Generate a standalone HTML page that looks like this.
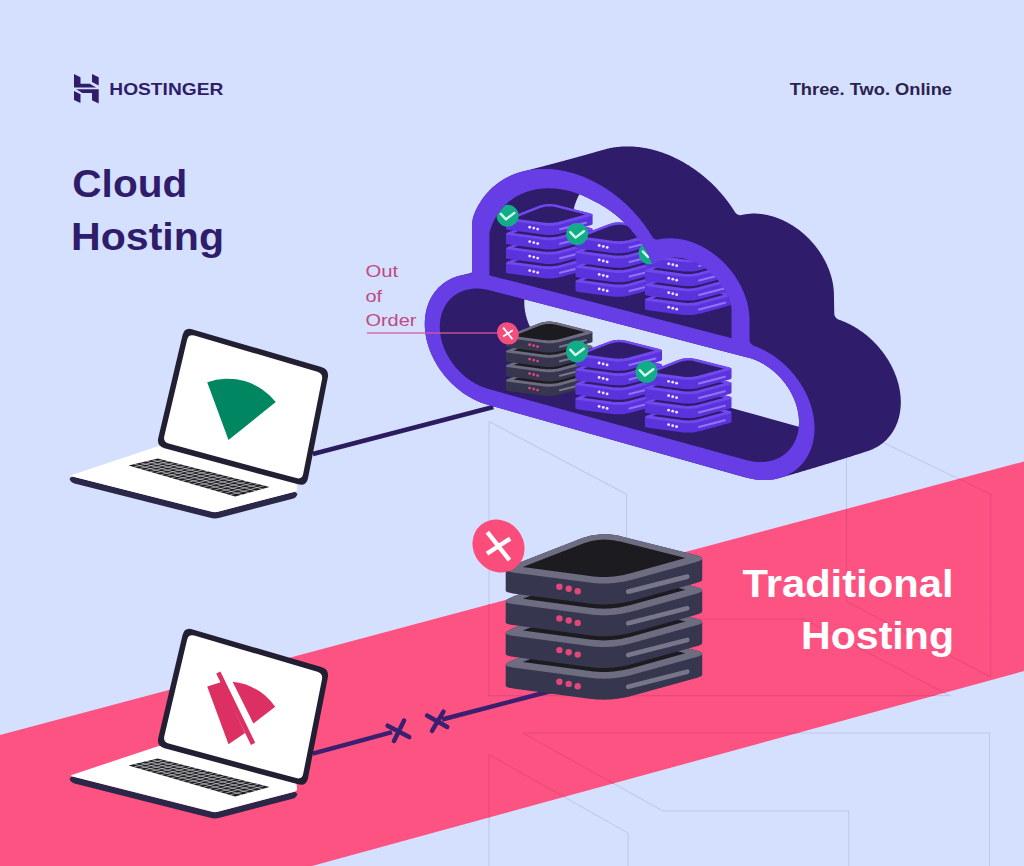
<!DOCTYPE html>
<html><head><meta charset="utf-8"><title>Cloud vs Traditional Hosting</title>
<style>html,body{margin:0;padding:0;background:#d5e0fe;overflow:hidden}svg{display:block}svg text{font-family:"Liberation Sans", sans-serif}</style>
</head><body>
<svg width="1024" height="866" viewBox="0 0 1024 866">
<rect width="1024" height="866" fill="#d5e0fe"/>
<path d="M489,421.6 L489,695.6 L950.8,695.6 M489,421.6 L626.6,494.2 L626.6,619 L804,619 L950.8,696.2 M846.5,440 L846.5,601.5 L990.7,677 L990.7,494.3 L880,441 M522.7,733 L989.5,733 L989.5,866 M522.7,733 L663,811 L848.8,811 L848.8,866 M489,754.4 L489,866 M489,754.4 L628,833 L628,866" fill="none" stroke="#c0c9ea" stroke-width="1.1"/>
<polygon points="0,735 1024,461.5 1024,671 312,866 0,866" fill="#fd5382"/>
<clipPath id="band"><polygon points="0,735 1024,461.5 1024,671 312,866 0,866"/></clipPath>
<path d="M489,421.6 L489,695.6 L950.8,695.6 M489,421.6 L626.6,494.2 L626.6,619 L804,619 L950.8,696.2 M846.5,440 L846.5,601.5 L990.7,677 L990.7,494.3 L880,441 M522.7,733 L989.5,733 L989.5,866 M522.7,733 L663,811 L848.8,811 L848.8,866 M489,754.4 L489,866 M489,754.4 L628,833 L628,866" fill="none" stroke="#e84a79" stroke-width="1.1" clip-path="url(#band)"/>
<line x1="312.9" y1="454.1" x2="493.3" y2="406.9" stroke="#2a1c5e" stroke-width="4.6"/>
<path d="M312.7,753.6 L392,732.2 M442,719.5 L554,690.2" stroke="#3b1f70" stroke-width="4.5" fill="none"/>
<path d="M387.6,725.7 L409.2,737.1 M404.1,720.6 L394,741 M427,715.5 L447.3,727 M443.5,711.7 L432,730.8" stroke="#3b1f70" stroke-width="4.5" stroke-linecap="round" fill="none"/>
<path d="M470.8,273.1 470.8,273.1 470.8,273.1 470.1,273.3 470.1,273.3 469.8,273.3 469.8,273.3 469.4,273.4 469.4,273.4 468.7,273.6 468.7,273.6 468.4,273.7 468.4,273.7 468.0,273.8 468.0,273.8 467.3,273.9 467.3,273.9 467.1,274.0 467.0,274.0 466.6,274.1 466.6,274.1 465.9,274.3 465.9,274.3 465.7,274.3 465.7,274.3 465.2,274.4 465.2,274.4 464.5,274.6 464.5,274.6 464.3,274.6 464.3,274.6 463.8,274.7 463.8,274.7 463.1,274.9 463.1,274.9 462.9,275.0 462.9,275.0 462.4,275.1 462.4,275.1 461.7,275.2 461.7,275.2 461.5,275.3 461.5,275.3 461.0,275.4 461.0,275.4 460.3,275.6 460.3,275.6 459.6,275.7 459.6,275.7 458.9,275.9 458.9,275.9 458.2,276.1 458.2,276.1 457.5,276.3 457.5,276.3 456.8,276.5 456.8,276.6 456.2,276.8 456.1,276.8 455.5,277.0 455.5,277.0 454.8,277.2 454.8,277.3 454.1,277.5 454.1,277.5 453.5,277.8 453.5,277.8 452.8,278.0 452.8,278.0 452.2,278.3 452.1,278.3 451.5,278.6 451.5,278.6 450.9,278.9 450.9,278.9 450.3,279.2 450.2,279.2 449.6,279.5 449.6,279.6 449.0,279.9 449.0,279.9 448.4,280.2 448.4,280.2 447.8,280.6 447.8,280.6 447.2,280.9 447.2,280.9 446.6,281.3 446.6,281.3 446.0,281.7 446.0,281.7 445.4,282.0 445.4,282.1 444.8,282.4 444.8,282.4 444.3,282.8 444.2,282.8 443.7,283.2 443.7,283.3 443.1,283.7 443.1,283.7 442.6,284.1 442.6,284.1 442.1,284.5 442.0,284.5 441.5,285.0 441.5,285.0 441.0,285.4 441.0,285.4 440.5,285.9 440.5,285.9 440.0,286.3 439.9,286.4 439.5,286.8 439.4,286.8 439.0,287.3 438.9,287.3 438.5,287.8 438.4,287.8 438.0,288.3 438.0,288.3 437.5,288.8 437.5,288.8 437.0,289.3 437.0,289.4 436.6,289.9 436.6,289.9 436.1,290.4 436.1,290.4 435.7,290.9 435.7,290.9 435.2,291.5 435.2,291.5 434.8,292.0 434.8,292.1 434.4,292.6 434.4,292.6 434.0,293.2 434.0,293.2 433.6,293.7 433.6,293.8 433.2,294.3 433.2,294.3 432.8,294.9 432.8,294.9 432.4,295.5 432.4,295.5 432.1,296.1 432.0,296.1 431.7,296.7 431.7,296.7 431.3,297.3 431.3,297.4 431.0,298.0 431.0,298.0 430.7,298.6 430.7,298.6 430.3,299.2 430.3,299.3 430.0,299.9 430.0,299.9 429.7,300.5 429.7,300.6 429.4,301.2 429.4,301.2 429.1,301.8 429.1,301.9 428.8,302.5 428.8,302.5 428.6,303.2 428.6,303.2 428.3,303.9 428.3,303.9 428.1,304.5 428.1,304.6 427.8,305.2 427.8,305.3 427.6,305.9 427.6,306.0 427.4,306.6 427.3,306.7 427.1,307.3 427.1,307.4 426.9,308.0 426.9,308.1 426.7,308.8 426.7,308.8 426.5,309.5 426.5,309.5 426.4,310.2 426.4,310.2 426.2,310.9 426.2,311.0 426.0,311.7 426.0,311.7 425.9,312.4 425.9,312.4 425.8,313.2 425.7,313.2 425.6,313.9 425.6,313.9 425.5,314.6 425.5,314.7 425.4,315.4 425.4,315.4 425.3,316.2 425.3,316.2 425.2,316.9 425.2,317.0 425.1,317.7 425.1,317.7 425.0,318.5 425.0,318.5 425.0,319.2 425.0,319.3 424.9,320.0 424.9,320.0 424.9,320.8 424.9,320.8 424.8,321.6 424.8,321.6 424.8,322.4 424.8,322.4 424.8,323.1 424.8,323.2 424.8,323.9 424.8,324.0 424.8,324.7 424.8,324.8 424.8,325.5 424.8,325.6 424.8,326.3 424.8,326.3 424.9,327.1 424.9,327.1 424.9,327.9 424.9,327.9 425.0,328.7 425.0,328.8 425.0,329.5 425.0,329.6 425.1,330.3 425.1,330.4 425.2,331.1 425.2,331.2 425.3,332.0 425.3,332.0 425.4,332.8 425.4,332.8 425.5,333.6 425.5,333.6 425.6,334.4 425.6,334.4 425.7,335.2 425.8,335.2 425.9,336.0 425.9,336.1 426.0,336.8 426.0,336.9 426.2,337.7 426.2,337.7 426.4,338.5 426.4,338.5 426.5,339.3 426.5,339.3 426.7,340.1 426.7,340.1 426.9,340.9 426.9,341.0 427.1,341.7 427.1,341.8 427.3,342.6 427.4,342.6 427.6,343.4 427.6,343.4 427.8,344.2 427.8,344.2 428.1,345.0 428.1,345.0 428.3,345.8 428.3,345.9 428.6,346.6 428.6,346.7 428.8,347.5 428.8,347.5 429.1,348.3 429.1,348.3 429.4,349.1 429.4,349.1 429.7,349.9 429.7,349.9 430.0,350.7 430.0,350.7 430.3,351.5 430.3,351.5 430.7,352.3 430.7,352.3 431.0,353.1 431.0,353.2 431.3,353.9 431.3,354.0 431.7,354.7 431.7,354.8 432.0,355.5 432.1,355.6 432.4,356.3 432.4,356.3 432.8,357.1 432.8,357.1 433.2,357.9 433.2,357.9 433.6,358.7 433.6,358.7 434.0,359.5 434.0,359.5 434.4,360.3 434.4,360.3 434.8,361.0 434.8,361.1 435.2,361.8 435.2,361.8 435.7,362.6 435.7,362.6 436.1,363.4 436.1,363.4 436.6,364.1 436.6,364.2 437.0,364.9 437.0,364.9 437.5,365.7 437.5,365.7 438.0,366.4 438.0,366.4 438.4,367.2 438.5,367.2 438.9,367.9 439.0,367.9 439.4,368.7 439.5,368.7 439.9,369.4 440.0,369.4 440.4,370.1 440.5,370.2 441.0,370.9 441.0,370.9 441.5,371.6 441.5,371.6 442.0,372.3 442.1,372.3 442.6,373.0 442.6,373.1 443.1,373.7 443.1,373.8 443.7,374.5 443.7,374.5 444.2,375.2 444.3,375.2 444.8,375.9 444.8,375.9 445.4,376.5 445.4,376.6 446.0,377.2 446.0,377.3 446.6,377.9 446.6,377.9 447.2,378.6 447.2,378.6 447.8,379.3 447.8,379.3 448.4,379.9 448.4,380.0 449.0,380.6 449.0,380.6 449.6,381.2 449.6,381.3 450.2,381.9 450.3,381.9 450.9,382.5 450.9,382.5 451.5,383.2 451.5,383.2 452.1,383.8 452.2,383.8 452.8,384.4 452.8,384.4 453.5,385.0 453.5,385.0 454.1,385.6 454.1,385.6 454.8,386.2 454.8,386.3 455.5,386.8 455.5,386.8 456.1,387.4 456.2,387.4 456.8,388.0 456.8,388.0 457.5,388.6 457.5,388.6 458.2,389.1 458.2,389.1 458.9,389.7 458.9,389.7 459.6,390.2 459.6,390.3 460.3,390.8 460.3,390.8 461.0,391.3 461.0,391.3 461.7,391.8 461.7,391.9 462.4,392.4 462.5,392.4 463.1,392.9 463.2,392.9 463.9,393.4 463.9,393.4 464.6,393.9 464.6,393.9 465.3,394.4 465.4,394.4 466.1,394.9 466.1,394.9 466.8,395.3 466.8,395.3 467.6,395.8 467.6,395.8 468.3,396.2 468.3,396.3 469.1,396.7 469.1,396.7 469.8,397.1 469.8,397.1 470.6,397.6 470.6,397.6 471.3,398.0 471.3,398.0 472.1,398.4 472.1,398.4 472.8,398.8 472.9,398.8 473.6,399.2 473.6,399.2 474.4,399.6 474.4,399.6 475.2,400.0 475.2,400.0 475.9,400.3 476.0,400.4 476.7,400.7 476.7,400.7 477.5,401.1 477.5,401.1 478.3,401.4 478.3,401.4 479.0,401.7 479.1,401.7 479.8,402.1 479.9,402.1 480.6,402.4 480.6,402.4 481.4,402.7 481.4,402.7 482.2,403.0 482.2,403.0 483.0,403.3 483.0,403.3 483.8,403.5 483.8,403.5 484.5,403.8 484.6,403.8 485.3,404.1 485.4,404.1 486.1,404.3 486.1,404.3 486.9,404.6 486.9,404.6 487.7,404.8 745.8,477.4 746.7,477.6 746.7,477.6 747.5,477.8 747.5,477.9 748.3,478.1 748.3,478.1 749.1,478.3 749.2,478.3 749.9,478.4 750.0,478.4 750.8,478.6 750.8,478.6 751.6,478.8 751.6,478.8 752.4,478.9 752.4,479.0 753.2,479.1 753.3,479.1 754.1,479.2 754.1,479.2 754.9,479.4 754.9,479.4 755.7,479.5 755.7,479.5 756.5,479.6 756.5,479.6 757.3,479.7 757.3,479.7 758.1,479.8 758.2,479.8 758.9,479.8 759.0,479.8 759.7,479.9 759.8,479.9 760.6,480.0 760.6,480.0 761.4,480.0 761.4,480.0 762.2,480.0 762.2,480.0 763.0,480.1 763.0,480.1 763.8,480.1 763.8,480.1 764.6,480.1 764.6,480.1 765.4,480.1 765.4,480.1 766.1,480.1 766.2,480.1 766.9,480.0 767.0,480.0 767.7,480.0 767.7,480.0 768.5,479.9 768.5,479.9 769.3,479.9 769.3,479.9 770.1,479.8 770.1,479.8 770.8,479.7 770.9,479.7 771.6,479.6 771.6,479.6 772.4,479.5 772.4,479.5 773.1,479.4 773.2,479.4 773.9,479.3 773.9,479.3 774.6,479.2 774.7,479.2 775.4,479.0 775.4,479.0 776.1,478.9 776.2,478.9 776.9,478.7 776.9,478.7 777.6,478.5 777.6,478.5 778.3,478.3 778.4,478.3 779.1,478.2 779.1,478.1 779.8,478.0 779.8,477.9 780.4,477.8 780.4,477.8 780.5,477.7 780.6,477.7 781.3,477.5 781.3,477.5 781.8,477.4 781.8,477.4 782.0,477.3 782.0,477.3 782.7,477.1 782.7,477.1 783.3,476.9 783.3,476.9 783.4,476.9 783.5,476.9 784.2,476.7 784.2,476.7 784.8,476.5 784.8,476.5 784.9,476.5 784.9,476.5 785.6,476.3 785.7,476.3 786.3,476.1 786.3,476.1 786.4,476.1 786.4,476.0 787.1,475.8 787.1,475.8 787.7,475.7 787.7,475.7 787.8,475.6 787.9,475.6 788.5,475.4 788.6,475.4 789.2,475.2 789.2,475.2 789.3,475.2 789.3,475.2 790.0,475.0 790.0,475.0 790.7,474.8 790.7,474.8 790.7,474.8 790.8,474.8 791.5,474.6 791.5,474.6 792.2,474.4 792.2,474.4 792.2,474.4 792.2,474.3 792.9,474.2 792.9,474.1 793.6,473.9 793.6,473.9 793.7,473.9 793.7,473.9 794.4,473.7 794.4,473.7 795.1,473.5 795.1,473.5 795.1,473.5 795.1,473.5 795.8,473.3 795.9,473.3 796.6,473.1 796.6,473.1 796.6,473.1 796.6,473.1 796.6,473.1 797.3,472.9 797.3,472.9 798.0,472.7 798.0,472.6 798.0,472.6 798.1,472.6 798.8,472.4 798.8,472.4 799.5,472.2 799.5,472.2 799.5,472.2 799.5,472.2 799.5,472.2 800.2,472.0 800.2,472.0 800.9,471.8 801.0,471.8 801.0,471.8 801.0,471.8 801.7,471.6 801.7,471.6 802.4,471.4 802.4,471.4 802.4,471.3 802.4,471.3 803.1,471.1 803.1,471.1 803.8,470.9 803.9,470.9 803.9,470.9 803.9,470.9 804.6,470.7 804.6,470.7 805.3,470.5 805.3,470.5 805.4,470.5 805.4,470.5 806.0,470.3 806.1,470.3 806.8,470.1 806.8,470.1 806.8,470.0 806.9,470.0 807.5,469.8 807.5,469.8 808.2,469.6 808.2,469.6 808.3,469.6 808.3,469.6 808.9,469.4 809.0,469.4 809.7,469.2 809.7,469.2 809.8,469.2 809.8,469.2 810.4,469.0 810.4,469.0 811.1,468.8 811.1,468.8 811.3,468.7 811.3,468.7 811.9,468.5 811.9,468.5 812.6,468.3 812.6,468.3 812.7,468.3 812.7,468.3 813.3,468.1 813.3,468.1 814.0,467.9 814.1,467.9 814.2,467.8 814.2,467.8 814.8,467.7 814.8,467.7 815.5,467.4 815.5,467.4 815.7,467.4 815.7,467.4 816.2,467.2 816.2,467.2 816.9,467.0 817.0,467.0 817.1,466.9 817.1,466.9 817.7,466.8 817.7,466.8 818.4,466.6 818.4,466.6 818.6,466.5 818.6,466.5 819.1,466.3 819.2,466.3 819.8,466.1 819.9,466.1 820.1,466.1 820.1,466.1 820.6,465.9 820.6,465.9 821.3,465.7 821.3,465.7 821.5,465.6 821.5,465.6 822.0,465.5 822.1,465.5 822.7,465.2 822.8,465.2 823.0,465.2 823.0,465.2 823.5,465.0 823.5,465.0 824.2,464.8 824.2,464.8 824.5,464.7 824.5,464.7 824.9,464.6 825.0,464.6 825.7,464.4 825.7,464.3 825.9,464.3 825.9,464.3 826.4,464.1 826.4,464.1 827.1,463.9 827.1,463.9 827.4,463.8 827.4,463.8 827.8,463.7 827.9,463.7 828.6,463.5 828.6,463.5 828.9,463.4 828.9,463.4 829.3,463.2 829.3,463.2 830.0,463.0 830.0,463.0 830.3,462.9 830.3,462.9 830.7,462.8 830.8,462.8 831.5,462.6 831.5,462.6 831.8,462.5 831.8,462.5 832.2,462.3 832.2,462.3 832.9,462.1 832.9,462.1 833.3,462.0 833.3,462.0 833.6,461.9 833.7,461.9 834.4,461.7 834.4,461.7 834.7,461.6 834.7,461.6 835.1,461.4 835.1,461.4 835.8,461.2 835.8,461.2 836.2,461.1 836.2,461.1 836.5,461.0 836.6,461.0 837.3,460.8 837.3,460.8 837.7,460.6 837.7,460.6 838.0,460.5 838.0,460.5 838.7,460.3 838.7,460.3 839.1,460.2 839.1,460.2 839.4,460.1 839.5,460.1 840.2,459.9 840.2,459.9 840.6,459.7 840.6,459.7 840.9,459.6 840.9,459.6 841.6,459.4 841.6,459.4 842.0,459.3 842.1,459.3 842.3,459.2 842.4,459.2 843.1,459.0 843.1,459.0 843.5,458.8 843.5,458.8 843.8,458.7 843.8,458.7 844.5,458.5 844.5,458.5 845.0,458.4 845.0,458.4 845.2,458.3 845.3,458.3 846.0,458.1 846.0,458.0 846.4,457.9 846.4,457.9 846.7,457.8 846.7,457.8 847.4,457.6 847.4,457.6 847.9,457.4 847.9,457.4 848.1,457.4 848.2,457.4 848.9,457.1 848.9,457.1 849.4,457.0 849.4,457.0 849.6,456.9 849.6,456.9 850.3,456.7 850.3,456.7 850.8,456.5 850.8,456.5 851.0,456.4 851.1,456.4 851.8,456.2 851.8,456.2 852.3,456.0 852.3,456.0 852.5,456.0 852.5,456.0 853.2,455.8 853.2,455.8 853.7,455.6 853.8,455.6 853.9,455.5 854.0,455.5 854.7,455.3 854.7,455.3 855.2,455.1 855.2,455.1 855.4,455.1 855.4,455.1 856.1,454.8 856.1,454.8 856.7,454.7 856.7,454.6 856.8,454.6 856.9,454.6 857.5,454.4 857.6,454.4 858.1,454.2 858.1,454.2 858.3,454.1 858.3,454.1 859.0,453.9 859.0,453.9 859.6,453.7 859.6,453.7 859.7,453.7 859.8,453.7 860.4,453.5 860.5,453.4 861.0,453.2 861.1,453.2 861.2,453.2 861.2,453.2 861.9,453.0 861.9,453.0 862.5,452.8 862.5,452.8 862.6,452.7 862.6,452.7 863.3,452.5 863.4,452.5 864.0,452.3 864.0,452.3 864.1,452.3 864.1,452.3 864.8,452.1 864.8,452.0 865.4,451.8 865.4,451.8 865.5,451.8 865.5,451.8 866.2,451.6 866.2,451.6 866.9,451.4 866.9,451.4 867.0,451.3 867.0,451.3 867.7,451.1 867.7,451.1 868.4,450.9 868.4,450.9 869.1,450.6 869.1,450.6 869.8,450.4 869.8,450.4 870.5,450.1 870.5,450.1 871.2,449.8 871.2,449.8 871.8,449.6 871.9,449.5 872.5,449.3 872.5,449.2 873.2,449.0 873.2,448.9 873.8,448.6 873.9,448.6 874.5,448.3 874.5,448.3 875.2,448.0 875.2,448.0 875.8,447.6 875.8,447.6 876.4,447.3 876.5,447.3 877.1,446.9 877.1,446.9 877.7,446.5 877.7,446.5 878.3,446.2 878.3,446.1 878.9,445.8 879.0,445.8 879.5,445.4 879.6,445.4 880.1,445.0 880.2,445.0 880.7,444.5 880.8,444.5 881.3,444.1 881.3,444.1 881.9,443.7 881.9,443.7 882.5,443.2 882.5,443.2 883.0,442.8 883.0,442.8 883.6,442.3 883.6,442.3 884.1,441.9 884.1,441.8 884.7,441.4 884.7,441.4 885.2,440.9 885.2,440.9 885.7,440.4 885.7,440.4 886.2,439.9 886.3,439.9 886.8,439.4 886.8,439.4 887.3,438.9 887.3,438.8 887.7,438.3 887.8,438.3 888.2,437.8 888.2,437.8 888.7,437.2 888.7,437.2 889.2,436.7 889.2,436.7 889.6,436.1 889.7,436.1 890.1,435.6 890.1,435.5 890.5,435.0 890.5,435.0 891.0,434.4 891.0,434.4 891.4,433.8 891.4,433.8 891.8,433.2 891.8,433.2 892.2,432.6 892.2,432.6 892.6,432.0 892.6,432.0 893.0,431.4 893.0,431.3 893.4,430.7 893.4,430.7 893.8,430.1 893.8,430.1 894.1,429.5 894.1,429.4 894.5,428.8 894.5,428.8 894.8,428.2 894.8,428.1 895.2,427.5 895.2,427.5 895.5,426.8 895.5,426.8 895.8,426.2 895.8,426.1 896.1,425.5 896.1,425.5 896.4,424.8 896.4,424.8 896.7,424.1 896.7,424.1 897.0,423.4 897.0,423.4 897.2,422.7 897.3,422.7 897.5,422.0 897.5,422.0 897.8,421.3 897.8,421.2 898.0,420.6 898.0,420.5 898.2,419.8 898.2,419.8 898.4,419.1 898.5,419.1 898.7,418.4 898.7,418.3 898.9,417.6 898.9,417.6 899.1,416.9 899.1,416.8 899.2,416.1 899.2,416.1 899.4,415.4 899.4,415.3 899.6,414.6 899.6,414.6 899.7,413.8 899.7,413.8 899.9,413.1 899.9,413.0 900.0,412.3 900.0,412.3 900.1,411.5 900.1,411.5 900.2,410.7 900.2,410.7 900.3,409.9 900.3,409.9 900.4,409.2 900.4,409.1 900.5,408.4 900.5,408.3 900.6,407.6 900.6,407.5 900.6,406.8 900.6,406.7 900.7,406.0 900.7,405.9 900.7,405.2 900.7,405.1 900.8,404.4 900.8,404.3 900.8,403.5 900.8,403.5 900.8,402.7 900.8,402.7 900.8,401.9 900.8,401.9 900.8,401.1 900.8,401.1 900.8,400.3 900.8,400.2 900.7,399.4 900.7,399.4 900.7,398.6 900.7,398.6 900.7,397.8 900.6,397.7 900.6,396.9 900.6,396.9 900.5,396.1 900.5,396.1 900.4,395.3 900.4,395.2 900.4,394.4 900.3,394.4 900.3,393.6 900.2,393.6 900.1,392.8 900.1,392.7 900.0,391.9 900.0,391.9 899.9,391.1 899.9,391.0 899.8,390.2 899.7,390.2 899.6,389.4 899.6,389.4 899.4,388.5 899.4,388.5 899.3,387.7 899.3,387.7 899.1,386.9 899.1,386.8 898.9,386.0 898.9,386.0 898.7,385.2 898.7,385.1 898.5,384.3 898.5,384.3 898.3,383.5 898.3,383.4 898.0,382.6 898.0,382.6 897.8,381.8 897.8,381.8 897.6,380.9 897.5,380.9 897.3,380.1 897.3,380.1 897.0,379.2 897.0,379.2 896.8,378.4 896.7,378.4 896.5,377.6 896.5,377.5 896.2,376.7 896.2,376.7 895.9,375.9 895.9,375.9 895.5,375.0 895.5,375.0 895.2,374.2 895.2,374.2 894.9,373.4 894.9,373.3 894.5,372.5 894.5,372.5 894.2,371.7 894.2,371.7 893.8,370.9 893.8,370.8 893.5,370.1 893.4,370.0 893.1,369.2 893.1,369.2 892.7,368.4 892.7,368.4 892.3,367.6 892.3,367.6 891.9,366.8 891.9,366.7 891.5,366.0 891.5,365.9 891.1,365.1 891.0,365.1 890.6,364.3 890.6,364.3 890.2,363.5 890.2,363.5 889.7,362.7 889.7,362.7 889.3,361.9 889.3,361.9 888.8,361.1 888.8,361.1 888.3,360.3 888.3,360.3 887.8,359.5 887.8,359.5 887.4,358.8 887.3,358.7 886.9,358.0 886.8,357.9 886.4,357.2 886.3,357.2 885.8,356.4 885.8,356.4 885.3,355.7 885.3,355.6 884.8,354.9 884.8,354.9 884.2,354.1 884.2,354.1 883.7,353.4 883.7,353.4 883.1,352.6 883.1,352.6 882.6,351.9 882.6,351.9 882.0,351.1 882.0,351.1 881.4,350.4 881.4,350.4 880.9,349.7 880.8,349.7 880.3,349.0 880.2,348.9 879.7,348.2 879.6,348.2 879.1,347.5 879.0,347.5 878.4,346.8 878.4,346.8 877.8,346.1 877.8,346.1 877.2,345.4 877.2,345.4 876.6,344.7 876.6,344.7 875.9,344.0 875.9,344.0 875.3,343.4 875.3,343.3 874.6,342.7 874.6,342.7 874.0,342.0 874.0,342.0 873.3,341.4 873.3,341.3 872.7,340.7 872.6,340.7 872.0,340.1 872.0,340.0 871.3,339.4 871.3,339.4 870.6,338.8 870.6,338.8 869.9,338.2 869.9,338.1 869.2,337.5 869.2,337.5 868.5,336.9 868.5,336.9 867.8,336.3 867.8,336.3 867.1,335.7 867.1,335.7 866.4,335.1 866.4,335.1 865.7,334.6 865.6,334.5 864.9,334.0 864.9,334.0 864.2,333.4 864.2,333.4 863.5,332.8 863.4,332.8 862.7,332.3 862.7,332.3 862.0,331.8 861.9,331.7 861.2,331.2 861.2,331.2 860.5,330.7 860.4,330.7 859.7,330.2 859.7,330.2 858.9,329.7 858.9,329.6 858.2,329.2 858.2,329.1 857.4,328.7 857.4,328.6 856.6,328.2 856.6,328.2 855.9,327.7 855.8,327.7 855.1,327.2 855.0,327.2 854.3,326.8 854.3,326.8 853.5,326.3 853.5,326.3 852.7,325.9 852.7,325.9 851.9,325.4 851.9,325.4 851.1,325.0 851.1,325.0 850.3,324.6 850.3,324.6 849.5,324.2 849.5,324.2 848.7,323.8 848.7,323.8 847.9,323.4 847.9,323.4 847.1,323.0 847.1,323.0 846.3,322.7 846.3,322.6 845.5,322.3 845.5,322.3 844.7,321.9 844.6,321.9 843.9,321.6 843.8,321.6 843.0,321.3 843.0,321.3 842.2,320.9 842.2,320.9 841.4,320.6 841.4,320.6 840.6,320.3 840.6,320.3 839.8,320.0 839.7,320.0 838.9,319.7 838.9,319.7 838.9,319.7 838.9,319.7 838.4,319.6 838.4,319.5 837.9,319.3 837.9,319.3 837.5,319.0 837.4,319.0 837.0,318.7 837.0,318.7 836.6,318.4 836.6,318.4 836.2,318.0 836.2,318.0 835.8,317.6 835.8,317.6 835.5,317.1 835.5,317.1 835.2,316.7 835.1,316.6 834.9,316.2 834.9,316.2 834.7,315.7 834.7,315.7 834.5,315.2 834.5,315.2 834.4,314.7 834.4,314.6 834.3,314.2 834.3,314.1 834.3,313.7 834.3,313.6 833.9,294.4 833.9,294.2 833.9,293.7 833.9,293.4 833.9,293.0 833.9,292.6 833.8,292.2 833.8,291.8 833.8,291.4 833.8,291.0 833.7,290.6 833.7,290.2 833.7,289.8 833.6,289.4 833.6,289.0 833.6,288.6 833.5,288.2 833.5,287.8 833.4,287.4 833.4,287.1 833.3,286.6 833.3,286.3 833.2,285.8 833.2,285.5 833.1,285.0 833.0,284.7 833.0,284.2 832.9,283.9 832.8,283.4 832.8,283.1 832.7,282.6 832.6,282.3 832.5,281.8 832.4,281.5 832.3,281.0 832.3,280.7 832.2,280.2 832.1,279.9 832.0,279.4 831.9,279.1 831.8,278.6 831.7,278.3 831.6,277.8 831.5,277.5 831.4,277.0 831.3,276.7 831.1,276.2 831.0,275.9 830.9,275.4 830.8,275.1 830.7,274.6 830.5,274.3 830.4,273.8 830.3,273.5 830.2,273.0 830.0,272.7 829.9,272.2 829.8,271.9 829.6,271.4 829.5,271.1 829.3,270.6 829.2,270.3 829.0,269.8 828.9,269.5 828.7,269.1 828.6,268.7 828.4,268.3 828.2,267.9 828.1,267.5 827.9,267.1 827.7,266.7 827.6,266.3 827.4,265.9 827.2,265.5 827.1,265.1 826.9,264.7 826.7,264.3 826.5,264.0 826.3,263.5 826.2,263.2 826.0,262.8 825.8,262.4 825.6,262.0 825.4,261.6 825.2,261.2 825.0,260.9 824.8,260.4 824.6,260.1 824.4,259.7 824.2,259.3 824.0,258.9 823.8,258.6 823.5,258.2 823.3,257.8 823.1,257.4 822.9,257.0 822.7,256.6 822.5,256.3 822.2,255.9 822.0,255.5 821.8,255.1 821.5,254.8 821.3,254.4 821.1,254.0 820.8,253.7 820.6,253.3 820.3,252.9 820.1,252.6 819.9,252.2 819.6,251.8 819.4,251.5 819.1,251.1 818.9,250.7 818.6,250.4 818.4,250.0 818.1,249.7 817.8,249.3 817.6,249.0 817.3,248.6 817.1,248.2 816.8,247.9 816.5,247.5 816.2,247.2 816.0,246.8 815.7,246.5 815.4,246.1 815.2,245.8 814.9,245.5 814.6,245.1 814.3,244.8 814.0,244.4 813.8,244.1 813.5,243.7 813.2,243.4 812.9,243.1 812.6,242.7 812.3,242.4 812.0,242.1 811.7,241.7 811.4,241.4 811.1,241.1 810.8,240.8 810.5,240.4 810.2,240.1 809.9,239.8 809.6,239.5 809.3,239.1 809.0,238.8 808.7,238.5 808.4,238.2 808.0,237.9 807.7,237.6 807.4,237.3 807.1,237.0 806.8,236.6 806.5,236.4 806.1,236.0 805.8,235.7 805.5,235.4 805.2,235.1 804.8,234.8 804.5,234.6 804.2,234.2 803.8,234.0 803.5,233.7 803.2,233.4 802.8,233.1 802.5,232.8 802.1,232.5 801.8,232.3 801.5,232.0 801.1,231.7 800.8,231.4 800.5,231.1 800.1,230.9 799.8,230.6 799.4,230.3 799.1,230.1 798.7,229.8 798.4,229.5 798.0,229.3 797.7,229.0 797.3,228.7 797.0,228.5 796.6,228.2 796.2,228.0 795.9,227.7 795.5,227.5 795.2,227.2 794.8,227.0 794.4,226.8 794.1,226.5 793.7,226.3 793.4,226.1 793.0,225.8 792.6,225.6 792.2,225.3 791.9,225.1 791.5,224.9 791.2,224.7 790.8,224.4 790.4,224.2 790.0,224.0 789.7,223.8 789.3,223.6 788.9,223.4 788.5,223.2 788.2,223.0 787.8,222.7 787.4,222.5 787.0,222.3 786.7,222.1 786.3,221.9 785.9,221.8 785.5,221.5 785.2,221.4 784.8,221.2 784.4,221.0 784.0,220.8 783.6,220.6 783.2,220.4 782.9,220.3 782.5,220.1 782.1,219.9 781.7,219.7 781.3,219.6 780.9,219.4 780.6,219.2 780.1,219.1 779.8,218.9 779.4,218.8 779.0,218.6 778.6,218.5 778.2,218.3 777.8,218.2 777.5,218.0 777.0,217.9 776.7,217.7 776.3,217.6 775.9,217.5 775.5,217.3 775.1,217.2 774.7,217.0 774.3,216.9 773.9,216.8 773.6,216.7 773.1,216.6 772.8,216.4 772.4,216.3 772.0,216.2 771.6,216.1 771.2,216.0 770.8,215.9 770.4,215.8 770.0,215.7 769.6,215.6 769.2,215.5 768.9,215.4 768.4,215.3 768.1,215.2 767.7,215.1 767.3,215.0 766.9,214.9 766.5,214.9 766.1,214.8 765.7,214.7 765.3,214.6 764.9,214.6 764.5,214.5 764.2,214.4 763.8,214.4 763.4,214.3 763.0,214.3 762.6,214.2 762.2,214.1 761.8,214.1 761.4,214.0 761.1,214.0 760.7,214.0 760.3,213.9 759.9,213.9 759.5,213.8 759.1,213.8 758.7,213.8 758.3,213.7 758.0,213.7 757.6,213.7 757.2,213.7 756.8,213.7 756.4,213.6 756.0,213.6 755.7,213.6 755.3,213.6 754.9,213.6 754.5,213.6 754.2,213.6 753.8,213.6 753.4,213.6 753.0,213.6 752.6,213.6 752.2,213.6 751.9,213.6 751.5,213.6 751.1,213.7 750.8,213.7 750.4,213.7 750.0,213.7 749.7,213.8 749.3,213.8 748.9,213.8 748.5,213.9 748.2,213.9 747.8,213.9 747.4,214.0 747.1,214.0 746.7,214.1 746.3,214.1 746.0,214.2 745.6,214.2 745.3,214.3 744.9,214.3 744.6,214.4 744.2,214.5 743.8,214.5 743.5,214.6 743.1,214.7 742.8,214.7 742.4,214.8 742.0,214.9 741.7,215.0 741.3,215.1 741.2,215.1 741.2,215.1 740.8,215.2 740.8,215.2 740.3,215.2 740.3,215.2 739.8,215.2 739.8,215.2 739.3,215.1 739.3,215.1 738.8,215.0 738.8,215.0 738.3,214.8 738.3,214.8 737.8,214.6 737.8,214.6 737.3,214.4 737.3,214.3 736.9,214.0 736.8,214.0 736.4,213.7 736.4,213.7 736.0,213.3 736.0,213.3 735.6,212.9 735.6,212.9 735.3,212.5 735.2,212.4 734.9,212.0 734.9,212.0 734.6,211.4 734.3,211.1 733.8,210.2 733.6,209.9 733.0,209.1 732.8,208.7 732.3,207.9 732.0,207.5 731.5,206.7 731.2,206.4 730.7,205.6 730.4,205.2 729.9,204.4 729.6,204.1 729.0,203.3 728.8,202.9 728.2,202.1 728.0,201.8 727.4,201.0 727.1,200.7 726.5,199.9 726.2,199.6 725.6,198.8 725.4,198.4 724.8,197.7 724.5,197.3 723.9,196.6 723.6,196.2 723.0,195.5 722.7,195.2 722.0,194.4 721.8,194.1 721.1,193.3 720.8,193.0 720.2,192.3 719.9,191.9 719.2,191.2 719.0,190.9 718.3,190.2 718.0,189.9 717.3,189.1 717.0,188.8 716.4,188.1 716.1,187.8 715.4,187.1 715.1,186.8 714.4,186.1 714.1,185.8 713.4,185.1 713.1,184.8 712.4,184.1 712.1,183.8 711.4,183.1 711.1,182.8 710.3,182.1 710.0,181.8 709.3,181.2 709.0,180.9 708.2,180.2 707.9,179.9 707.2,179.3 706.9,179.0 706.1,178.4 705.8,178.1 705.1,177.4 704.7,177.2 704.0,176.5 703.7,176.3 702.9,175.6 702.6,175.4 701.8,174.8 701.5,174.5 700.7,173.9 700.4,173.6 699.6,173.0 699.3,172.8 698.5,172.2 698.2,171.9 697.4,171.4 697.0,171.1 696.2,170.5 695.9,170.3 695.1,169.7 694.8,169.5 694.0,168.9 693.6,168.7 692.8,168.1 692.5,167.9 691.7,167.4 691.3,167.1 690.5,166.6 690.2,166.4 689.3,165.8 689.0,165.6 688.2,165.1 687.8,164.9 687.0,164.4 686.7,164.2 685.8,163.7 685.5,163.5 684.6,163.0 684.3,162.8 683.5,162.3 683.1,162.1 682.3,161.6 681.9,161.4 681.1,161.0 680.7,160.8 679.9,160.3 679.5,160.1 678.7,159.7 678.3,159.5 677.4,159.1 677.1,158.9 676.2,158.5 675.9,158.3 675.0,157.9 674.6,157.7 673.8,157.3 673.4,157.1 672.6,156.7 672.2,156.6 671.3,156.2 671.0,156.0 670.1,155.6 669.7,155.5 668.9,155.1 668.5,155.0 667.6,154.6 667.3,154.5 666.4,154.1 666.0,154.0 665.2,153.7 664.8,153.5 663.9,153.2 663.6,153.1 662.7,152.8 662.3,152.6 661.4,152.3 661.1,152.2 660.2,151.9 659.8,151.8 658.9,151.5 658.6,151.4 657.7,151.1 657.3,151.0 656.5,150.7 656.1,150.6 655.2,150.4 654.8,150.3 654.0,150.0 653.6,149.9 652.7,149.7 652.3,149.6 651.5,149.4 651.1,149.3 650.2,149.1 649.8,149.0 649.0,148.8 648.6,148.7 647.7,148.6 647.3,148.5 646.5,148.3 646.1,148.2 645.2,148.1 644.9,148.0 644.0,147.9 643.6,147.8 642.7,147.7 642.4,147.6 641.5,147.5 641.1,147.4 640.3,147.3 639.9,147.2 639.0,147.1 638.6,147.1 637.8,147.0 637.4,147.0 636.5,146.9 636.2,146.8 635.3,146.8 634.9,146.7 634.1,146.7 633.7,146.6 632.9,146.6 632.5,146.6 631.6,146.5 631.3,146.5 630.4,146.5 630.1,146.5 629.2,146.4 628.8,146.4 628.0,146.4 627.6,146.4 626.8,146.4 626.4,146.4 625.6,146.4 625.2,146.4 624.4,146.5 624.0,146.5 623.2,146.5 622.8,146.5 622.0,146.6 621.6,146.6 620.8,146.7 620.5,146.7 619.6,146.7 619.3,146.8 618.4,146.9 618.1,146.9 617.3,147.0 616.9,147.0 616.1,147.1 615.8,147.2 614.9,147.3 614.6,147.3 613.8,147.4 613.4,147.5 612.6,147.6 612.3,147.7 611.5,147.8 611.2,147.9 610.4,148.1 610.0,148.1 609.2,148.3 608.9,148.4 608.1,148.5 607.8,148.6 607.0,148.8 606.7,148.9 605.9,149.1 605.6,149.2 604.8,149.4 604.4,149.5 603.7,149.7 603.4,149.8 603.2,149.8 603.2,149.8 603.1,149.9 602.3,150.1 602.0,150.2 601.9,150.2 601.8,150.2 601.7,150.2 601.0,150.5 600.6,150.6 600.5,150.6 600.5,150.6 600.4,150.6 599.6,150.9 599.3,151.0 599.2,151.0 599.2,151.0 599.0,151.0 598.2,151.2 597.9,151.3 597.8,151.4 597.8,151.4 597.7,151.4 596.9,151.6 596.6,151.7 596.5,151.8 596.5,151.8 596.3,151.8 595.5,152.0 595.2,152.1 595.2,152.1 595.1,152.1 594.9,152.2 594.2,152.4 593.8,152.5 593.8,152.5 593.8,152.5 593.6,152.6 592.8,152.8 592.5,152.9 592.5,152.9 592.5,152.9 592.2,153.0 591.5,153.2 591.1,153.3 591.1,153.3 590.9,153.3 590.1,153.6 589.8,153.6 589.8,153.7 589.5,153.7 588.7,153.9 588.5,154.0 588.5,154.0 588.1,154.1 587.4,154.3 587.1,154.4 587.1,154.4 587.1,154.4 586.8,154.5 586.0,154.7 585.8,154.8 585.8,154.8 585.8,154.8 585.4,154.9 584.7,155.1 584.4,155.2 584.4,155.2 584.4,155.2 584.1,155.3 583.3,155.5 583.1,155.5 583.1,155.5 583.0,155.5 582.7,155.6 581.9,155.9 581.8,155.9 581.8,155.9 581.7,155.9 581.3,156.0 580.6,156.2 580.4,156.3 580.4,156.3 580.3,156.3 580.0,156.4 579.2,156.6 579.1,156.6 579.1,156.6 578.9,156.7 578.6,156.8 577.8,157.0 577.7,157.0 577.7,157.0 577.6,157.1 577.3,157.1 576.5,157.4 576.4,157.4 576.4,157.4 576.2,157.4 575.9,157.5 575.1,157.7 575.0,157.8 575.0,157.8 574.9,157.8 574.5,157.9 573.8,158.1 573.7,158.1 573.7,158.1 573.5,158.2 573.2,158.3 572.4,158.5 572.4,158.5 572.3,158.5 572.1,158.6 571.8,158.6 571.0,158.9 571.0,158.9 571.0,158.9 570.8,158.9 570.4,159.0 569.7,159.2 569.7,159.2 569.7,159.2 569.4,159.3 569.1,159.4 568.3,159.6 568.3,159.6 568.0,159.7 567.7,159.8 567.0,160.0 567.0,160.0 566.7,160.0 566.4,160.1 565.7,160.3 565.7,160.3 565.3,160.4 565.0,160.5 564.3,160.7 564.3,160.7 564.0,160.8 563.6,160.9 563.0,161.0 563.0,161.0 562.6,161.1 562.3,161.2 561.6,161.4 561.6,161.4 561.2,161.5 560.9,161.6 560.3,161.8 560.3,161.8 559.9,161.9 559.5,162.0 559.0,162.1 559.0,162.1 558.5,162.2 558.2,162.3 557.6,162.5 557.6,162.5 557.1,162.6 556.8,162.7 556.3,162.8 556.3,162.8 555.8,163.0 555.4,163.1 555.0,163.2 555.0,163.2 554.4,163.3 554.1,163.4 553.6,163.5 553.6,163.5 553.0,163.7 552.7,163.8 552.3,163.9 552.3,163.9 551.7,164.1 551.3,164.1 550.9,164.3 550.9,164.3 550.3,164.4 550.0,164.5 549.6,164.6 549.6,164.6 548.9,164.8 548.6,164.9 548.3,165.0 548.3,165.0 547.6,165.1 547.2,165.2 546.9,165.3 546.9,165.3 546.2,165.5 545.9,165.6 545.6,165.7 545.6,165.7 544.8,165.8 544.5,165.9 544.2,166.0 544.2,166.0 543.5,166.2 543.1,166.3 542.9,166.4 542.9,166.4 542.9,166.4 542.1,166.6 541.8,166.6 541.5,166.7 541.5,166.7 541.5,166.7 540.7,166.9 540.4,167.0 540.2,167.1 540.2,167.1 540.1,167.1 539.4,167.3 539.0,167.4 538.8,167.4 538.8,167.4 538.8,167.4 538.0,167.6 537.7,167.7 537.5,167.8 537.5,167.8 537.4,167.8 536.6,168.0 536.3,168.1 536.1,168.1 536.1,168.1 536.0,168.1 535.3,168.3 534.9,168.4 534.8,168.4 534.8,168.4 534.7,168.5 533.9,168.7 533.6,168.8 533.4,168.8 533.4,168.8 533.3,168.8 532.5,169.0 532.2,169.1 532.1,169.1 532.1,169.1 531.9,169.2 531.1,169.4 530.8,169.5 530.7,169.5 530.7,169.5 530.6,169.5 529.8,169.7 529.5,169.8 529.4,169.8 529.4,169.8 529.2,169.9 528.4,170.1 528.1,170.2 528.0,170.2 528.0,170.2 527.8,170.2 527.0,170.4 526.7,170.5 526.7,170.5 526.7,170.5 526.4,170.6 525.7,170.8 525.3,170.8 525.3,170.8 525.3,170.8 525.1,170.9 524.3,171.1 524.0,171.2 524.0,171.2 523.7,171.3 522.9,171.5 522.6,171.5 521.8,171.7 521.5,171.8 520.7,172.0 520.4,172.1 519.6,172.4 519.3,172.5 518.6,172.7 518.2,172.8 517.5,173.1 517.2,173.2 516.4,173.4 516.1,173.5 515.4,173.8 515.1,173.9 514.3,174.2 514.0,174.3 513.3,174.6 513.0,174.7 512.3,175.0 512.0,175.2 511.2,175.5 510.9,175.6 510.2,175.9 509.9,176.1 509.2,176.4 508.9,176.6 508.2,176.9 507.9,177.0 507.2,177.4 506.9,177.6 506.3,177.9 506.0,178.1 505.3,178.4 505.0,178.6 504.3,179.0 504.1,179.2 503.4,179.5 503.1,179.7 502.4,180.1 502.2,180.3 501.5,180.7 501.2,180.9 500.6,181.3 500.3,181.5 499.7,181.9 499.4,182.1 498.8,182.5 498.5,182.7 497.9,183.2 497.7,183.4 497.0,183.8 496.8,184.0 496.2,184.5 495.9,184.7 495.3,185.2 495.1,185.4 494.5,185.9 494.2,186.1 493.6,186.6 493.4,186.8 492.8,187.3 492.6,187.5 492.0,188.1 491.8,188.3 491.2,188.8 491.0,189.0 490.4,189.6 490.2,189.8 489.7,190.3 489.4,190.6 488.9,191.1 488.7,191.4 488.2,191.9 487.9,192.2 487.4,192.7 487.2,193.0 486.7,193.5 486.5,193.8 486.0,194.4 485.8,194.6 485.3,195.2 485.1,195.5 484.6,196.1 484.4,196.3 483.9,197.0 483.7,197.2 483.3,197.8 483.1,198.1 482.6,198.7 482.4,199.0 482.0,199.6 481.8,199.9 481.4,200.5 481.2,200.8 480.8,201.5 480.6,201.8 480.2,202.4 480.0,202.7 479.6,203.4 479.4,203.6 479.0,204.3 478.8,204.6 478.5,205.3 478.3,205.6 477.9,206.3 477.8,206.6 477.4,207.3 477.2,207.5 476.9,208.3 476.7,208.6 476.4,209.3 476.2,209.6 475.9,210.3 475.7,210.6 475.4,211.3 475.3,211.6 475.0,212.3 474.8,212.7 474.5,213.4 474.4,213.7 474.1,214.4 474.1,214.4 474.1,214.4 474.1,214.4 473.7,215.6 473.7,215.6 473.6,215.7 473.6,215.7 473.2,217.0 473.2,217.0 473.2,217.1 473.2,217.1 472.9,218.3 472.9,218.3 472.9,218.4 472.9,218.5 472.6,219.7 472.6,219.7 472.6,219.9 472.6,219.9 472.5,221.2 472.5,221.2 472.4,221.3 472.4,221.3 472.3,222.6 472.3,222.6 472.3,222.8 472.3,222.8 472.3,224.2 472.3,224.2 472.3,224.2 472.3,224.2 472.3,270.4 472.3,270.4 472.3,270.8 472.3,270.9 472.2,271.3 472.2,271.3 472.1,271.7 472.1,271.8 471.9,272.1 471.9,272.2 471.7,272.5 471.7,272.5 471.5,272.9 471.5,272.9 471.5,272.9 471.5,272.9 471.4,272.9 471.4,273.0 471.4,273.0 471.3,273.0 471.2,273.0 471.2,273.0Z" fill="#2f1c6a"/>
<path d="M724.6,289.5 724.4,289.1 724.3,288.9 724.1,288.6 724.0,288.4 723.8,288.1 723.7,288.0 723.6,287.8 723.4,287.5 723.3,287.3 723.1,286.9 723.0,286.7 722.7,286.4 722.6,286.2 722.4,285.8 722.3,285.7 722.0,285.3 721.9,285.1 721.7,284.8 721.6,284.8 721.5,284.6 721.5,284.5 721.3,284.2 721.2,284.1 720.9,283.7 720.8,283.5 720.5,283.2 720.4,283.0 720.1,282.6 720.0,282.5 719.9,282.3 719.7,282.1 719.6,282.0 719.3,281.6 719.2,281.5 719.1,281.2 718.9,281.1 718.8,281.0 718.5,280.6 718.4,280.4 718.1,280.1 718.0,279.9 717.9,279.9 717.7,279.6 717.6,279.4 717.3,279.1 717.2,279.0 717.1,278.8 716.9,278.6 716.7,278.5 716.7,278.4 716.4,278.1 716.3,278.0 716.3,278.0 716.0,277.6 715.9,277.5 715.6,277.2 715.4,277.0 715.1,276.7 715.0,276.5 714.9,276.4 714.7,276.2 714.5,276.1 714.2,275.7 714.1,275.6 714.0,275.5 713.8,275.3 713.6,275.1 713.4,274.9 713.3,274.8 713.2,274.7 712.8,274.4 712.7,274.2 712.4,273.9 712.2,273.8 711.9,273.5 711.8,273.3 711.4,273.0 711.3,272.9 710.9,272.6 710.8,272.5 710.5,272.2 710.3,272.1 710.1,271.8 710.0,271.8 709.8,271.6 709.5,271.3 709.3,271.2 709.0,270.9 708.8,270.8 708.5,270.5 708.3,270.4 708.0,270.1 707.8,270.0 707.5,269.7 707.3,269.6 707.0,269.3 706.8,269.2 706.5,268.9 706.3,268.8 706.1,268.7 706.0,268.6 705.8,268.4 705.6,268.3 705.4,268.2 705.3,268.1 704.9,267.8 704.8,267.7 704.4,267.4 704.2,267.3 703.9,267.1 703.7,267.0 703.7,267.0 703.3,266.7 703.2,266.6 702.8,266.4 702.7,266.3 702.4,266.1 702.3,266.0 702.1,265.9 701.7,265.7 701.6,265.6 701.2,265.4 701.0,265.3 701.0,265.3 700.7,265.0 700.5,265.0 700.1,264.7 700.0,264.6 699.6,264.4 699.4,264.3 699.0,264.1 698.9,264.0 698.6,263.9 698.5,263.8 698.3,263.7 697.9,263.5 697.8,263.4 697.4,263.2 697.2,263.1 696.8,263.0 696.7,262.9 696.3,262.7 696.1,262.6 695.7,262.4 695.5,262.3 695.2,262.2 695.0,262.1 694.9,262.0 694.6,261.9 694.4,261.8 694.0,261.6 693.9,261.6 693.5,261.4 693.3,261.3 692.9,261.2 692.7,261.1 692.3,260.9 692.2,260.9 691.8,260.7 691.6,260.7 691.3,260.5 691.2,260.5 691.0,260.4 690.6,260.3 690.5,260.2 690.3,260.2 690.1,260.1 689.9,260.0 689.5,259.9 689.3,259.8 688.9,259.7 688.8,259.7 688.6,259.6 688.4,259.5 688.2,259.5 687.8,259.4 687.6,259.3 687.2,259.2 687.1,259.1 686.7,259.0 686.5,259.0 686.3,258.9 686.1,258.9 685.9,258.8 685.7,258.8 685.5,258.7 685.3,258.7 684.9,258.6 684.8,258.6 684.4,258.5 684.2,258.4 683.8,258.3 683.6,258.3 683.4,258.3 683.2,258.2 683.1,258.2 682.7,258.1 682.5,258.1 682.1,258.0 681.9,258.0 681.8,258.0 681.5,257.9 681.4,257.9 681.0,257.8 680.8,257.8 680.4,257.7 680.2,257.7 679.8,257.7 679.7,257.6 679.3,257.6 679.1,257.6 678.7,257.5 678.5,257.5 678.1,257.5 678.0,257.5 677.6,257.4 677.4,257.4 677.0,257.4 676.8,257.4 676.5,257.4 676.3,257.4 676.0,257.4 675.9,257.3 675.7,257.3 675.3,257.3 675.2,257.3 674.9,257.3 674.8,257.3 674.6,257.3 674.2,257.3 674.1,257.3 673.7,257.3 673.5,257.3 673.3,257.3 673.1,257.3 673.0,257.3 672.6,257.3 672.4,257.4 672.0,257.4 671.9,257.4 671.5,257.4 671.3,257.4 671.0,257.4 671.0,257.4 670.8,257.5 670.4,257.5 670.3,257.5 669.9,257.6 669.7,257.6 669.6,257.6 669.3,257.6 669.2,257.6 668.8,257.7 668.7,257.7 668.3,257.8 668.3,257.8 668.1,257.8 667.8,257.8 667.6,257.9 667.2,257.9 667.1,258.0 666.7,258.0 666.6,258.1 666.2,258.1 666.0,258.2 665.7,258.3 665.5,258.3 665.2,258.4 665.0,258.4 664.7,258.5 664.5,258.5 664.2,258.6 664.0,258.7 663.7,258.8 663.5,258.8 663.2,258.9 663.0,259.0 662.7,259.1 662.5,259.1 662.2,259.2 662.0,259.3 661.9,259.3 661.7,259.4 661.5,259.5 661.2,259.6 661.1,259.6 660.7,259.8 660.6,259.8 660.2,260.0 660.1,260.0 659.8,260.1 659.6,260.2 659.3,260.4 659.2,260.4 658.8,260.6 658.7,260.6 658.4,260.8 658.2,260.8 657.9,261.0 657.8,261.1 657.5,261.2 657.3,261.3 657.0,261.5 656.9,261.5 656.6,261.7 656.6,261.7 656.4,261.8 656.1,262.0 656.0,262.0 655.9,262.1 655.7,262.2 655.6,262.3 655.3,262.5 655.1,262.6 654.8,262.7 654.7,262.8 654.4,263.0 654.3,263.1 654.1,263.3 654.0,263.3 653.9,263.4 653.6,263.6 653.5,263.7 653.2,263.9 653.1,264.0 652.8,264.2 652.7,264.3 652.7,264.3 652.5,264.4 652.5,264.2 652.4,264.1 652.3,263.8 652.2,263.6 651.9,262.7 651.9,262.7 651.8,262.5 651.4,261.7 651.3,261.5 651.0,260.6 650.9,260.4 650.5,259.6 650.4,259.4 650.3,259.2 650.0,258.5 649.9,258.3 649.5,257.5 649.4,257.3 649.0,256.4 648.9,256.2 648.5,255.4 648.4,255.2 648.0,254.3 647.9,254.2 647.7,253.8 647.4,253.3 647.3,253.1 646.9,252.3 646.8,252.1 646.3,251.3 646.2,251.1 645.7,250.2 645.6,250.1 645.5,249.8 645.1,249.2 645.0,249.1 644.5,248.2 644.4,248.0 643.9,247.2 643.8,247.0 643.3,246.2 643.2,246.0 642.7,245.2 642.6,245.0 642.1,244.2 642.0,244.0 641.9,243.9 641.4,243.2 641.3,243.1 640.8,242.2 640.7,242.1 640.1,241.3 640.0,241.1 639.4,240.3 639.3,240.1 639.1,239.9 638.7,239.3 638.6,239.2 638.0,238.4 637.9,238.2 637.3,237.4 637.2,237.3 636.6,236.5 636.5,236.3 635.9,235.5 635.8,235.4 635.2,234.6 635.0,234.4 634.4,233.7 634.3,233.5 633.7,232.8 633.5,232.6 632.9,231.8 632.8,231.7 632.1,230.9 632.0,230.8 631.7,230.5 631.4,230.0 631.2,229.9 630.6,229.1 630.5,229.0 629.8,228.3 629.7,228.1 629.0,227.4 628.9,227.2 628.2,226.5 628.0,226.4 627.7,226.0 627.4,225.7 627.2,225.5 626.5,224.8 626.4,224.7 626.0,224.3 625.7,224.0 625.6,223.8 624.9,223.1 624.7,223.0 624.0,222.3 623.9,222.2 623.2,221.5 623.0,221.3 622.3,220.7 622.2,220.5 621.4,219.9 621.3,219.7 620.5,219.1 620.4,218.9 619.7,218.3 619.5,218.2 618.8,217.5 618.6,217.4 617.9,216.8 617.7,216.6 617.0,216.0 616.8,215.9 616.6,215.7 616.1,215.3 615.9,215.1 615.5,214.8 615.1,214.5 615.0,214.4 614.2,213.8 614.1,213.7 613.7,213.4 613.3,213.1 613.1,213.0 613.1,212.9 612.4,212.4 612.2,212.2 611.4,211.7 611.3,211.6 610.9,211.3 610.5,211.0 610.3,210.9 609.5,210.3 609.4,210.2 608.6,209.6 608.4,209.5 608.0,209.3 607.6,209.0 607.4,208.9 606.6,208.3 606.5,208.2 605.7,207.7 605.5,207.6 604.7,207.1 604.5,207.0 604.5,207.0 603.7,206.5 603.6,206.4 602.7,205.9 602.6,205.8 601.7,205.3 601.6,205.2 600.8,204.7 600.6,204.6 599.8,204.1 599.6,204.0 598.8,203.6 598.6,203.5 597.8,203.0 597.6,202.9 596.7,202.5 596.6,202.4 595.9,202.0 595.7,202.0 595.6,201.9 594.7,201.4 594.6,201.4 593.7,200.9 593.5,200.9 592.9,200.5 592.7,200.5 592.6,200.4 592.5,200.3 592.3,200.2 591.5,199.8 591.3,199.7 590.5,199.3 590.3,199.2 590.2,199.1 589.5,198.8 589.4,198.7 588.5,198.3 588.4,198.2 587.6,197.8 587.4,197.7 586.6,197.3 586.4,197.2 585.6,196.9 585.4,196.8 584.6,196.4 584.6,196.4 584.4,196.3 584.3,196.3 583.6,196.0 583.4,195.9 583.3,195.8 582.6,195.5 582.4,195.5 581.6,195.1 581.4,195.1 580.6,194.7 580.4,194.6 580.4,194.6 579.6,194.3 579.4,194.3 579.4,194.2 579.4,194.3 579.3,194.4 579.0,195.0 578.9,195.1 578.9,195.3 578.5,195.9 578.4,196.1 578.1,196.8 578.0,196.9 577.7,197.6 577.6,197.7 577.3,198.4 577.3,198.6 577.0,199.3 576.9,199.4 576.6,200.1 576.5,200.3 576.4,200.5 576.3,201.0 576.2,201.1 576.1,201.4 575.9,201.8 575.9,202.0 575.6,202.7 575.5,202.9 575.4,203.2 575.3,203.6 575.2,203.8 575.1,204.3 575.0,204.5 574.9,204.6 574.7,205.4 574.6,205.5 574.6,205.6 574.4,206.2 574.3,206.8 574.1,207.4 574.0,208.0 574.0,208.6 573.9,209.3 573.9,209.9 573.9,232.2 573.9,236.7 573.9,248.4 573.9,250.7 574.5,250.9 587.9,254.4 724.9,290.0 724.7,289.7ZM798.9,426.0 798.9,425.4 798.9,424.8 799.0,424.1 799.0,423.5 799.0,422.9 799.0,422.2 799.0,421.6 799.0,421.0 799.0,420.3 798.9,419.7 798.9,419.1 798.9,418.4 798.8,417.8 798.8,417.1 798.7,416.5 798.6,415.8 798.5,415.2 798.4,414.5 798.3,413.9 798.2,413.2 798.1,412.6 798.0,411.9 797.9,411.3 797.7,410.6 797.6,410.0 797.5,409.3 797.3,408.7 797.1,408.0 797.0,407.4 796.8,406.7 796.6,406.1 796.4,405.4 796.2,404.8 796.0,404.1 795.8,403.5 795.5,402.8 795.3,402.2 795.1,401.5 794.8,400.9 794.6,400.2 794.3,399.6 794.1,398.9 793.8,398.3 793.5,397.7 793.2,397.0 792.9,396.4 792.6,395.7 792.3,395.1 792.0,394.5 791.7,393.9 791.3,393.2 791.0,392.6 790.7,392.0 790.3,391.4 790.0,390.8 789.6,390.1 789.2,389.5 788.9,388.9 788.5,388.3 788.1,387.7 787.7,387.1 787.3,386.5 786.9,385.9 786.5,385.4 786.1,384.8 785.7,384.2 785.2,383.6 784.8,383.0 784.4,382.5 783.9,381.9 783.5,381.3 783.0,380.8 782.6,380.2 782.1,379.7 781.6,379.1 781.1,378.6 780.7,378.1 780.2,377.5 779.7,377.0 779.2,376.5 778.7,376.0 778.2,375.5 777.7,375.0 777.2,374.5 776.6,374.0 776.1,373.5 775.6,373.0 775.1,372.5 774.5,372.0 774.0,371.6 773.4,371.1 772.9,370.6 772.3,370.2 771.8,369.7 771.2,369.3 770.7,368.9 770.1,368.4 769.5,368.0 768.9,367.6 768.4,367.2 767.8,366.8 767.2,366.4 766.6,366.0 766.0,365.6 765.4,365.2 764.8,364.9 764.3,364.5 763.7,364.1 763.1,363.8 762.4,363.5 761.8,363.1 761.2,362.8 760.6,362.5 760.0,362.1 759.4,361.8 758.8,361.5 758.2,361.2 757.5,361.0 756.9,360.7 756.3,360.4 755.7,360.1 755.1,359.9 754.4,359.6 753.8,359.4 753.2,359.1 752.5,358.9 751.9,358.7 751.3,358.5 750.7,358.3 750.0,358.1 749.4,357.9 748.8,357.7 748.1,357.5 747.5,357.4 524.4,299.3 524.4,299.9 524.3,300.5 524.3,301.1 524.3,301.7 524.3,302.3 524.3,303.0 524.3,303.6 524.3,304.2 524.4,304.8 524.4,305.4 524.4,306.0 524.5,306.6 524.5,307.3 524.6,307.9 524.7,308.5 524.8,309.1 524.8,309.8 524.9,310.4 525.0,311.0 525.1,311.6 525.3,312.3 525.4,312.9 525.5,313.5 525.6,314.1 525.8,314.8 525.9,315.4 526.1,316.0 526.3,316.6 526.4,317.3 526.6,317.9 526.8,318.5 527.0,319.2 527.2,319.8 527.4,320.4 527.6,321.0 527.8,321.6 528.1,322.3 528.3,322.9 528.5,323.5 528.8,324.1 529.1,324.7 529.3,325.4 529.6,326.0 529.9,326.6 530.1,327.2 530.4,327.8 530.7,328.4 531.0,329.0 531.3,329.6 531.7,330.2 532.0,330.8 532.3,331.4 532.6,332.0 533.0,332.6 533.3,333.2 533.7,333.8 534.0,334.4 534.4,334.9 534.8,335.5 535.2,336.1 535.5,336.7 535.9,337.2 536.3,337.8 536.7,338.4 537.1,338.9 537.5,339.5 537.9,340.0 538.4,340.6 538.8,341.1 539.2,341.7 539.7,342.2 540.1,342.7 540.6,343.3 541.0,343.8 541.5,344.3 541.9,344.8 542.4,345.3 542.9,345.8 543.3,346.3 543.8,346.8 544.3,347.3 544.8,347.8 545.3,348.3 545.8,348.8 546.3,349.2 546.8,349.7 547.3,350.2 547.8,350.6 548.4,351.1 548.9,351.5 549.4,351.9 549.9,352.4 550.5,352.8 551.0,353.2 551.5,353.6 552.1,354.1 552.6,354.5 553.2,354.9 553.7,355.3 554.3,355.6 554.9,356.0 555.4,356.4 556.0,356.8 556.6,357.1 557.1,357.5 557.7,357.8 558.3,358.2 558.9,358.5 559.4,358.9 560.0,359.2 560.6,359.5 561.2,359.8 561.8,360.1 562.4,360.4 563.0,360.7 563.5,361.0 564.1,361.3 564.7,361.5 565.3,361.8 565.9,362.0 566.5,362.3 567.1,362.5 567.7,362.8 568.3,363.0 568.9,363.2 569.6,363.4 570.2,363.6 570.8,363.8 571.4,364.0 572.0,364.2 572.6,364.4 573.2,364.6 798.8,426.7 798.8,426.6Z" fill="#d5e0fe"/>
<clipPath id="openings"><path d="M489.5,232.5 489.5,233.1 489.4,233.8 489.4,234.4 489.4,256.7 489.4,261.2 489.4,272.9 489.4,275.2 490.0,275.4 503.4,278.9 717.5,334.6 727.5,337.1 731.5,338.2 731.5,326.8 731.5,324.2 731.5,319.7 731.5,309.2 731.5,308.5 731.4,307.8 731.3,307.0 731.2,306.3 731.1,305.6 731.0,305.5 731.0,305.3 730.9,305.1 730.8,304.7 730.8,304.5 730.7,304.1 730.6,303.9 730.5,303.5 730.5,303.3 730.4,302.9 730.3,302.8 730.2,302.4 730.2,302.3 730.1,302.2 730.0,301.8 729.9,301.6 729.8,301.3 729.8,301.2 729.8,301.0 729.6,300.6 729.6,300.4 729.4,300.0 729.4,299.8 729.2,299.4 729.1,299.2 729.0,298.8 728.9,298.6 728.9,298.5 728.8,298.2 728.7,298.1 728.5,297.7 728.5,297.5 728.3,297.1 728.2,296.9 728.1,296.5 728.0,296.3 727.8,295.9 727.8,295.7 727.7,295.7 727.6,295.3 727.5,295.2 727.3,294.8 727.2,294.6 727.1,294.2 727.0,294.2 727.0,294.0 726.8,293.6 726.7,293.4 726.5,293.0 726.4,292.9 726.2,292.5 726.1,292.3 725.9,291.9 725.8,291.7 725.8,291.7 725.6,291.3 725.5,291.2 725.3,290.8 725.2,290.6 725.2,290.5 725.0,290.2 724.9,290.1 724.7,289.7 724.6,289.5 724.4,289.1 724.3,288.9 724.1,288.6 724.0,288.4 723.8,288.1 723.7,288.0 723.6,287.8 723.4,287.5 723.3,287.3 723.1,286.9 723.0,286.7 722.7,286.4 722.6,286.2 722.4,285.8 722.3,285.7 722.0,285.3 721.9,285.1 721.7,284.8 721.6,284.8 721.5,284.6 721.5,284.5 721.3,284.2 721.2,284.1 720.9,283.7 720.8,283.5 720.5,283.2 720.4,283.0 720.1,282.6 720.0,282.5 719.9,282.3 719.7,282.1 719.6,282.0 719.3,281.6 719.2,281.5 719.1,281.2 718.9,281.1 718.8,281.0 718.5,280.6 718.4,280.4 718.1,280.1 718.0,279.9 717.9,279.9 717.7,279.6 717.6,279.4 717.3,279.1 717.2,279.0 717.1,278.8 716.9,278.6 716.7,278.5 716.7,278.4 716.4,278.1 716.3,278.0 716.3,278.0 716.0,277.6 715.9,277.5 715.6,277.2 715.4,277.0 715.1,276.7 715.0,276.5 714.9,276.4 714.7,276.2 714.5,276.1 714.2,275.7 714.1,275.6 714.0,275.5 713.8,275.3 713.6,275.1 713.4,274.9 713.3,274.8 713.2,274.7 712.8,274.4 712.7,274.2 712.4,273.9 712.2,273.8 711.9,273.5 711.8,273.3 711.4,273.0 711.3,272.9 710.9,272.6 710.8,272.5 710.5,272.2 710.3,272.1 710.1,271.8 710.0,271.8 709.8,271.6 709.5,271.3 709.3,271.2 709.0,270.9 708.8,270.8 708.5,270.5 708.3,270.4 708.0,270.1 707.8,270.0 707.5,269.7 707.3,269.6 707.0,269.3 706.8,269.2 706.5,268.9 706.3,268.8 706.1,268.7 706.0,268.6 705.8,268.4 705.6,268.3 705.4,268.2 705.3,268.1 704.9,267.8 704.8,267.7 704.4,267.4 704.2,267.3 703.9,267.1 703.7,267.0 703.7,267.0 703.3,266.7 703.2,266.6 702.8,266.4 702.7,266.3 702.4,266.1 702.3,266.0 702.1,265.9 701.7,265.7 701.6,265.6 701.2,265.4 701.0,265.3 701.0,265.3 700.7,265.0 700.5,265.0 700.1,264.7 700.0,264.6 699.6,264.4 699.4,264.3 699.0,264.1 698.9,264.0 698.6,263.9 698.5,263.8 698.3,263.7 697.9,263.5 697.8,263.4 697.4,263.2 697.2,263.1 696.8,263.0 696.7,262.9 696.3,262.7 696.1,262.6 695.7,262.4 695.5,262.3 695.2,262.2 695.0,262.1 694.9,262.0 694.6,261.9 694.4,261.8 694.0,261.6 693.9,261.6 693.5,261.4 693.3,261.3 692.9,261.2 692.7,261.1 692.3,260.9 692.2,260.9 691.8,260.7 691.6,260.7 691.3,260.5 691.2,260.5 691.0,260.4 690.6,260.3 690.5,260.2 690.3,260.2 690.1,260.1 689.9,260.0 689.5,259.9 689.3,259.8 688.9,259.7 688.8,259.7 688.6,259.6 688.4,259.5 688.2,259.5 687.8,259.4 687.6,259.3 687.2,259.2 687.1,259.1 686.7,259.0 686.5,259.0 686.3,258.9 686.1,258.9 685.9,258.8 685.7,258.8 685.5,258.7 685.3,258.7 684.9,258.6 684.8,258.6 684.4,258.5 684.2,258.4 683.8,258.3 683.6,258.3 683.4,258.3 683.2,258.2 683.1,258.2 682.7,258.1 682.5,258.1 682.1,258.0 681.9,258.0 681.8,258.0 681.5,257.9 681.4,257.9 681.0,257.8 680.8,257.8 680.4,257.7 680.2,257.7 679.8,257.7 679.7,257.6 679.3,257.6 679.1,257.6 678.7,257.5 678.5,257.5 678.1,257.5 678.0,257.5 677.6,257.4 677.4,257.4 677.0,257.4 676.8,257.4 676.5,257.4 676.3,257.4 676.0,257.4 675.9,257.3 675.7,257.3 675.3,257.3 675.2,257.3 674.9,257.3 674.8,257.3 674.6,257.3 674.2,257.3 674.1,257.3 673.7,257.3 673.5,257.3 673.3,257.3 673.1,257.3 673.0,257.3 672.6,257.3 672.4,257.4 672.0,257.4 671.9,257.4 671.5,257.4 671.3,257.4 671.0,257.4 671.0,257.4 670.8,257.5 670.4,257.5 670.3,257.5 669.9,257.6 669.7,257.6 669.6,257.6 669.3,257.6 669.2,257.6 668.8,257.7 668.7,257.7 668.3,257.8 668.3,257.8 668.1,257.8 667.8,257.8 667.6,257.9 667.2,257.9 667.1,258.0 666.7,258.0 666.6,258.1 666.2,258.1 666.0,258.2 665.7,258.3 665.5,258.3 665.2,258.4 665.0,258.4 664.7,258.5 664.5,258.5 664.2,258.6 664.0,258.7 663.7,258.8 663.5,258.8 663.2,258.9 663.0,259.0 662.7,259.1 662.5,259.1 662.2,259.2 662.0,259.3 661.9,259.3 661.7,259.4 661.5,259.5 661.2,259.6 661.1,259.6 660.7,259.8 660.6,259.8 660.2,260.0 660.1,260.0 659.8,260.1 659.6,260.2 659.3,260.4 659.2,260.4 658.8,260.6 658.7,260.6 658.4,260.8 658.2,260.8 657.9,261.0 657.8,261.1 657.5,261.2 657.3,261.3 657.0,261.5 656.9,261.5 656.6,261.7 656.6,261.7 656.4,261.8 656.1,262.0 656.0,262.0 655.9,262.1 655.7,262.2 655.6,262.3 655.3,262.5 655.1,262.6 654.8,262.7 654.7,262.8 654.4,263.0 654.3,263.1 654.1,263.3 654.0,263.3 653.9,263.4 653.6,263.6 653.5,263.7 653.2,263.9 653.1,264.0 652.8,264.2 652.7,264.3 652.7,264.3 652.5,264.4 652.5,264.2 652.4,264.1 652.3,263.8 652.2,263.6 651.9,262.7 651.9,262.7 651.8,262.5 651.4,261.7 651.3,261.5 651.0,260.6 650.9,260.4 650.5,259.6 650.4,259.4 650.3,259.2 650.0,258.5 649.9,258.3 649.5,257.5 649.4,257.3 649.0,256.4 648.9,256.2 648.5,255.4 648.4,255.2 648.0,254.3 647.9,254.2 647.7,253.8 647.4,253.3 647.3,253.1 646.9,252.3 646.8,252.1 646.3,251.3 646.2,251.1 645.7,250.2 645.6,250.1 645.5,249.8 645.1,249.2 645.0,249.1 644.5,248.2 644.4,248.0 643.9,247.2 643.8,247.0 643.3,246.2 643.2,246.0 642.7,245.2 642.6,245.0 642.1,244.2 642.0,244.0 641.9,243.9 641.4,243.2 641.3,243.1 640.8,242.2 640.7,242.1 640.1,241.3 640.0,241.1 639.4,240.3 639.3,240.1 639.1,239.9 638.7,239.3 638.6,239.2 638.0,238.4 637.9,238.2 637.3,237.4 637.2,237.3 636.6,236.5 636.5,236.3 635.9,235.5 635.8,235.4 635.2,234.6 635.0,234.4 634.4,233.7 634.3,233.5 633.7,232.8 633.5,232.6 632.9,231.8 632.8,231.7 632.1,230.9 632.0,230.8 631.7,230.5 631.4,230.0 631.2,229.9 630.6,229.1 630.5,229.0 629.8,228.3 629.7,228.1 629.0,227.4 628.9,227.2 628.2,226.5 628.0,226.4 627.7,226.0 627.4,225.7 627.2,225.5 626.5,224.8 626.4,224.7 626.0,224.3 625.7,224.0 625.6,223.8 624.9,223.1 624.7,223.0 624.0,222.3 623.9,222.2 623.2,221.5 623.0,221.3 622.3,220.7 622.2,220.5 621.4,219.9 621.3,219.7 620.5,219.1 620.4,218.9 619.7,218.3 619.5,218.2 618.8,217.5 618.6,217.4 617.9,216.8 617.7,216.6 617.0,216.0 616.8,215.9 616.6,215.7 616.1,215.3 615.9,215.1 615.5,214.8 615.1,214.5 615.0,214.4 614.2,213.8 614.1,213.7 613.7,213.4 613.3,213.1 613.1,213.0 613.1,212.9 612.4,212.4 612.2,212.2 611.4,211.7 611.3,211.6 610.9,211.3 610.5,211.0 610.3,210.9 609.5,210.3 609.4,210.2 608.6,209.6 608.4,209.5 608.0,209.3 607.6,209.0 607.4,208.9 606.6,208.3 606.5,208.2 605.7,207.7 605.5,207.6 604.7,207.1 604.5,207.0 604.5,207.0 603.7,206.5 603.6,206.4 602.7,205.9 602.6,205.8 601.7,205.3 601.6,205.2 600.8,204.7 600.6,204.6 599.8,204.1 599.6,204.0 598.8,203.6 598.6,203.5 597.8,203.0 597.6,202.9 596.7,202.5 596.6,202.4 595.9,202.0 595.7,202.0 595.6,201.9 594.7,201.4 594.6,201.4 593.7,200.9 593.5,200.9 592.9,200.5 592.7,200.5 592.6,200.4 592.5,200.3 592.3,200.2 591.5,199.8 591.3,199.7 590.5,199.3 590.3,199.2 590.2,199.1 589.5,198.8 589.4,198.7 588.5,198.3 588.4,198.2 587.6,197.8 587.4,197.7 586.6,197.3 586.4,197.2 585.6,196.9 585.4,196.8 584.6,196.4 584.6,196.4 584.4,196.3 584.3,196.3 583.6,196.0 583.4,195.9 583.3,195.8 582.6,195.5 582.4,195.5 581.6,195.1 581.4,195.1 580.6,194.7 580.4,194.6 580.4,194.6 579.6,194.3 579.4,194.3 578.6,193.9 578.4,193.9 578.1,193.8 577.6,193.6 577.4,193.5 576.6,193.2 576.4,193.2 575.6,192.9 575.4,192.8 575.4,192.8 574.5,192.5 574.4,192.5 573.5,192.2 573.4,192.2 572.5,191.9 572.4,191.9 572.1,191.8 571.5,191.6 571.3,191.6 570.5,191.3 570.3,191.3 569.5,191.1 569.3,191.0 568.5,190.8 568.3,190.8 567.5,190.6 567.3,190.5 566.7,190.4 566.4,190.3 566.3,190.3 565.4,190.1 565.3,190.1 564.4,189.9 564.3,189.9 563.4,189.7 563.4,189.7 563.2,189.7 562.4,189.5 562.2,189.5 561.4,189.4 561.2,189.3 560.7,189.3 560.4,189.2 560.2,189.2 559.4,189.1 559.2,189.0 558.4,188.9 558.4,188.9 558.2,188.9 557.4,188.8 557.2,188.8 556.4,188.7 556.2,188.7 555.5,188.6 555.4,188.6 555.2,188.6 554.5,188.5 554.4,188.5 554.2,188.5 554.2,188.5 553.4,188.5 553.2,188.4 552.4,188.4 552.2,188.4 552.0,188.4 551.4,188.4 551.2,188.3 550.4,188.3 550.3,188.3 550.0,188.3 549.4,188.3 549.3,188.3 548.5,188.3 548.3,188.3 547.5,188.3 547.3,188.3 546.5,188.3 546.3,188.3 545.5,188.4 545.4,188.4 545.1,188.4 544.6,188.4 544.4,188.4 543.6,188.5 543.4,188.5 543.4,188.5 542.6,188.5 542.5,188.6 542.5,188.6 541.7,188.6 541.5,188.6 540.7,188.7 540.6,188.7 539.8,188.8 539.6,188.9 538.8,189.0 538.7,189.0 537.9,189.1 537.7,189.1 537.0,189.3 536.8,189.3 536.0,189.4 535.9,189.4 535.1,189.6 535.0,189.6 534.3,189.8 534.2,189.8 534.0,189.8 533.3,190.0 533.1,190.0 532.7,190.1 532.4,190.2 532.2,190.2 532.2,190.2 531.5,190.4 531.3,190.5 530.6,190.7 530.4,190.7 530.3,190.7 529.7,190.9 529.5,190.9 529.3,191.0 528.8,191.2 528.7,191.2 527.9,191.4 527.8,191.5 527.1,191.7 526.9,191.8 526.2,192.0 526.2,192.0 526.0,192.1 525.3,192.3 525.2,192.4 524.5,192.7 524.3,192.7 523.6,193.0 523.5,193.1 523.0,193.3 522.8,193.4 522.7,193.4 522.0,193.7 521.8,193.8 521.1,194.1 521.0,194.1 520.3,194.5 520.2,194.5 519.5,194.9 519.4,194.9 518.7,195.3 518.6,195.3 518.3,195.5 517.9,195.7 517.8,195.8 517.1,196.1 517.0,196.2 516.8,196.3 516.3,196.6 516.2,196.6 515.6,197.0 515.4,197.1 514.8,197.5 514.7,197.6 514.1,198.0 513.9,198.1 513.3,198.5 513.2,198.5 512.6,199.0 512.5,199.0 511.8,199.5 511.7,199.6 511.2,200.0 511.1,200.0 511.0,200.1 510.6,200.4 510.4,200.5 510.3,200.6 509.7,201.1 509.6,201.2 509.4,201.3 509.0,201.6 508.9,201.7 508.5,202.1 508.3,202.2 508.2,202.3 507.7,202.8 507.5,202.9 507.5,202.9 507.0,203.4 506.9,203.5 506.6,203.7 506.3,204.0 506.2,204.1 505.9,204.3 505.7,204.6 505.6,204.7 505.3,204.9 505.0,205.2 504.9,205.3 504.6,205.6 504.4,205.8 504.3,205.9 503.8,206.5 503.7,206.6 503.4,206.8 503.2,207.1 503.1,207.2 502.7,207.7 502.6,207.8 502.5,207.9 502.0,208.4 501.9,208.6 501.4,209.1 501.3,209.2 500.9,209.8 500.8,209.9 500.3,210.5 500.2,210.6 499.7,211.2 499.7,211.3 499.2,211.9 499.1,212.1 498.7,212.7 498.6,212.8 498.2,213.4 498.1,213.5 497.7,214.2 497.6,214.3 497.2,214.9 497.1,215.0 496.7,215.7 496.6,215.8 496.2,216.4 496.1,216.6 495.7,217.2 495.7,217.4 495.6,217.6 495.3,218.0 495.2,218.1 494.9,218.8 494.8,218.9 494.5,219.5 494.4,219.6 494.4,219.8 494.0,220.4 493.9,220.6 493.6,221.3 493.5,221.4 493.2,222.1 493.1,222.2 492.8,222.9 492.8,223.1 492.5,223.8 492.4,223.9 492.1,224.6 492.0,224.8 491.9,225.0 491.8,225.5 491.7,225.6 491.6,225.9 491.4,226.3 491.4,226.5 491.1,227.2 491.0,227.4 490.9,227.7 490.8,228.1 490.7,228.3 490.6,228.8 490.5,229.0 490.4,229.1 490.2,229.9 490.1,230.0 490.1,230.1 489.9,230.7 489.8,231.3 489.6,231.9ZM488.7,290.1 488.1,289.9 487.5,289.8 486.9,289.6 486.3,289.5 485.7,289.4 485.1,289.3 484.4,289.2 483.8,289.1 483.2,289.0 482.6,288.9 482.0,288.9 481.4,288.8 480.8,288.7 480.2,288.7 479.6,288.7 479.0,288.6 478.5,288.6 477.9,288.6 477.3,288.6 476.7,288.6 476.1,288.6 475.5,288.6 474.9,288.6 474.4,288.6 473.8,288.7 473.2,288.7 472.6,288.8 472.1,288.8 471.5,288.9 470.9,289.0 470.4,289.1 469.8,289.2 469.2,289.2 468.7,289.4 468.1,289.5 467.6,289.6 467.0,289.7 466.5,289.9 466.0,290.0 465.4,290.1 464.9,290.3 464.4,290.5 463.9,290.6 463.3,290.8 462.8,291.0 462.3,291.2 461.8,291.4 461.3,291.6 460.8,291.8 460.3,292.1 459.8,292.3 459.3,292.5 458.8,292.8 458.4,293.0 457.9,293.3 457.4,293.6 457.0,293.8 456.5,294.1 456.1,294.4 455.6,294.7 455.2,295.0 454.7,295.3 454.3,295.6 453.9,295.9 453.4,296.3 453.0,296.6 452.6,296.9 452.2,297.3 451.8,297.6 451.4,298.0 451.0,298.4 450.7,298.7 450.3,299.1 449.9,299.5 449.5,299.9 449.2,300.3 448.8,300.7 448.5,301.1 448.1,301.5 447.8,301.9 447.5,302.4 447.2,302.8 446.8,303.2 446.5,303.7 446.2,304.1 445.9,304.6 445.6,305.0 445.4,305.5 445.1,306.0 444.8,306.4 444.6,306.9 444.3,307.4 444.0,307.9 443.8,308.4 443.6,308.9 443.3,309.4 443.1,309.9 442.9,310.4 442.7,310.9 442.5,311.4 442.3,312.0 442.1,312.5 441.9,313.0 441.8,313.6 441.6,314.1 441.4,314.7 441.3,315.2 441.1,315.8 441.0,316.3 440.9,316.9 440.8,317.4 440.6,318.0 440.5,318.6 440.4,319.1 440.3,319.7 440.3,320.3 440.2,320.9 440.1,321.5 440.0,322.1 440.0,322.6 439.9,323.2 439.9,323.8 439.9,324.4 439.8,325.0 439.8,325.6 439.8,326.2 439.8,326.8 439.8,327.5 439.8,328.1 439.8,328.7 439.9,329.3 439.9,329.9 439.9,330.5 440.0,331.1 440.0,331.8 440.1,332.4 440.2,333.0 440.3,333.6 440.3,334.3 440.4,334.9 440.5,335.5 440.6,336.1 440.8,336.8 440.9,337.4 441.0,338.0 441.1,338.6 441.3,339.3 441.4,339.9 441.6,340.5 441.8,341.1 441.9,341.8 442.1,342.4 442.3,343.0 442.5,343.7 442.7,344.3 442.9,344.9 443.1,345.5 443.3,346.1 443.6,346.8 443.8,347.4 444.0,348.0 444.3,348.6 444.6,349.2 444.8,349.9 445.1,350.5 445.4,351.1 445.6,351.7 445.9,352.3 446.2,352.9 446.5,353.5 446.8,354.1 447.2,354.7 447.5,355.3 447.8,355.9 448.1,356.5 448.5,357.1 448.8,357.7 449.2,358.3 449.5,358.9 449.9,359.4 450.3,360.0 450.7,360.6 451.0,361.2 451.4,361.7 451.8,362.3 452.2,362.9 452.6,363.4 453.0,364.0 453.4,364.5 453.9,365.1 454.3,365.6 454.7,366.2 455.2,366.7 455.6,367.2 456.1,367.8 456.5,368.3 457.0,368.8 457.4,369.3 457.9,369.8 458.4,370.3 458.8,370.8 459.3,371.3 459.8,371.8 460.3,372.3 460.8,372.8 461.3,373.3 461.8,373.7 462.3,374.2 462.8,374.7 463.3,375.1 463.9,375.6 464.4,376.0 464.9,376.4 465.4,376.9 466.0,377.3 466.5,377.7 467.0,378.1 467.6,378.6 468.1,379.0 468.7,379.4 469.2,379.8 469.8,380.1 470.4,380.5 470.9,380.9 471.5,381.3 472.1,381.6 472.6,382.0 473.2,382.3 473.8,382.7 474.4,383.0 474.9,383.4 475.5,383.7 476.1,384.0 476.7,384.3 477.3,384.6 477.9,384.9 478.5,385.2 479.0,385.5 479.6,385.8 480.2,386.0 480.8,386.3 481.4,386.5 482.0,386.8 482.6,387.0 483.2,387.3 483.8,387.5 484.4,387.7 485.1,387.9 485.7,388.1 486.3,388.3 486.9,388.5 487.5,388.7 488.1,388.9 488.7,389.1 746.9,460.2 747.5,460.4 748.1,460.5 748.8,460.7 749.4,460.8 750.0,460.9 750.7,461.1 751.3,461.2 751.9,461.3 752.5,461.4 753.2,461.5 753.8,461.6 754.4,461.7 755.1,461.8 755.7,461.8 756.3,461.9 756.9,461.9 757.5,462.0 758.2,462.0 758.8,462.0 759.4,462.1 760.0,462.1 760.6,462.1 761.2,462.1 761.8,462.0 762.4,462.0 763.1,462.0 763.7,462.0 764.3,461.9 764.8,461.9 765.4,461.8 766.0,461.7 766.6,461.6 767.2,461.6 767.8,461.5 768.4,461.4 768.9,461.2 769.5,461.1 770.1,461.0 770.7,460.9 771.2,460.7 771.8,460.6 772.3,460.4 772.9,460.3 773.4,460.1 774.0,459.9 774.5,459.7 775.1,459.5 775.6,459.3 776.1,459.1 776.6,458.9 777.2,458.7 777.7,458.4 778.2,458.2 778.7,457.9 779.2,457.7 779.7,457.4 780.2,457.2 780.7,456.9 781.1,456.6 781.6,456.3 782.1,456.0 782.6,455.7 783.0,455.4 783.5,455.1 783.9,454.7 784.4,454.4 784.8,454.1 785.2,453.7 785.7,453.4 786.1,453.0 786.5,452.6 786.9,452.3 787.3,451.9 787.7,451.5 788.1,451.1 788.5,450.7 788.9,450.3 789.2,449.9 789.6,449.5 790.0,449.0 790.3,448.6 790.7,448.2 791.0,447.7 791.3,447.3 791.7,446.8 792.0,446.4 792.3,445.9 792.6,445.4 792.9,444.9 793.2,444.5 793.5,444.0 793.8,443.5 794.1,443.0 794.3,442.5 794.6,442.0 794.8,441.4 795.1,440.9 795.3,440.4 795.5,439.9 795.8,439.3 796.0,438.8 796.2,438.3 796.4,437.7 796.6,437.2 796.8,436.6 797.0,436.1 797.1,435.5 797.3,434.9 797.5,434.4 797.6,433.8 797.7,433.2 797.9,432.6 798.0,432.0 798.1,431.4 798.2,430.8 798.3,430.3 798.4,429.7 798.5,429.0 798.6,428.4 798.7,427.8 798.8,427.2 798.8,426.6 798.9,426.0 798.9,425.4 798.9,424.8 799.0,424.1 799.0,423.5 799.0,422.9 799.0,422.2 799.0,421.6 799.0,421.0 799.0,420.3 798.9,419.7 798.9,419.1 798.9,418.4 798.8,417.8 798.8,417.1 798.7,416.5 798.6,415.8 798.5,415.2 798.4,414.5 798.3,413.9 798.2,413.2 798.1,412.6 798.0,411.9 797.9,411.3 797.7,410.6 797.6,410.0 797.5,409.3 797.3,408.7 797.1,408.0 797.0,407.4 796.8,406.7 796.6,406.1 796.4,405.4 796.2,404.8 796.0,404.1 795.8,403.5 795.5,402.8 795.3,402.2 795.1,401.5 794.8,400.9 794.6,400.2 794.3,399.6 794.1,398.9 793.8,398.3 793.5,397.7 793.2,397.0 792.9,396.4 792.6,395.7 792.3,395.1 792.0,394.5 791.7,393.9 791.3,393.2 791.0,392.6 790.7,392.0 790.3,391.4 790.0,390.8 789.6,390.1 789.2,389.5 788.9,388.9 788.5,388.3 788.1,387.7 787.7,387.1 787.3,386.5 786.9,385.9 786.5,385.4 786.1,384.8 785.7,384.2 785.2,383.6 784.8,383.0 784.4,382.5 783.9,381.9 783.5,381.3 783.0,380.8 782.6,380.2 782.1,379.7 781.6,379.1 781.1,378.6 780.7,378.1 780.2,377.5 779.7,377.0 779.2,376.5 778.7,376.0 778.2,375.5 777.7,375.0 777.2,374.5 776.6,374.0 776.1,373.5 775.6,373.0 775.1,372.5 774.5,372.0 774.0,371.6 773.4,371.1 772.9,370.6 772.3,370.2 771.8,369.7 771.2,369.3 770.7,368.9 770.1,368.4 769.5,368.0 768.9,367.6 768.4,367.2 767.8,366.8 767.2,366.4 766.6,366.0 766.0,365.6 765.4,365.2 764.8,364.9 764.3,364.5 763.7,364.1 763.1,363.8 762.4,363.5 761.8,363.1 761.2,362.8 760.6,362.5 760.0,362.1 759.4,361.8 758.8,361.5 758.2,361.2 757.5,361.0 756.9,360.7 756.3,360.4 755.7,360.1 755.1,359.9 754.4,359.6 753.8,359.4 753.2,359.1 752.5,358.9 751.9,358.7 751.3,358.5 750.7,358.3 750.0,358.1 749.4,357.9 748.8,357.7 748.1,357.5 747.5,357.4 489.3,290.2Z"/></clipPath>
<g clip-path="url(#openings)">
<path d="M549.3,247.5 547.8,247.6 546.2,247.7 544.7,247.9 543.2,248.2 541.7,248.6 540.1,249.1 538.6,249.6 508.8,261.3 507.9,261.6 507.2,262.0 506.7,262.3 506.3,262.6 506.1,262.9 506.0,263.1 506.0,272.4 506.1,272.6 506.4,272.9 506.8,273.1 507.5,273.3 508.2,273.4 509.2,273.6 542.8,278.1 544.4,278.3 546.0,278.4 547.6,278.5 549.2,278.5 550.7,278.5 552.3,278.4 553.9,278.3 555.5,278.1 557.0,277.8 558.6,277.5 560.2,277.2 561.7,276.8 589.6,269.1 590.5,268.8 591.3,268.6 591.8,268.3 592.2,268.0 592.5,267.8 592.6,267.5 592.6,258.2 592.5,258.0 592.2,257.7 591.8,257.5 591.2,257.2 590.5,257.0 589.6,256.7 557.1,248.5 555.5,248.1 553.9,247.8 552.4,247.7 550.8,247.5Z" fill="#5b33dc"/>
<path d="M509.2,264.3 508.2,264.2 507.5,264.0 506.8,263.8 506.4,263.6 506.1,263.4 506.0,263.1 506.1,262.9 506.3,262.6 506.7,262.3 507.2,262.0 507.9,261.6 508.8,261.3 538.6,249.6 540.1,249.1 541.7,248.6 543.2,248.2 544.7,247.9 546.2,247.7 547.8,247.6 549.3,247.5 550.8,247.5 552.4,247.7 553.9,247.8 555.5,248.1 557.1,248.5 589.6,256.7 590.5,257.0 591.2,257.2 591.8,257.5 592.2,257.7 592.5,258.0 592.6,258.2 592.5,258.5 592.2,258.8 591.8,259.0 591.3,259.3 590.5,259.6 589.6,259.8 561.7,267.5 560.2,267.9 558.6,268.3 557.0,268.6 555.5,268.8 553.9,269.0 552.3,269.1 550.7,269.2 549.2,269.2 547.6,269.2 546.0,269.1 544.4,269.0 542.8,268.8Z" fill="#7048ee"/>
<path d="M543.1,265.9 544.6,266.1 546.2,266.2 547.7,266.3 549.2,266.3 550.6,266.3 552.1,266.2 553.6,266.1 555.1,265.9 556.6,265.7 558.1,265.4 559.6,265.1 561.0,264.7 585.2,258.1 556.4,250.8 555.0,250.4 553.6,250.2 552.1,250.0 550.7,249.9 549.3,249.9 547.9,249.9 546.5,250.1 545.1,250.3 543.8,250.5 542.4,250.9 541.0,251.3 539.6,251.8 513.6,262.0Z" fill="#2f1c6a"/>
<circle cx="529.7" cy="270.6" r="1.4" fill="#ece6ff"/>
<circle cx="533.8" cy="271.6" r="1.4" fill="#ece6ff"/>
<circle cx="537.7" cy="272.6" r="1.4" fill="#ece6ff"/>
<line x1="560.0" y1="272.8" x2="586.0" y2="266.2" stroke="#9272f6" stroke-width="2.1" stroke-linecap="round"/>
<path d="M549.3,233.0 547.8,233.1 546.2,233.2 544.7,233.4 543.2,233.7 541.7,234.1 540.1,234.6 538.6,235.1 508.8,246.8 507.9,247.1 507.2,247.5 506.7,247.8 506.3,248.1 506.1,248.4 506.0,248.6 506.0,257.9 506.1,258.1 506.4,258.4 506.8,258.6 507.5,258.8 508.2,258.9 509.2,259.1 542.8,263.6 544.4,263.8 546.0,263.9 547.6,264.0 549.2,264.0 550.7,264.0 552.3,263.9 553.9,263.8 555.5,263.6 557.0,263.3 558.6,263.0 560.2,262.7 561.7,262.3 589.6,254.6 590.5,254.3 591.3,254.1 591.8,253.8 592.2,253.5 592.5,253.3 592.6,253.0 592.6,243.7 592.5,243.5 592.2,243.2 591.8,243.0 591.2,242.7 590.5,242.5 589.6,242.2 557.1,234.0 555.5,233.6 553.9,233.4 552.4,233.2 550.8,233.1Z" fill="#5b33dc"/>
<path d="M509.2,249.8 508.2,249.7 507.5,249.5 506.8,249.3 506.4,249.1 506.1,248.9 506.0,248.6 506.1,248.4 506.3,248.1 506.7,247.8 507.2,247.5 507.9,247.1 508.8,246.8 538.6,235.1 540.1,234.6 541.7,234.1 543.2,233.7 544.7,233.4 546.2,233.2 547.8,233.1 549.3,233.0 550.8,233.1 552.4,233.2 553.9,233.4 555.5,233.6 557.1,234.0 589.6,242.2 590.5,242.5 591.2,242.7 591.8,243.0 592.2,243.2 592.5,243.5 592.6,243.7 592.5,244.0 592.2,244.3 591.8,244.5 591.3,244.8 590.5,245.1 589.6,245.4 561.7,253.0 560.2,253.4 558.6,253.8 557.0,254.1 555.5,254.3 553.9,254.5 552.3,254.6 550.7,254.7 549.2,254.8 547.6,254.7 546.0,254.6 544.4,254.5 542.8,254.3Z" fill="#7048ee"/>
<path d="M543.1,251.4 544.6,251.6 546.2,251.7 547.7,251.8 549.2,251.8 550.6,251.8 552.1,251.7 553.6,251.6 555.1,251.4 556.6,251.2 558.1,250.9 559.6,250.6 561.0,250.2 585.2,243.6 556.4,236.3 555.0,236.0 553.6,235.7 552.1,235.5 550.7,235.4 549.3,235.4 547.9,235.5 546.5,235.6 545.1,235.8 543.8,236.0 542.4,236.4 541.0,236.8 539.6,237.3 513.6,247.5Z" fill="#2f1c6a"/>
<circle cx="529.7" cy="256.1" r="1.4" fill="#ece6ff"/>
<circle cx="533.8" cy="257.1" r="1.4" fill="#ece6ff"/>
<circle cx="537.7" cy="258.1" r="1.4" fill="#ece6ff"/>
<line x1="560.0" y1="258.3" x2="586.0" y2="251.7" stroke="#9272f6" stroke-width="2.1" stroke-linecap="round"/>
<path d="M549.3,218.5 547.8,218.6 546.2,218.7 544.7,218.9 543.2,219.2 541.7,219.6 540.1,220.1 538.6,220.6 508.8,232.3 507.9,232.6 507.2,233.0 506.7,233.3 506.3,233.6 506.1,233.9 506.0,234.2 506.0,243.4 506.1,243.7 506.4,243.9 506.8,244.1 507.5,244.3 508.2,244.4 509.2,244.6 542.8,249.1 544.4,249.3 546.0,249.4 547.6,249.5 549.2,249.5 550.7,249.5 552.3,249.4 553.9,249.3 555.5,249.1 557.0,248.8 558.6,248.5 560.2,248.2 561.7,247.8 589.6,240.1 590.5,239.8 591.3,239.6 591.8,239.3 592.2,239.0 592.5,238.8 592.6,238.5 592.6,229.3 592.5,229.0 592.2,228.7 591.8,228.5 591.2,228.2 590.5,228.0 589.6,227.7 557.1,219.5 555.5,219.1 553.9,218.9 552.4,218.7 550.8,218.6Z" fill="#5b33dc"/>
<path d="M509.2,235.3 508.2,235.2 507.5,235.0 506.8,234.8 506.4,234.6 506.1,234.4 506.0,234.2 506.1,233.9 506.3,233.6 506.7,233.3 507.2,233.0 507.9,232.6 508.8,232.3 538.6,220.6 540.1,220.1 541.7,219.6 543.2,219.2 544.7,218.9 546.2,218.7 547.8,218.6 549.3,218.5 550.8,218.6 552.4,218.7 553.9,218.9 555.5,219.1 557.1,219.5 589.6,227.7 590.5,228.0 591.2,228.2 591.8,228.5 592.2,228.7 592.5,229.0 592.6,229.3 592.5,229.5 592.2,229.8 591.8,230.1 591.3,230.3 590.5,230.6 589.6,230.9 561.7,238.5 560.2,238.9 558.6,239.3 557.0,239.6 555.5,239.8 553.9,240.0 552.3,240.2 550.7,240.2 549.2,240.3 547.6,240.2 546.0,240.2 544.4,240.0 542.8,239.8Z" fill="#7048ee"/>
<path d="M543.1,236.9 544.6,237.1 546.2,237.3 547.7,237.3 549.2,237.4 550.6,237.3 552.1,237.3 553.6,237.1 555.1,236.9 556.6,236.7 558.1,236.4 559.6,236.1 561.0,235.7 585.2,229.1 556.4,221.8 555.0,221.5 553.6,221.2 552.1,221.0 550.7,220.9 549.3,220.9 547.9,221.0 546.5,221.1 545.1,221.3 543.8,221.6 542.4,221.9 541.0,222.3 539.6,222.8 513.6,233.0Z" fill="#2f1c6a"/>
<circle cx="529.7" cy="241.6" r="1.4" fill="#ece6ff"/>
<circle cx="533.8" cy="242.6" r="1.4" fill="#ece6ff"/>
<circle cx="537.7" cy="243.6" r="1.4" fill="#ece6ff"/>
<line x1="560.0" y1="243.8" x2="586.0" y2="237.2" stroke="#9272f6" stroke-width="2.1" stroke-linecap="round"/>
<path d="M549.3,204.0 547.8,204.1 546.2,204.2 544.7,204.4 543.2,204.7 541.7,205.1 540.1,205.6 538.6,206.1 508.8,217.8 507.9,218.1 507.2,218.5 506.7,218.8 506.3,219.1 506.1,219.4 506.0,219.7 506.0,228.9 506.1,229.2 506.4,229.4 506.8,229.6 507.5,229.8 508.2,229.9 509.2,230.1 542.8,234.6 544.4,234.8 546.0,234.9 547.6,235.0 549.2,235.0 550.7,235.0 552.3,234.9 553.9,234.8 555.5,234.6 557.0,234.3 558.6,234.1 560.2,233.7 561.7,233.3 589.6,225.6 590.5,225.3 591.3,225.1 591.8,224.8 592.2,224.5 592.5,224.3 592.6,224.0 592.6,214.8 592.5,214.5 592.2,214.2 591.8,214.0 591.2,213.7 590.5,213.5 589.6,213.2 557.1,205.0 555.5,204.6 553.9,204.4 552.4,204.2 550.8,204.1Z" fill="#5b33dc"/>
<path d="M509.2,220.8 508.2,220.7 507.5,220.5 506.8,220.3 506.4,220.1 506.1,219.9 506.0,219.7 506.1,219.4 506.3,219.1 506.7,218.8 507.2,218.5 507.9,218.1 508.8,217.8 538.6,206.1 540.1,205.6 541.7,205.1 543.2,204.7 544.7,204.4 546.2,204.2 547.8,204.1 549.3,204.0 550.8,204.1 552.4,204.2 553.9,204.4 555.5,204.6 557.1,205.0 589.6,213.2 590.5,213.5 591.2,213.7 591.8,214.0 592.2,214.2 592.5,214.5 592.6,214.8 592.5,215.0 592.2,215.3 591.8,215.6 591.3,215.8 590.5,216.1 589.6,216.4 561.7,224.1 560.2,224.5 558.6,224.8 557.0,225.1 555.5,225.3 553.9,225.5 552.3,225.7 550.7,225.7 549.2,225.8 547.6,225.7 546.0,225.7 544.4,225.5 542.8,225.3Z" fill="#7048ee"/>
<path d="M543.1,222.5 544.6,222.6 546.2,222.8 547.7,222.8 549.2,222.9 550.6,222.8 552.1,222.8 553.6,222.6 555.1,222.5 556.6,222.2 558.1,221.9 559.6,221.6 561.0,221.2 585.2,214.6 556.4,207.3 555.0,207.0 553.6,206.7 552.1,206.5 550.7,206.4 549.3,206.4 547.9,206.5 546.5,206.6 545.1,206.8 543.8,207.1 542.4,207.4 541.0,207.8 539.6,208.3 513.6,218.5Z" fill="#2f1c6a"/>
<circle cx="529.7" cy="227.2" r="1.4" fill="#ece6ff"/>
<circle cx="533.8" cy="228.1" r="1.4" fill="#ece6ff"/>
<circle cx="537.7" cy="229.1" r="1.4" fill="#ece6ff"/>
<line x1="560.0" y1="229.3" x2="586.0" y2="222.7" stroke="#9272f6" stroke-width="2.1" stroke-linecap="round"/>
<circle cx="507.6" cy="215.7" r="11.0" fill="#13ac88"/><polyline points="500.8,213.9 506.0,219.3 514.4,212.9" fill="none" stroke="#d2ffea" stroke-width="2.4" stroke-linecap="round" stroke-linejoin="round"/>
<path d="M618.8,265.8 617.3,265.9 615.7,266.0 614.2,266.2 612.7,266.5 611.2,266.9 609.6,267.4 608.1,267.9 578.3,279.6 577.4,279.9 576.7,280.3 576.2,280.6 575.8,280.9 575.6,281.2 575.5,281.4 575.5,290.7 575.6,290.9 575.9,291.2 576.3,291.4 577.0,291.6 577.7,291.7 578.7,291.9 612.3,296.4 613.9,296.6 615.5,296.7 617.1,296.8 618.7,296.8 620.2,296.8 621.8,296.7 623.4,296.6 625.0,296.4 626.5,296.1 628.1,295.8 629.7,295.5 631.2,295.1 659.1,287.4 660.0,287.1 660.8,286.9 661.3,286.6 661.7,286.3 662.0,286.1 662.1,285.8 662.1,276.5 662.0,276.3 661.7,276.0 661.3,275.8 660.7,275.5 660.0,275.3 659.1,275.0 626.6,266.8 625.0,266.4 623.4,266.1 621.9,266.0 620.3,265.8Z" fill="#5b33dc"/>
<path d="M578.7,282.6 577.7,282.5 577.0,282.3 576.3,282.1 575.9,281.9 575.6,281.7 575.5,281.4 575.6,281.2 575.8,280.9 576.2,280.6 576.7,280.3 577.4,279.9 578.3,279.6 608.1,267.9 609.6,267.4 611.2,266.9 612.7,266.5 614.2,266.2 615.7,266.0 617.3,265.9 618.8,265.8 620.3,265.8 621.9,266.0 623.4,266.1 625.0,266.4 626.6,266.8 659.1,275.0 660.0,275.3 660.7,275.5 661.3,275.8 661.7,276.0 662.0,276.3 662.1,276.5 662.0,276.8 661.7,277.1 661.3,277.3 660.8,277.6 660.0,277.9 659.1,278.1 631.2,285.8 629.7,286.2 628.1,286.6 626.5,286.9 625.0,287.1 623.4,287.3 621.8,287.4 620.2,287.5 618.7,287.5 617.1,287.5 615.5,287.4 613.9,287.3 612.3,287.1Z" fill="#7048ee"/>
<path d="M612.6,284.2 614.1,284.4 615.7,284.5 617.2,284.6 618.7,284.6 620.1,284.6 621.6,284.5 623.1,284.4 624.6,284.2 626.1,284.0 627.6,283.7 629.1,283.4 630.5,283.0 654.7,276.4 625.9,269.1 624.5,268.7 623.1,268.5 621.6,268.3 620.2,268.2 618.8,268.2 617.4,268.2 616.0,268.4 614.6,268.6 613.3,268.8 611.9,269.2 610.5,269.6 609.1,270.1 583.1,280.3Z" fill="#2f1c6a"/>
<circle cx="599.2" cy="288.9" r="1.4" fill="#ece6ff"/>
<circle cx="603.3" cy="289.9" r="1.4" fill="#ece6ff"/>
<circle cx="607.2" cy="290.9" r="1.4" fill="#ece6ff"/>
<line x1="629.5" y1="291.1" x2="655.5" y2="284.5" stroke="#9272f6" stroke-width="2.1" stroke-linecap="round"/>
<path d="M618.8,251.3 617.3,251.4 615.7,251.5 614.2,251.7 612.7,252.0 611.2,252.4 609.6,252.9 608.1,253.4 578.3,265.1 577.4,265.4 576.7,265.8 576.2,266.1 575.8,266.4 575.6,266.7 575.5,266.9 575.5,276.2 575.6,276.4 575.9,276.7 576.3,276.9 577.0,277.1 577.7,277.2 578.7,277.4 612.3,281.9 613.9,282.1 615.5,282.2 617.1,282.3 618.7,282.3 620.2,282.3 621.8,282.2 623.4,282.1 625.0,281.9 626.5,281.6 628.1,281.3 629.7,281.0 631.2,280.6 659.1,272.9 660.0,272.6 660.8,272.4 661.3,272.1 661.7,271.8 662.0,271.6 662.1,271.3 662.1,262.0 662.0,261.8 661.7,261.5 661.3,261.3 660.7,261.0 660.0,260.8 659.1,260.5 626.6,252.3 625.0,251.9 623.4,251.7 621.9,251.5 620.3,251.4Z" fill="#5b33dc"/>
<path d="M578.7,268.1 577.7,268.0 577.0,267.8 576.3,267.6 575.9,267.4 575.6,267.2 575.5,266.9 575.6,266.7 575.8,266.4 576.2,266.1 576.7,265.8 577.4,265.4 578.3,265.1 608.1,253.4 609.6,252.9 611.2,252.4 612.7,252.0 614.2,251.7 615.7,251.5 617.3,251.4 618.8,251.3 620.3,251.4 621.9,251.5 623.4,251.7 625.0,251.9 626.6,252.3 659.1,260.5 660.0,260.8 660.7,261.0 661.3,261.3 661.7,261.5 662.0,261.8 662.1,262.0 662.0,262.3 661.7,262.6 661.3,262.8 660.8,263.1 660.0,263.4 659.1,263.7 631.2,271.3 629.7,271.7 628.1,272.1 626.5,272.4 625.0,272.6 623.4,272.8 621.8,272.9 620.2,273.0 618.7,273.1 617.1,273.0 615.5,272.9 613.9,272.8 612.3,272.6Z" fill="#7048ee"/>
<path d="M612.6,269.7 614.1,269.9 615.7,270.0 617.2,270.1 618.7,270.1 620.1,270.1 621.6,270.0 623.1,269.9 624.6,269.7 626.1,269.5 627.6,269.2 629.1,268.9 630.5,268.5 654.7,261.9 625.9,254.6 624.5,254.3 623.1,254.0 621.6,253.8 620.2,253.7 618.8,253.7 617.4,253.8 616.0,253.9 614.6,254.1 613.3,254.3 611.9,254.7 610.5,255.1 609.1,255.6 583.1,265.8Z" fill="#2f1c6a"/>
<circle cx="599.2" cy="274.4" r="1.4" fill="#ece6ff"/>
<circle cx="603.3" cy="275.4" r="1.4" fill="#ece6ff"/>
<circle cx="607.2" cy="276.4" r="1.4" fill="#ece6ff"/>
<line x1="629.5" y1="276.6" x2="655.5" y2="270.0" stroke="#9272f6" stroke-width="2.1" stroke-linecap="round"/>
<path d="M618.8,236.8 617.3,236.9 615.7,237.0 614.2,237.2 612.7,237.5 611.2,237.9 609.6,238.4 608.1,238.9 578.3,250.6 577.4,250.9 576.7,251.3 576.2,251.6 575.8,251.9 575.6,252.2 575.5,252.5 575.5,261.7 575.6,262.0 575.9,262.2 576.3,262.4 577.0,262.6 577.7,262.7 578.7,262.9 612.3,267.4 613.9,267.6 615.5,267.7 617.1,267.8 618.7,267.8 620.2,267.8 621.8,267.7 623.4,267.6 625.0,267.4 626.5,267.1 628.1,266.8 629.7,266.5 631.2,266.1 659.1,258.4 660.0,258.1 660.8,257.9 661.3,257.6 661.7,257.3 662.0,257.1 662.1,256.8 662.1,247.6 662.0,247.3 661.7,247.0 661.3,246.8 660.7,246.5 660.0,246.3 659.1,246.0 626.6,237.8 625.0,237.4 623.4,237.2 621.9,237.0 620.3,236.9Z" fill="#5b33dc"/>
<path d="M578.7,253.6 577.7,253.5 577.0,253.3 576.3,253.1 575.9,252.9 575.6,252.7 575.5,252.5 575.6,252.2 575.8,251.9 576.2,251.6 576.7,251.3 577.4,250.9 578.3,250.6 608.1,238.9 609.6,238.4 611.2,237.9 612.7,237.5 614.2,237.2 615.7,237.0 617.3,236.9 618.8,236.8 620.3,236.9 621.9,237.0 623.4,237.2 625.0,237.4 626.6,237.8 659.1,246.0 660.0,246.3 660.7,246.5 661.3,246.8 661.7,247.0 662.0,247.3 662.1,247.6 662.0,247.8 661.7,248.1 661.3,248.4 660.8,248.6 660.0,248.9 659.1,249.2 631.2,256.8 629.7,257.2 628.1,257.6 626.5,257.9 625.0,258.1 623.4,258.3 621.8,258.5 620.2,258.5 618.7,258.6 617.1,258.5 615.5,258.5 613.9,258.3 612.3,258.1Z" fill="#7048ee"/>
<path d="M612.6,255.2 614.1,255.4 615.7,255.6 617.2,255.6 618.7,255.7 620.1,255.6 621.6,255.6 623.1,255.4 624.6,255.2 626.1,255.0 627.6,254.7 629.1,254.4 630.5,254.0 654.7,247.4 625.9,240.1 624.5,239.8 623.1,239.5 621.6,239.3 620.2,239.2 618.8,239.2 617.4,239.3 616.0,239.4 614.6,239.6 613.3,239.9 611.9,240.2 610.5,240.6 609.1,241.1 583.1,251.3Z" fill="#2f1c6a"/>
<circle cx="599.2" cy="259.9" r="1.4" fill="#ece6ff"/>
<circle cx="603.3" cy="260.9" r="1.4" fill="#ece6ff"/>
<circle cx="607.2" cy="261.9" r="1.4" fill="#ece6ff"/>
<line x1="629.5" y1="262.1" x2="655.5" y2="255.5" stroke="#9272f6" stroke-width="2.1" stroke-linecap="round"/>
<path d="M618.8,222.3 617.3,222.4 615.7,222.5 614.2,222.7 612.7,223.0 611.2,223.4 609.6,223.9 608.1,224.4 578.3,236.1 577.4,236.4 576.7,236.8 576.2,237.1 575.8,237.4 575.6,237.7 575.5,238.0 575.5,247.2 575.6,247.5 575.9,247.7 576.3,247.9 577.0,248.1 577.7,248.2 578.7,248.4 612.3,252.9 613.9,253.1 615.5,253.2 617.1,253.3 618.7,253.3 620.2,253.3 621.8,253.2 623.4,253.1 625.0,252.9 626.5,252.6 628.1,252.4 629.7,252.0 631.2,251.6 659.1,243.9 660.0,243.6 660.8,243.4 661.3,243.1 661.7,242.8 662.0,242.6 662.1,242.3 662.1,233.1 662.0,232.8 661.7,232.5 661.3,232.3 660.7,232.0 660.0,231.8 659.1,231.5 626.6,223.3 625.0,222.9 623.4,222.7 621.9,222.5 620.3,222.4Z" fill="#5b33dc"/>
<path d="M578.7,239.1 577.7,239.0 577.0,238.8 576.3,238.6 575.9,238.4 575.6,238.2 575.5,238.0 575.6,237.7 575.8,237.4 576.2,237.1 576.7,236.8 577.4,236.4 578.3,236.1 608.1,224.4 609.6,223.9 611.2,223.4 612.7,223.0 614.2,222.7 615.7,222.5 617.3,222.4 618.8,222.3 620.3,222.4 621.9,222.5 623.4,222.7 625.0,222.9 626.6,223.3 659.1,231.5 660.0,231.8 660.7,232.0 661.3,232.3 661.7,232.5 662.0,232.8 662.1,233.1 662.0,233.3 661.7,233.6 661.3,233.9 660.8,234.1 660.0,234.4 659.1,234.7 631.2,242.4 629.7,242.8 628.1,243.1 626.5,243.4 625.0,243.6 623.4,243.8 621.8,244.0 620.2,244.0 618.7,244.1 617.1,244.0 615.5,244.0 613.9,243.8 612.3,243.6Z" fill="#7048ee"/>
<path d="M612.6,240.8 614.1,240.9 615.7,241.1 617.2,241.1 618.7,241.2 620.1,241.1 621.6,241.1 623.1,240.9 624.6,240.8 626.1,240.5 627.6,240.2 629.1,239.9 630.5,239.5 654.7,232.9 625.9,225.6 624.5,225.3 623.1,225.0 621.6,224.8 620.2,224.7 618.8,224.7 617.4,224.8 616.0,224.9 614.6,225.1 613.3,225.4 611.9,225.7 610.5,226.1 609.1,226.6 583.1,236.8Z" fill="#2f1c6a"/>
<circle cx="599.2" cy="245.5" r="1.4" fill="#ece6ff"/>
<circle cx="603.3" cy="246.4" r="1.4" fill="#ece6ff"/>
<circle cx="607.2" cy="247.4" r="1.4" fill="#ece6ff"/>
<line x1="629.5" y1="247.6" x2="655.5" y2="241.0" stroke="#9272f6" stroke-width="2.1" stroke-linecap="round"/>
<circle cx="577.1" cy="234.0" r="11.0" fill="#13ac88"/><polyline points="570.3,232.2 575.5,237.6 583.9,231.2" fill="none" stroke="#d2ffea" stroke-width="2.4" stroke-linecap="round" stroke-linejoin="round"/>
<path d="M688.3,284.1 686.8,284.2 685.2,284.3 683.7,284.5 682.2,284.8 680.7,285.2 679.1,285.7 677.6,286.2 647.8,297.9 646.9,298.2 646.2,298.6 645.7,298.9 645.3,299.2 645.1,299.5 645.0,299.7 645.0,309.0 645.1,309.2 645.4,309.5 645.8,309.7 646.5,309.9 647.2,310.0 648.2,310.2 681.8,314.7 683.4,314.9 685.0,315.0 686.6,315.1 688.2,315.1 689.7,315.1 691.3,315.0 692.9,314.9 694.5,314.7 696.0,314.4 697.6,314.1 699.2,313.8 700.7,313.4 728.6,305.7 729.5,305.4 730.3,305.2 730.8,304.9 731.2,304.6 731.5,304.4 731.6,304.1 731.6,294.8 731.5,294.6 731.2,294.3 730.8,294.1 730.2,293.8 729.5,293.6 728.6,293.3 696.1,285.1 694.5,284.7 692.9,284.4 691.4,284.3 689.8,284.1Z" fill="#5b33dc"/>
<path d="M648.2,300.9 647.2,300.8 646.5,300.6 645.8,300.4 645.4,300.2 645.1,300.0 645.0,299.7 645.1,299.5 645.3,299.2 645.7,298.9 646.2,298.6 646.9,298.2 647.8,297.9 677.6,286.2 679.1,285.7 680.7,285.2 682.2,284.8 683.7,284.5 685.2,284.3 686.8,284.2 688.3,284.1 689.8,284.1 691.4,284.3 692.9,284.4 694.5,284.7 696.1,285.1 728.6,293.3 729.5,293.6 730.2,293.8 730.8,294.1 731.2,294.3 731.5,294.6 731.6,294.8 731.5,295.1 731.2,295.4 730.8,295.6 730.3,295.9 729.5,296.2 728.6,296.4 700.7,304.1 699.2,304.5 697.6,304.9 696.0,305.2 694.5,305.4 692.9,305.6 691.3,305.7 689.7,305.8 688.2,305.8 686.6,305.8 685.0,305.7 683.4,305.6 681.8,305.4Z" fill="#7048ee"/>
<path d="M682.1,302.5 683.6,302.7 685.2,302.8 686.7,302.9 688.2,302.9 689.6,302.9 691.1,302.8 692.6,302.7 694.1,302.5 695.6,302.3 697.1,302.0 698.6,301.7 700.0,301.3 724.2,294.7 695.4,287.4 694.0,287.0 692.6,286.8 691.1,286.6 689.7,286.5 688.3,286.5 686.9,286.5 685.5,286.7 684.1,286.9 682.8,287.1 681.4,287.5 680.0,287.9 678.6,288.4 652.6,298.6Z" fill="#2f1c6a"/>
<circle cx="668.7" cy="307.2" r="1.4" fill="#ece6ff"/>
<circle cx="672.8" cy="308.2" r="1.4" fill="#ece6ff"/>
<circle cx="676.7" cy="309.2" r="1.4" fill="#ece6ff"/>
<line x1="699.0" y1="309.4" x2="725.0" y2="302.8" stroke="#9272f6" stroke-width="2.1" stroke-linecap="round"/>
<path d="M688.3,269.6 686.8,269.7 685.2,269.8 683.7,270.0 682.2,270.3 680.7,270.7 679.1,271.2 677.6,271.7 647.8,283.4 646.9,283.7 646.2,284.1 645.7,284.4 645.3,284.7 645.1,285.0 645.0,285.2 645.0,294.5 645.1,294.7 645.4,295.0 645.8,295.2 646.5,295.4 647.2,295.5 648.2,295.7 681.8,300.2 683.4,300.4 685.0,300.5 686.6,300.6 688.2,300.6 689.7,300.6 691.3,300.5 692.9,300.4 694.5,300.2 696.0,299.9 697.6,299.6 699.2,299.3 700.7,298.9 728.6,291.2 729.5,290.9 730.3,290.7 730.8,290.4 731.2,290.1 731.5,289.9 731.6,289.6 731.6,280.3 731.5,280.1 731.2,279.8 730.8,279.6 730.2,279.3 729.5,279.1 728.6,278.8 696.1,270.6 694.5,270.2 692.9,270.0 691.4,269.8 689.8,269.7Z" fill="#5b33dc"/>
<path d="M648.2,286.4 647.2,286.3 646.5,286.1 645.8,285.9 645.4,285.7 645.1,285.5 645.0,285.2 645.1,285.0 645.3,284.7 645.7,284.4 646.2,284.1 646.9,283.7 647.8,283.4 677.6,271.7 679.1,271.2 680.7,270.7 682.2,270.3 683.7,270.0 685.2,269.8 686.8,269.7 688.3,269.6 689.8,269.7 691.4,269.8 692.9,270.0 694.5,270.2 696.1,270.6 728.6,278.8 729.5,279.1 730.2,279.3 730.8,279.6 731.2,279.8 731.5,280.1 731.6,280.3 731.5,280.6 731.2,280.9 730.8,281.1 730.3,281.4 729.5,281.7 728.6,282.0 700.7,289.6 699.2,290.0 697.6,290.4 696.0,290.7 694.5,290.9 692.9,291.1 691.3,291.2 689.7,291.3 688.2,291.4 686.6,291.3 685.0,291.2 683.4,291.1 681.8,290.9Z" fill="#7048ee"/>
<path d="M682.1,288.0 683.6,288.2 685.2,288.3 686.7,288.4 688.2,288.4 689.6,288.4 691.1,288.3 692.6,288.2 694.1,288.0 695.6,287.8 697.1,287.5 698.6,287.2 700.0,286.8 724.2,280.2 695.4,272.9 694.0,272.6 692.6,272.3 691.1,272.1 689.7,272.0 688.3,272.0 686.9,272.1 685.5,272.2 684.1,272.4 682.8,272.6 681.4,273.0 680.0,273.4 678.6,273.9 652.6,284.1Z" fill="#2f1c6a"/>
<circle cx="668.7" cy="292.7" r="1.4" fill="#ece6ff"/>
<circle cx="672.8" cy="293.7" r="1.4" fill="#ece6ff"/>
<circle cx="676.7" cy="294.7" r="1.4" fill="#ece6ff"/>
<line x1="699.0" y1="294.9" x2="725.0" y2="288.3" stroke="#9272f6" stroke-width="2.1" stroke-linecap="round"/>
<path d="M688.3,255.1 686.8,255.2 685.2,255.3 683.7,255.5 682.2,255.8 680.7,256.2 679.1,256.7 677.6,257.2 647.8,268.9 646.9,269.2 646.2,269.6 645.7,269.9 645.3,270.2 645.1,270.5 645.0,270.8 645.0,280.0 645.1,280.3 645.4,280.5 645.8,280.7 646.5,280.9 647.2,281.0 648.2,281.2 681.8,285.7 683.4,285.9 685.0,286.0 686.6,286.1 688.2,286.1 689.7,286.1 691.3,286.0 692.9,285.9 694.5,285.7 696.0,285.4 697.6,285.1 699.2,284.8 700.7,284.4 728.6,276.7 729.5,276.4 730.3,276.2 730.8,275.9 731.2,275.6 731.5,275.4 731.6,275.1 731.6,265.9 731.5,265.6 731.2,265.3 730.8,265.1 730.2,264.8 729.5,264.6 728.6,264.3 696.1,256.1 694.5,255.7 692.9,255.5 691.4,255.3 689.8,255.2Z" fill="#5b33dc"/>
<path d="M648.2,271.9 647.2,271.8 646.5,271.6 645.8,271.4 645.4,271.2 645.1,271.0 645.0,270.8 645.1,270.5 645.3,270.2 645.7,269.9 646.2,269.6 646.9,269.2 647.8,268.9 677.6,257.2 679.1,256.7 680.7,256.2 682.2,255.8 683.7,255.5 685.2,255.3 686.8,255.2 688.3,255.1 689.8,255.2 691.4,255.3 692.9,255.5 694.5,255.7 696.1,256.1 728.6,264.3 729.5,264.6 730.2,264.8 730.8,265.1 731.2,265.3 731.5,265.6 731.6,265.9 731.5,266.1 731.2,266.4 730.8,266.7 730.3,266.9 729.5,267.2 728.6,267.5 700.7,275.1 699.2,275.5 697.6,275.9 696.0,276.2 694.5,276.4 692.9,276.6 691.3,276.8 689.7,276.8 688.2,276.9 686.6,276.8 685.0,276.8 683.4,276.6 681.8,276.4Z" fill="#7048ee"/>
<path d="M682.1,273.5 683.6,273.7 685.2,273.9 686.7,273.9 688.2,274.0 689.6,273.9 691.1,273.9 692.6,273.7 694.1,273.5 695.6,273.3 697.1,273.0 698.6,272.7 700.0,272.3 724.2,265.7 695.4,258.4 694.0,258.1 692.6,257.8 691.1,257.6 689.7,257.5 688.3,257.5 686.9,257.6 685.5,257.7 684.1,257.9 682.8,258.2 681.4,258.5 680.0,258.9 678.6,259.4 652.6,269.6Z" fill="#2f1c6a"/>
<circle cx="668.7" cy="278.2" r="1.4" fill="#ece6ff"/>
<circle cx="672.8" cy="279.2" r="1.4" fill="#ece6ff"/>
<circle cx="676.7" cy="280.2" r="1.4" fill="#ece6ff"/>
<line x1="699.0" y1="280.4" x2="725.0" y2="273.8" stroke="#9272f6" stroke-width="2.1" stroke-linecap="round"/>
<path d="M688.3,240.6 686.8,240.7 685.2,240.8 683.7,241.0 682.2,241.3 680.7,241.7 679.1,242.2 677.6,242.7 647.8,254.4 646.9,254.7 646.2,255.1 645.7,255.4 645.3,255.7 645.1,256.0 645.0,256.3 645.0,265.5 645.1,265.8 645.4,266.0 645.8,266.2 646.5,266.4 647.2,266.5 648.2,266.7 681.8,271.2 683.4,271.4 685.0,271.5 686.6,271.6 688.2,271.6 689.7,271.6 691.3,271.5 692.9,271.4 694.5,271.2 696.0,270.9 697.6,270.7 699.2,270.3 700.7,269.9 728.6,262.2 729.5,261.9 730.3,261.7 730.8,261.4 731.2,261.1 731.5,260.9 731.6,260.6 731.6,251.4 731.5,251.1 731.2,250.8 730.8,250.6 730.2,250.3 729.5,250.1 728.6,249.8 696.1,241.6 694.5,241.2 692.9,241.0 691.4,240.8 689.8,240.7Z" fill="#5b33dc"/>
<path d="M648.2,257.4 647.2,257.3 646.5,257.1 645.8,256.9 645.4,256.7 645.1,256.5 645.0,256.3 645.1,256.0 645.3,255.7 645.7,255.4 646.2,255.1 646.9,254.7 647.8,254.4 677.6,242.7 679.1,242.2 680.7,241.7 682.2,241.3 683.7,241.0 685.2,240.8 686.8,240.7 688.3,240.6 689.8,240.7 691.4,240.8 692.9,241.0 694.5,241.2 696.1,241.6 728.6,249.8 729.5,250.1 730.2,250.3 730.8,250.6 731.2,250.8 731.5,251.1 731.6,251.4 731.5,251.6 731.2,251.9 730.8,252.2 730.3,252.4 729.5,252.7 728.6,253.0 700.7,260.7 699.2,261.1 697.6,261.4 696.0,261.7 694.5,261.9 692.9,262.1 691.3,262.3 689.7,262.3 688.2,262.4 686.6,262.3 685.0,262.3 683.4,262.1 681.8,261.9Z" fill="#7048ee"/>
<path d="M682.1,259.1 683.6,259.2 685.2,259.4 686.7,259.4 688.2,259.5 689.6,259.4 691.1,259.4 692.6,259.2 694.1,259.1 695.6,258.8 697.1,258.5 698.6,258.2 700.0,257.8 724.2,251.2 695.4,243.9 694.0,243.6 692.6,243.3 691.1,243.1 689.7,243.0 688.3,243.0 686.9,243.1 685.5,243.2 684.1,243.4 682.8,243.7 681.4,244.0 680.0,244.4 678.6,244.9 652.6,255.1Z" fill="#2f1c6a"/>
<circle cx="668.7" cy="263.8" r="1.4" fill="#ece6ff"/>
<circle cx="672.8" cy="264.7" r="1.4" fill="#ece6ff"/>
<circle cx="676.7" cy="265.7" r="1.4" fill="#ece6ff"/>
<line x1="699.0" y1="265.9" x2="725.0" y2="259.3" stroke="#9272f6" stroke-width="2.1" stroke-linecap="round"/>
<circle cx="649.6" cy="253.3" r="11.0" fill="#13ac88"/><polyline points="642.8,251.5 648.0,256.9 656.4,250.5" fill="none" stroke="#d2ffea" stroke-width="2.4" stroke-linecap="round" stroke-linejoin="round"/>
<path d="M549.2,365.0 547.7,365.1 546.1,365.2 544.6,365.4 543.1,365.7 541.6,366.1 540.0,366.6 538.5,367.1 508.7,378.8 507.8,379.1 507.1,379.5 506.6,379.8 506.2,380.1 506.0,380.4 505.9,380.6 505.9,389.9 506.0,390.1 506.3,390.4 506.7,390.6 507.4,390.8 508.1,390.9 509.1,391.1 542.7,395.6 544.3,395.8 545.9,395.9 547.5,396.0 549.1,396.0 550.6,396.0 552.2,395.9 553.8,395.8 555.4,395.6 556.9,395.3 558.5,395.0 560.1,394.7 561.6,394.3 589.5,386.6 590.4,386.3 591.2,386.1 591.7,385.8 592.1,385.5 592.4,385.3 592.5,385.0 592.5,375.7 592.4,375.5 592.1,375.2 591.7,375.0 591.1,374.7 590.4,374.5 589.5,374.2 557.0,366.0 555.4,365.6 553.8,365.3 552.3,365.2 550.7,365.0Z" fill="#37364f"/>
<path d="M509.1,381.8 508.1,381.7 507.4,381.5 506.7,381.3 506.3,381.1 506.0,380.9 505.9,380.6 506.0,380.4 506.2,380.1 506.6,379.8 507.1,379.5 507.8,379.1 508.7,378.8 538.5,367.1 540.0,366.6 541.6,366.1 543.1,365.7 544.6,365.4 546.1,365.2 547.7,365.1 549.2,365.0 550.7,365.0 552.3,365.2 553.8,365.3 555.4,365.6 557.0,366.0 589.5,374.2 590.4,374.5 591.1,374.7 591.7,375.0 592.1,375.2 592.4,375.5 592.5,375.7 592.4,376.0 592.1,376.3 591.7,376.5 591.2,376.8 590.4,377.1 589.5,377.3 561.6,385.0 560.1,385.4 558.5,385.8 556.9,386.1 555.4,386.3 553.8,386.5 552.2,386.6 550.6,386.7 549.1,386.7 547.5,386.7 545.9,386.6 544.3,386.5 542.7,386.3Z" fill="#6d6c80"/>
<path d="M543.0,383.4 544.5,383.6 546.1,383.7 547.6,383.8 549.1,383.8 550.5,383.8 552.0,383.7 553.5,383.6 555.0,383.4 556.5,383.2 558.0,382.9 559.5,382.6 560.9,382.2 585.1,375.6 556.3,368.3 554.9,367.9 553.5,367.7 552.0,367.5 550.6,367.4 549.2,367.4 547.8,367.4 546.4,367.6 545.0,367.8 543.7,368.0 542.3,368.4 540.9,368.8 539.5,369.3 513.5,379.5Z" fill="#1c1b20"/>
<circle cx="529.6" cy="388.1" r="1.4" fill="#e2477a"/>
<circle cx="533.7" cy="389.1" r="1.4" fill="#e2477a"/>
<circle cx="537.6" cy="390.1" r="1.4" fill="#e2477a"/>
<line x1="559.9" y1="390.3" x2="585.9" y2="383.7" stroke="#77768b" stroke-width="2.1" stroke-linecap="round"/>
<path d="M549.2,350.5 547.7,350.6 546.1,350.7 544.6,350.9 543.1,351.2 541.6,351.6 540.0,352.1 538.5,352.6 508.7,364.3 507.8,364.6 507.1,365.0 506.6,365.3 506.2,365.6 506.0,365.9 505.9,366.1 505.9,375.4 506.0,375.6 506.3,375.9 506.7,376.1 507.4,376.3 508.1,376.4 509.1,376.6 542.7,381.1 544.3,381.3 545.9,381.4 547.5,381.5 549.1,381.5 550.6,381.5 552.2,381.4 553.8,381.3 555.4,381.1 556.9,380.8 558.5,380.5 560.1,380.2 561.6,379.8 589.5,372.1 590.4,371.8 591.2,371.6 591.7,371.3 592.1,371.0 592.4,370.8 592.5,370.5 592.5,361.2 592.4,361.0 592.1,360.7 591.7,360.5 591.1,360.2 590.4,360.0 589.5,359.7 557.0,351.5 555.4,351.1 553.8,350.9 552.3,350.7 550.7,350.6Z" fill="#37364f"/>
<path d="M509.1,367.3 508.1,367.2 507.4,367.0 506.7,366.8 506.3,366.6 506.0,366.4 505.9,366.1 506.0,365.9 506.2,365.6 506.6,365.3 507.1,365.0 507.8,364.6 508.7,364.3 538.5,352.6 540.0,352.1 541.6,351.6 543.1,351.2 544.6,350.9 546.1,350.7 547.7,350.6 549.2,350.5 550.7,350.6 552.3,350.7 553.8,350.9 555.4,351.1 557.0,351.5 589.5,359.7 590.4,360.0 591.1,360.2 591.7,360.5 592.1,360.7 592.4,361.0 592.5,361.2 592.4,361.5 592.1,361.8 591.7,362.0 591.2,362.3 590.4,362.6 589.5,362.9 561.6,370.5 560.1,370.9 558.5,371.3 556.9,371.6 555.4,371.8 553.8,372.0 552.2,372.1 550.6,372.2 549.1,372.3 547.5,372.2 545.9,372.1 544.3,372.0 542.7,371.8Z" fill="#6d6c80"/>
<path d="M543.0,368.9 544.5,369.1 546.1,369.2 547.6,369.3 549.1,369.3 550.5,369.3 552.0,369.2 553.5,369.1 555.0,368.9 556.5,368.7 558.0,368.4 559.5,368.1 560.9,367.7 585.1,361.1 556.3,353.8 554.9,353.5 553.5,353.2 552.0,353.0 550.6,352.9 549.2,352.9 547.8,353.0 546.4,353.1 545.0,353.3 543.7,353.5 542.3,353.9 540.9,354.3 539.5,354.8 513.5,365.0Z" fill="#1c1b20"/>
<circle cx="529.6" cy="373.6" r="1.4" fill="#e2477a"/>
<circle cx="533.7" cy="374.6" r="1.4" fill="#e2477a"/>
<circle cx="537.6" cy="375.6" r="1.4" fill="#e2477a"/>
<line x1="559.9" y1="375.8" x2="585.9" y2="369.2" stroke="#77768b" stroke-width="2.1" stroke-linecap="round"/>
<path d="M549.2,336.0 547.7,336.1 546.1,336.2 544.6,336.4 543.1,336.7 541.6,337.1 540.0,337.6 538.5,338.1 508.7,349.8 507.8,350.1 507.1,350.5 506.6,350.8 506.2,351.1 506.0,351.4 505.9,351.7 505.9,360.9 506.0,361.2 506.3,361.4 506.7,361.6 507.4,361.8 508.1,361.9 509.1,362.1 542.7,366.6 544.3,366.8 545.9,366.9 547.5,367.0 549.1,367.0 550.6,367.0 552.2,366.9 553.8,366.8 555.4,366.6 556.9,366.3 558.5,366.0 560.1,365.7 561.6,365.3 589.5,357.6 590.4,357.3 591.2,357.1 591.7,356.8 592.1,356.5 592.4,356.3 592.5,356.0 592.5,346.8 592.4,346.5 592.1,346.2 591.7,346.0 591.1,345.7 590.4,345.5 589.5,345.2 557.0,337.0 555.4,336.6 553.8,336.4 552.3,336.2 550.7,336.1Z" fill="#37364f"/>
<path d="M509.1,352.8 508.1,352.7 507.4,352.5 506.7,352.3 506.3,352.1 506.0,351.9 505.9,351.7 506.0,351.4 506.2,351.1 506.6,350.8 507.1,350.5 507.8,350.1 508.7,349.8 538.5,338.1 540.0,337.6 541.6,337.1 543.1,336.7 544.6,336.4 546.1,336.2 547.7,336.1 549.2,336.0 550.7,336.1 552.3,336.2 553.8,336.4 555.4,336.6 557.0,337.0 589.5,345.2 590.4,345.5 591.1,345.7 591.7,346.0 592.1,346.2 592.4,346.5 592.5,346.8 592.4,347.0 592.1,347.3 591.7,347.6 591.2,347.8 590.4,348.1 589.5,348.4 561.6,356.0 560.1,356.4 558.5,356.8 556.9,357.1 555.4,357.3 553.8,357.5 552.2,357.7 550.6,357.7 549.1,357.8 547.5,357.7 545.9,357.7 544.3,357.5 542.7,357.3Z" fill="#6d6c80"/>
<path d="M543.0,354.4 544.5,354.6 546.1,354.8 547.6,354.8 549.1,354.9 550.5,354.8 552.0,354.8 553.5,354.6 555.0,354.4 556.5,354.2 558.0,353.9 559.5,353.6 560.9,353.2 585.1,346.6 556.3,339.3 554.9,339.0 553.5,338.7 552.0,338.5 550.6,338.4 549.2,338.4 547.8,338.5 546.4,338.6 545.0,338.8 543.7,339.1 542.3,339.4 540.9,339.8 539.5,340.3 513.5,350.5Z" fill="#1c1b20"/>
<circle cx="529.6" cy="359.1" r="1.4" fill="#e2477a"/>
<circle cx="533.7" cy="360.1" r="1.4" fill="#e2477a"/>
<circle cx="537.6" cy="361.1" r="1.4" fill="#e2477a"/>
<line x1="559.9" y1="361.3" x2="585.9" y2="354.7" stroke="#77768b" stroke-width="2.1" stroke-linecap="round"/>
<path d="M549.2,321.5 547.7,321.6 546.1,321.7 544.6,321.9 543.1,322.2 541.6,322.6 540.0,323.1 538.5,323.6 508.7,335.3 507.8,335.6 507.1,336.0 506.6,336.3 506.2,336.6 506.0,336.9 505.9,337.2 505.9,346.4 506.0,346.7 506.3,346.9 506.7,347.1 507.4,347.3 508.1,347.4 509.1,347.6 542.7,352.1 544.3,352.3 545.9,352.4 547.5,352.5 549.1,352.5 550.6,352.5 552.2,352.4 553.8,352.3 555.4,352.1 556.9,351.8 558.5,351.6 560.1,351.2 561.6,350.8 589.5,343.1 590.4,342.8 591.2,342.6 591.7,342.3 592.1,342.0 592.4,341.8 592.5,341.5 592.5,332.3 592.4,332.0 592.1,331.7 591.7,331.5 591.1,331.2 590.4,331.0 589.5,330.7 557.0,322.5 555.4,322.1 553.8,321.9 552.3,321.7 550.7,321.6Z" fill="#37364f"/>
<path d="M509.1,338.3 508.1,338.2 507.4,338.0 506.7,337.8 506.3,337.6 506.0,337.4 505.9,337.2 506.0,336.9 506.2,336.6 506.6,336.3 507.1,336.0 507.8,335.6 508.7,335.3 538.5,323.6 540.0,323.1 541.6,322.6 543.1,322.2 544.6,321.9 546.1,321.7 547.7,321.6 549.2,321.5 550.7,321.6 552.3,321.7 553.8,321.9 555.4,322.1 557.0,322.5 589.5,330.7 590.4,331.0 591.1,331.2 591.7,331.5 592.1,331.7 592.4,332.0 592.5,332.3 592.4,332.5 592.1,332.8 591.7,333.1 591.2,333.3 590.4,333.6 589.5,333.9 561.6,341.6 560.1,342.0 558.5,342.3 556.9,342.6 555.4,342.8 553.8,343.0 552.2,343.2 550.6,343.2 549.1,343.3 547.5,343.2 545.9,343.2 544.3,343.0 542.7,342.8Z" fill="#6d6c80"/>
<path d="M543.0,340.0 544.5,340.1 546.1,340.3 547.6,340.3 549.1,340.4 550.5,340.3 552.0,340.3 553.5,340.1 555.0,340.0 556.5,339.7 558.0,339.4 559.5,339.1 560.9,338.7 585.1,332.1 556.3,324.8 554.9,324.5 553.5,324.2 552.0,324.0 550.6,323.9 549.2,323.9 547.8,324.0 546.4,324.1 545.0,324.3 543.7,324.6 542.3,324.9 540.9,325.3 539.5,325.8 513.5,336.0Z" fill="#1c1b20"/>
<circle cx="529.6" cy="344.7" r="1.4" fill="#e2477a"/>
<circle cx="533.7" cy="345.6" r="1.4" fill="#e2477a"/>
<circle cx="537.6" cy="346.6" r="1.4" fill="#e2477a"/>
<line x1="559.9" y1="346.8" x2="585.9" y2="340.2" stroke="#77768b" stroke-width="2.1" stroke-linecap="round"/>
<ellipse cx="507.9" cy="333.4" rx="11.5" ry="10.5" transform="rotate(50 507.9 333.4)" fill="#f24f80"/><path d="M503.2,327.6 L512.5,339.3 M512.8,330.3 L503.1,336.6" stroke="#ffffff" stroke-width="1.8" stroke-linecap="butt"/>
<path d="M618.7,383.3 617.2,383.4 615.6,383.5 614.1,383.7 612.6,384.0 611.1,384.4 609.5,384.9 608.0,385.4 578.2,397.1 577.3,397.4 576.6,397.8 576.1,398.1 575.7,398.4 575.5,398.7 575.4,398.9 575.4,408.2 575.5,408.4 575.8,408.7 576.2,408.9 576.9,409.1 577.6,409.2 578.6,409.4 612.2,413.9 613.8,414.1 615.4,414.2 617.0,414.3 618.6,414.3 620.1,414.3 621.7,414.2 623.3,414.1 624.9,413.9 626.4,413.6 628.0,413.3 629.6,413.0 631.1,412.6 659.0,404.9 659.9,404.6 660.7,404.4 661.2,404.1 661.6,403.8 661.9,403.6 662.0,403.3 662.0,394.0 661.9,393.8 661.6,393.5 661.2,393.3 660.6,393.0 659.9,392.8 659.0,392.5 626.5,384.3 624.9,383.9 623.3,383.6 621.8,383.5 620.2,383.3Z" fill="#5b33dc"/>
<path d="M578.6,400.1 577.6,400.0 576.9,399.8 576.2,399.6 575.8,399.4 575.5,399.2 575.4,398.9 575.5,398.7 575.7,398.4 576.1,398.1 576.6,397.8 577.3,397.4 578.2,397.1 608.0,385.4 609.5,384.9 611.1,384.4 612.6,384.0 614.1,383.7 615.6,383.5 617.2,383.4 618.7,383.3 620.2,383.3 621.8,383.5 623.3,383.6 624.9,383.9 626.5,384.3 659.0,392.5 659.9,392.8 660.6,393.0 661.2,393.3 661.6,393.5 661.9,393.8 662.0,394.0 661.9,394.3 661.6,394.6 661.2,394.8 660.7,395.1 659.9,395.4 659.0,395.6 631.1,403.3 629.6,403.7 628.0,404.1 626.4,404.4 624.9,404.6 623.3,404.8 621.7,404.9 620.1,405.0 618.6,405.0 617.0,405.0 615.4,404.9 613.8,404.8 612.2,404.6Z" fill="#7048ee"/>
<path d="M612.5,401.7 614.0,401.9 615.6,402.0 617.1,402.1 618.6,402.1 620.0,402.1 621.5,402.0 623.0,401.9 624.5,401.7 626.0,401.5 627.5,401.2 629.0,400.9 630.4,400.5 654.6,393.9 625.8,386.6 624.4,386.2 623.0,386.0 621.5,385.8 620.1,385.7 618.7,385.7 617.3,385.7 615.9,385.9 614.5,386.1 613.2,386.3 611.8,386.7 610.4,387.1 609.0,387.6 583.0,397.8Z" fill="#2f1c6a"/>
<circle cx="599.1" cy="406.4" r="1.4" fill="#ece6ff"/>
<circle cx="603.2" cy="407.4" r="1.4" fill="#ece6ff"/>
<circle cx="607.1" cy="408.4" r="1.4" fill="#ece6ff"/>
<line x1="629.4" y1="408.6" x2="655.4" y2="402.0" stroke="#9272f6" stroke-width="2.1" stroke-linecap="round"/>
<path d="M618.7,368.8 617.2,368.9 615.6,369.0 614.1,369.2 612.6,369.5 611.1,369.9 609.5,370.4 608.0,370.9 578.2,382.6 577.3,382.9 576.6,383.3 576.1,383.6 575.7,383.9 575.5,384.2 575.4,384.4 575.4,393.7 575.5,393.9 575.8,394.2 576.2,394.4 576.9,394.6 577.6,394.7 578.6,394.9 612.2,399.4 613.8,399.6 615.4,399.7 617.0,399.8 618.6,399.8 620.1,399.8 621.7,399.7 623.3,399.6 624.9,399.4 626.4,399.1 628.0,398.8 629.6,398.5 631.1,398.1 659.0,390.4 659.9,390.1 660.7,389.9 661.2,389.6 661.6,389.3 661.9,389.1 662.0,388.8 662.0,379.5 661.9,379.3 661.6,379.0 661.2,378.8 660.6,378.5 659.9,378.3 659.0,378.0 626.5,369.8 624.9,369.4 623.3,369.2 621.8,369.0 620.2,368.9Z" fill="#5b33dc"/>
<path d="M578.6,385.6 577.6,385.5 576.9,385.3 576.2,385.1 575.8,384.9 575.5,384.7 575.4,384.4 575.5,384.2 575.7,383.9 576.1,383.6 576.6,383.3 577.3,382.9 578.2,382.6 608.0,370.9 609.5,370.4 611.1,369.9 612.6,369.5 614.1,369.2 615.6,369.0 617.2,368.9 618.7,368.8 620.2,368.9 621.8,369.0 623.3,369.2 624.9,369.4 626.5,369.8 659.0,378.0 659.9,378.3 660.6,378.5 661.2,378.8 661.6,379.0 661.9,379.3 662.0,379.5 661.9,379.8 661.6,380.1 661.2,380.3 660.7,380.6 659.9,380.9 659.0,381.2 631.1,388.8 629.6,389.2 628.0,389.6 626.4,389.9 624.9,390.1 623.3,390.3 621.7,390.4 620.1,390.5 618.6,390.6 617.0,390.5 615.4,390.4 613.8,390.3 612.2,390.1Z" fill="#7048ee"/>
<path d="M612.5,387.2 614.0,387.4 615.6,387.5 617.1,387.6 618.6,387.6 620.0,387.6 621.5,387.5 623.0,387.4 624.5,387.2 626.0,387.0 627.5,386.7 629.0,386.4 630.4,386.0 654.6,379.4 625.8,372.1 624.4,371.8 623.0,371.5 621.5,371.3 620.1,371.2 618.7,371.2 617.3,371.3 615.9,371.4 614.5,371.6 613.2,371.8 611.8,372.2 610.4,372.6 609.0,373.1 583.0,383.3Z" fill="#2f1c6a"/>
<circle cx="599.1" cy="391.9" r="1.4" fill="#ece6ff"/>
<circle cx="603.2" cy="392.9" r="1.4" fill="#ece6ff"/>
<circle cx="607.1" cy="393.9" r="1.4" fill="#ece6ff"/>
<line x1="629.4" y1="394.1" x2="655.4" y2="387.5" stroke="#9272f6" stroke-width="2.1" stroke-linecap="round"/>
<path d="M618.7,354.3 617.2,354.4 615.6,354.5 614.1,354.7 612.6,355.0 611.1,355.4 609.5,355.9 608.0,356.4 578.2,368.1 577.3,368.4 576.6,368.8 576.1,369.1 575.7,369.4 575.5,369.7 575.4,370.0 575.4,379.2 575.5,379.5 575.8,379.7 576.2,379.9 576.9,380.1 577.6,380.2 578.6,380.4 612.2,384.9 613.8,385.1 615.4,385.2 617.0,385.3 618.6,385.3 620.1,385.3 621.7,385.2 623.3,385.1 624.9,384.9 626.4,384.6 628.0,384.3 629.6,384.0 631.1,383.6 659.0,375.9 659.9,375.6 660.7,375.4 661.2,375.1 661.6,374.8 661.9,374.6 662.0,374.3 662.0,365.1 661.9,364.8 661.6,364.5 661.2,364.3 660.6,364.0 659.9,363.8 659.0,363.5 626.5,355.3 624.9,354.9 623.3,354.7 621.8,354.5 620.2,354.4Z" fill="#5b33dc"/>
<path d="M578.6,371.1 577.6,371.0 576.9,370.8 576.2,370.6 575.8,370.4 575.5,370.2 575.4,370.0 575.5,369.7 575.7,369.4 576.1,369.1 576.6,368.8 577.3,368.4 578.2,368.1 608.0,356.4 609.5,355.9 611.1,355.4 612.6,355.0 614.1,354.7 615.6,354.5 617.2,354.4 618.7,354.3 620.2,354.4 621.8,354.5 623.3,354.7 624.9,354.9 626.5,355.3 659.0,363.5 659.9,363.8 660.6,364.0 661.2,364.3 661.6,364.5 661.9,364.8 662.0,365.1 661.9,365.3 661.6,365.6 661.2,365.9 660.7,366.1 659.9,366.4 659.0,366.7 631.1,374.3 629.6,374.7 628.0,375.1 626.4,375.4 624.9,375.6 623.3,375.8 621.7,376.0 620.1,376.0 618.6,376.1 617.0,376.0 615.4,376.0 613.8,375.8 612.2,375.6Z" fill="#7048ee"/>
<path d="M612.5,372.7 614.0,372.9 615.6,373.1 617.1,373.1 618.6,373.2 620.0,373.1 621.5,373.1 623.0,372.9 624.5,372.7 626.0,372.5 627.5,372.2 629.0,371.9 630.4,371.5 654.6,364.9 625.8,357.6 624.4,357.3 623.0,357.0 621.5,356.8 620.1,356.7 618.7,356.7 617.3,356.8 615.9,356.9 614.5,357.1 613.2,357.4 611.8,357.7 610.4,358.1 609.0,358.6 583.0,368.8Z" fill="#2f1c6a"/>
<circle cx="599.1" cy="377.4" r="1.4" fill="#ece6ff"/>
<circle cx="603.2" cy="378.4" r="1.4" fill="#ece6ff"/>
<circle cx="607.1" cy="379.4" r="1.4" fill="#ece6ff"/>
<line x1="629.4" y1="379.6" x2="655.4" y2="373.0" stroke="#9272f6" stroke-width="2.1" stroke-linecap="round"/>
<path d="M618.7,339.8 617.2,339.9 615.6,340.0 614.1,340.2 612.6,340.5 611.1,340.9 609.5,341.4 608.0,341.9 578.2,353.6 577.3,353.9 576.6,354.3 576.1,354.6 575.7,354.9 575.5,355.2 575.4,355.5 575.4,364.7 575.5,365.0 575.8,365.2 576.2,365.4 576.9,365.6 577.6,365.7 578.6,365.9 612.2,370.4 613.8,370.6 615.4,370.7 617.0,370.8 618.6,370.8 620.1,370.8 621.7,370.7 623.3,370.6 624.9,370.4 626.4,370.1 628.0,369.9 629.6,369.5 631.1,369.1 659.0,361.4 659.9,361.1 660.7,360.9 661.2,360.6 661.6,360.3 661.9,360.1 662.0,359.8 662.0,350.6 661.9,350.3 661.6,350.0 661.2,349.8 660.6,349.5 659.9,349.3 659.0,349.0 626.5,340.8 624.9,340.4 623.3,340.2 621.8,340.0 620.2,339.9Z" fill="#5b33dc"/>
<path d="M578.6,356.6 577.6,356.5 576.9,356.3 576.2,356.1 575.8,355.9 575.5,355.7 575.4,355.5 575.5,355.2 575.7,354.9 576.1,354.6 576.6,354.3 577.3,353.9 578.2,353.6 608.0,341.9 609.5,341.4 611.1,340.9 612.6,340.5 614.1,340.2 615.6,340.0 617.2,339.9 618.7,339.8 620.2,339.9 621.8,340.0 623.3,340.2 624.9,340.4 626.5,340.8 659.0,349.0 659.9,349.3 660.6,349.5 661.2,349.8 661.6,350.0 661.9,350.3 662.0,350.6 661.9,350.8 661.6,351.1 661.2,351.4 660.7,351.6 659.9,351.9 659.0,352.2 631.1,359.9 629.6,360.3 628.0,360.6 626.4,360.9 624.9,361.1 623.3,361.3 621.7,361.5 620.1,361.5 618.6,361.6 617.0,361.5 615.4,361.5 613.8,361.3 612.2,361.1Z" fill="#7048ee"/>
<path d="M612.5,358.3 614.0,358.4 615.6,358.6 617.1,358.6 618.6,358.7 620.0,358.6 621.5,358.6 623.0,358.4 624.5,358.3 626.0,358.0 627.5,357.7 629.0,357.4 630.4,357.0 654.6,350.4 625.8,343.1 624.4,342.8 623.0,342.5 621.5,342.3 620.1,342.2 618.7,342.2 617.3,342.3 615.9,342.4 614.5,342.6 613.2,342.9 611.8,343.2 610.4,343.6 609.0,344.1 583.0,354.3Z" fill="#2f1c6a"/>
<circle cx="599.1" cy="363.0" r="1.4" fill="#ece6ff"/>
<circle cx="603.2" cy="363.9" r="1.4" fill="#ece6ff"/>
<circle cx="607.1" cy="364.9" r="1.4" fill="#ece6ff"/>
<line x1="629.4" y1="365.1" x2="655.4" y2="358.5" stroke="#9272f6" stroke-width="2.1" stroke-linecap="round"/>
<circle cx="577.0" cy="351.5" r="11.0" fill="#13ac88"/><polyline points="570.2,349.7 575.4,355.1 583.8,348.7" fill="none" stroke="#d2ffea" stroke-width="2.4" stroke-linecap="round" stroke-linejoin="round"/>
<path d="M688.2,401.6 686.7,401.7 685.1,401.8 683.6,402.0 682.1,402.3 680.6,402.7 679.0,403.2 677.5,403.7 647.7,415.4 646.8,415.7 646.1,416.1 645.6,416.4 645.2,416.7 645.0,417.0 644.9,417.2 644.9,426.5 645.0,426.7 645.3,427.0 645.7,427.2 646.4,427.4 647.1,427.5 648.1,427.7 681.7,432.2 683.3,432.4 684.9,432.5 686.5,432.6 688.1,432.6 689.6,432.6 691.2,432.5 692.8,432.4 694.4,432.2 695.9,431.9 697.5,431.6 699.1,431.3 700.6,430.9 728.5,423.2 729.4,422.9 730.2,422.7 730.7,422.4 731.1,422.1 731.4,421.9 731.5,421.6 731.5,412.3 731.4,412.1 731.1,411.8 730.7,411.6 730.1,411.3 729.4,411.1 728.5,410.8 696.0,402.6 694.4,402.2 692.8,401.9 691.3,401.8 689.7,401.6Z" fill="#5b33dc"/>
<path d="M648.1,418.4 647.1,418.3 646.4,418.1 645.7,417.9 645.3,417.7 645.0,417.5 644.9,417.2 645.0,417.0 645.2,416.7 645.6,416.4 646.1,416.1 646.8,415.7 647.7,415.4 677.5,403.7 679.0,403.2 680.6,402.7 682.1,402.3 683.6,402.0 685.1,401.8 686.7,401.7 688.2,401.6 689.7,401.6 691.3,401.8 692.8,401.9 694.4,402.2 696.0,402.6 728.5,410.8 729.4,411.1 730.1,411.3 730.7,411.6 731.1,411.8 731.4,412.1 731.5,412.3 731.4,412.6 731.1,412.9 730.7,413.1 730.2,413.4 729.4,413.7 728.5,413.9 700.6,421.6 699.1,422.0 697.5,422.4 695.9,422.7 694.4,422.9 692.8,423.1 691.2,423.2 689.6,423.3 688.1,423.3 686.5,423.3 684.9,423.2 683.3,423.1 681.7,422.9Z" fill="#7048ee"/>
<path d="M682.0,420.0 683.5,420.2 685.1,420.3 686.6,420.4 688.1,420.4 689.5,420.4 691.0,420.3 692.5,420.2 694.0,420.0 695.5,419.8 697.0,419.5 698.5,419.2 699.9,418.8 724.1,412.2 695.3,404.9 693.9,404.5 692.5,404.3 691.0,404.1 689.6,404.0 688.2,404.0 686.8,404.0 685.4,404.2 684.0,404.4 682.7,404.6 681.3,405.0 679.9,405.4 678.5,405.9 652.5,416.1Z" fill="#2f1c6a"/>
<circle cx="668.6" cy="424.7" r="1.4" fill="#ece6ff"/>
<circle cx="672.7" cy="425.7" r="1.4" fill="#ece6ff"/>
<circle cx="676.6" cy="426.7" r="1.4" fill="#ece6ff"/>
<line x1="698.9" y1="426.9" x2="724.9" y2="420.3" stroke="#9272f6" stroke-width="2.1" stroke-linecap="round"/>
<path d="M688.2,387.1 686.7,387.2 685.1,387.3 683.6,387.5 682.1,387.8 680.6,388.2 679.0,388.7 677.5,389.2 647.7,400.9 646.8,401.2 646.1,401.6 645.6,401.9 645.2,402.2 645.0,402.5 644.9,402.7 644.9,412.0 645.0,412.2 645.3,412.5 645.7,412.7 646.4,412.9 647.1,413.0 648.1,413.2 681.7,417.7 683.3,417.9 684.9,418.0 686.5,418.1 688.1,418.1 689.6,418.1 691.2,418.0 692.8,417.9 694.4,417.7 695.9,417.4 697.5,417.1 699.1,416.8 700.6,416.4 728.5,408.7 729.4,408.4 730.2,408.2 730.7,407.9 731.1,407.6 731.4,407.4 731.5,407.1 731.5,397.8 731.4,397.6 731.1,397.3 730.7,397.1 730.1,396.8 729.4,396.6 728.5,396.3 696.0,388.1 694.4,387.7 692.8,387.5 691.3,387.3 689.7,387.2Z" fill="#5b33dc"/>
<path d="M648.1,403.9 647.1,403.8 646.4,403.6 645.7,403.4 645.3,403.2 645.0,403.0 644.9,402.7 645.0,402.5 645.2,402.2 645.6,401.9 646.1,401.6 646.8,401.2 647.7,400.9 677.5,389.2 679.0,388.7 680.6,388.2 682.1,387.8 683.6,387.5 685.1,387.3 686.7,387.2 688.2,387.1 689.7,387.2 691.3,387.3 692.8,387.5 694.4,387.7 696.0,388.1 728.5,396.3 729.4,396.6 730.1,396.8 730.7,397.1 731.1,397.3 731.4,397.6 731.5,397.8 731.4,398.1 731.1,398.4 730.7,398.6 730.2,398.9 729.4,399.2 728.5,399.5 700.6,407.1 699.1,407.5 697.5,407.9 695.9,408.2 694.4,408.4 692.8,408.6 691.2,408.7 689.6,408.8 688.1,408.9 686.5,408.8 684.9,408.7 683.3,408.6 681.7,408.4Z" fill="#7048ee"/>
<path d="M682.0,405.5 683.5,405.7 685.1,405.8 686.6,405.9 688.1,405.9 689.5,405.9 691.0,405.8 692.5,405.7 694.0,405.5 695.5,405.3 697.0,405.0 698.5,404.7 699.9,404.3 724.1,397.7 695.3,390.4 693.9,390.1 692.5,389.8 691.0,389.6 689.6,389.5 688.2,389.5 686.8,389.6 685.4,389.7 684.0,389.9 682.7,390.1 681.3,390.5 679.9,390.9 678.5,391.4 652.5,401.6Z" fill="#2f1c6a"/>
<circle cx="668.6" cy="410.2" r="1.4" fill="#ece6ff"/>
<circle cx="672.7" cy="411.2" r="1.4" fill="#ece6ff"/>
<circle cx="676.6" cy="412.2" r="1.4" fill="#ece6ff"/>
<line x1="698.9" y1="412.4" x2="724.9" y2="405.8" stroke="#9272f6" stroke-width="2.1" stroke-linecap="round"/>
<path d="M688.2,372.6 686.7,372.7 685.1,372.8 683.6,373.0 682.1,373.3 680.6,373.7 679.0,374.2 677.5,374.7 647.7,386.4 646.8,386.7 646.1,387.1 645.6,387.4 645.2,387.7 645.0,388.0 644.9,388.3 644.9,397.5 645.0,397.8 645.3,398.0 645.7,398.2 646.4,398.4 647.1,398.5 648.1,398.7 681.7,403.2 683.3,403.4 684.9,403.5 686.5,403.6 688.1,403.6 689.6,403.6 691.2,403.5 692.8,403.4 694.4,403.2 695.9,402.9 697.5,402.6 699.1,402.3 700.6,401.9 728.5,394.2 729.4,393.9 730.2,393.7 730.7,393.4 731.1,393.1 731.4,392.9 731.5,392.6 731.5,383.4 731.4,383.1 731.1,382.8 730.7,382.6 730.1,382.3 729.4,382.1 728.5,381.8 696.0,373.6 694.4,373.2 692.8,373.0 691.3,372.8 689.7,372.7Z" fill="#5b33dc"/>
<path d="M648.1,389.4 647.1,389.3 646.4,389.1 645.7,388.9 645.3,388.7 645.0,388.5 644.9,388.3 645.0,388.0 645.2,387.7 645.6,387.4 646.1,387.1 646.8,386.7 647.7,386.4 677.5,374.7 679.0,374.2 680.6,373.7 682.1,373.3 683.6,373.0 685.1,372.8 686.7,372.7 688.2,372.6 689.7,372.7 691.3,372.8 692.8,373.0 694.4,373.2 696.0,373.6 728.5,381.8 729.4,382.1 730.1,382.3 730.7,382.6 731.1,382.8 731.4,383.1 731.5,383.4 731.4,383.6 731.1,383.9 730.7,384.2 730.2,384.4 729.4,384.7 728.5,385.0 700.6,392.6 699.1,393.0 697.5,393.4 695.9,393.7 694.4,393.9 692.8,394.1 691.2,394.3 689.6,394.3 688.1,394.4 686.5,394.3 684.9,394.3 683.3,394.1 681.7,393.9Z" fill="#7048ee"/>
<path d="M682.0,391.0 683.5,391.2 685.1,391.4 686.6,391.4 688.1,391.5 689.5,391.4 691.0,391.4 692.5,391.2 694.0,391.0 695.5,390.8 697.0,390.5 698.5,390.2 699.9,389.8 724.1,383.2 695.3,375.9 693.9,375.6 692.5,375.3 691.0,375.1 689.6,375.0 688.2,375.0 686.8,375.1 685.4,375.2 684.0,375.4 682.7,375.7 681.3,376.0 679.9,376.4 678.5,376.9 652.5,387.1Z" fill="#2f1c6a"/>
<circle cx="668.6" cy="395.7" r="1.4" fill="#ece6ff"/>
<circle cx="672.7" cy="396.7" r="1.4" fill="#ece6ff"/>
<circle cx="676.6" cy="397.7" r="1.4" fill="#ece6ff"/>
<line x1="698.9" y1="397.9" x2="724.9" y2="391.3" stroke="#9272f6" stroke-width="2.1" stroke-linecap="round"/>
<path d="M688.2,358.1 686.7,358.2 685.1,358.3 683.6,358.5 682.1,358.8 680.6,359.2 679.0,359.7 677.5,360.2 647.7,371.9 646.8,372.2 646.1,372.6 645.6,372.9 645.2,373.2 645.0,373.5 644.9,373.8 644.9,383.0 645.0,383.3 645.3,383.5 645.7,383.7 646.4,383.9 647.1,384.0 648.1,384.2 681.7,388.7 683.3,388.9 684.9,389.0 686.5,389.1 688.1,389.1 689.6,389.1 691.2,389.0 692.8,388.9 694.4,388.7 695.9,388.4 697.5,388.2 699.1,387.8 700.6,387.4 728.5,379.7 729.4,379.4 730.2,379.2 730.7,378.9 731.1,378.6 731.4,378.4 731.5,378.1 731.5,368.9 731.4,368.6 731.1,368.3 730.7,368.1 730.1,367.8 729.4,367.6 728.5,367.3 696.0,359.1 694.4,358.7 692.8,358.5 691.3,358.3 689.7,358.2Z" fill="#5b33dc"/>
<path d="M648.1,374.9 647.1,374.8 646.4,374.6 645.7,374.4 645.3,374.2 645.0,374.0 644.9,373.8 645.0,373.5 645.2,373.2 645.6,372.9 646.1,372.6 646.8,372.2 647.7,371.9 677.5,360.2 679.0,359.7 680.6,359.2 682.1,358.8 683.6,358.5 685.1,358.3 686.7,358.2 688.2,358.1 689.7,358.2 691.3,358.3 692.8,358.5 694.4,358.7 696.0,359.1 728.5,367.3 729.4,367.6 730.1,367.8 730.7,368.1 731.1,368.3 731.4,368.6 731.5,368.9 731.4,369.1 731.1,369.4 730.7,369.7 730.2,369.9 729.4,370.2 728.5,370.5 700.6,378.2 699.1,378.6 697.5,378.9 695.9,379.2 694.4,379.4 692.8,379.6 691.2,379.8 689.6,379.8 688.1,379.9 686.5,379.8 684.9,379.8 683.3,379.6 681.7,379.4Z" fill="#7048ee"/>
<path d="M682.0,376.6 683.5,376.7 685.1,376.9 686.6,376.9 688.1,377.0 689.5,376.9 691.0,376.9 692.5,376.7 694.0,376.6 695.5,376.3 697.0,376.0 698.5,375.7 699.9,375.3 724.1,368.7 695.3,361.4 693.9,361.1 692.5,360.8 691.0,360.6 689.6,360.5 688.2,360.5 686.8,360.6 685.4,360.7 684.0,360.9 682.7,361.2 681.3,361.5 679.9,361.9 678.5,362.4 652.5,372.6Z" fill="#2f1c6a"/>
<circle cx="668.6" cy="381.3" r="1.4" fill="#ece6ff"/>
<circle cx="672.7" cy="382.2" r="1.4" fill="#ece6ff"/>
<circle cx="676.6" cy="383.2" r="1.4" fill="#ece6ff"/>
<line x1="698.9" y1="383.4" x2="724.9" y2="376.8" stroke="#9272f6" stroke-width="2.1" stroke-linecap="round"/>
<circle cx="646.5" cy="372.0" r="11.0" fill="#13ac88"/><polyline points="639.7,370.2 644.9,375.6 653.3,369.2" fill="none" stroke="#d2ffea" stroke-width="2.4" stroke-linecap="round" stroke-linejoin="round"/>
</g>
<path d="M472.3,270.8 472.2,271.3 472.1,271.7 471.9,272.1 471.7,272.5 471.5,272.9 471.2,273.2 470.9,273.5 470.6,273.7 470.2,273.9 469.8,274.1 469.3,274.2 468.9,274.2 468.3,274.3 468.3,274.3 467.6,274.3 467.6,274.3 466.8,274.4 466.8,274.4 466.1,274.5 466.1,274.5 465.4,274.6 465.3,274.6 464.6,274.7 464.6,274.7 463.9,274.8 463.9,274.8 463.2,275.0 463.1,275.0 462.5,275.1 462.4,275.1 461.7,275.2 461.7,275.2 461.0,275.4 461.0,275.4 460.3,275.6 460.3,275.6 459.6,275.7 459.6,275.7 458.9,275.9 458.9,275.9 458.2,276.1 458.2,276.1 457.5,276.3 457.5,276.3 456.8,276.5 456.8,276.6 456.2,276.8 456.1,276.8 455.5,277.0 455.5,277.0 454.8,277.2 454.8,277.3 454.1,277.5 454.1,277.5 453.5,277.8 453.5,277.8 452.8,278.0 452.8,278.1 452.2,278.3 452.1,278.3 451.5,278.6 451.5,278.6 450.9,278.9 450.9,278.9 450.3,279.2 450.2,279.2 449.6,279.5 449.6,279.6 449.0,279.9 449.0,279.9 448.4,280.2 448.4,280.2 447.8,280.6 447.8,280.6 447.2,280.9 447.2,280.9 446.6,281.3 446.6,281.3 446.0,281.7 446.0,281.7 445.4,282.0 445.4,282.1 444.8,282.4 444.8,282.4 444.3,282.8 444.2,282.8 443.7,283.2 443.7,283.3 443.1,283.7 443.1,283.7 442.6,284.1 442.6,284.1 442.1,284.5 442.0,284.5 441.5,285.0 441.5,285.0 441.0,285.4 441.0,285.4 440.5,285.9 440.5,285.9 440.0,286.3 439.9,286.4 439.5,286.8 439.4,286.8 439.0,287.3 438.9,287.3 438.5,287.8 438.4,287.8 438.0,288.3 438.0,288.3 437.5,288.8 437.5,288.8 437.0,289.3 437.0,289.4 436.6,289.9 436.6,289.9 436.1,290.4 436.1,290.4 435.7,290.9 435.7,291.0 435.2,291.5 435.2,291.5 434.8,292.0 434.8,292.1 434.4,292.6 434.4,292.6 434.0,293.2 434.0,293.2 433.6,293.7 433.6,293.8 433.2,294.3 433.2,294.3 432.8,294.9 432.8,294.9 432.4,295.5 432.4,295.5 432.1,296.1 432.0,296.1 431.7,296.7 431.7,296.8 431.3,297.3 431.3,297.4 431.0,298.0 431.0,298.0 430.7,298.6 430.7,298.6 430.3,299.2 430.3,299.3 430.0,299.9 430.0,299.9 429.7,300.5 429.7,300.6 429.4,301.2 429.4,301.2 429.1,301.8 429.1,301.9 428.8,302.5 428.8,302.5 428.6,303.2 428.6,303.2 428.3,303.9 428.3,303.9 428.1,304.5 428.1,304.6 427.8,305.2 427.8,305.3 427.6,305.9 427.6,306.0 427.4,306.6 427.3,306.7 427.1,307.3 427.1,307.4 426.9,308.0 426.9,308.1 426.7,308.8 426.7,308.8 426.5,309.5 426.5,309.5 426.4,310.2 426.4,310.2 426.2,310.9 426.2,311.0 426.0,311.7 426.0,311.7 425.9,312.4 425.9,312.4 425.8,313.2 425.7,313.2 425.6,313.9 425.6,313.9 425.5,314.7 425.5,314.7 425.4,315.4 425.4,315.4 425.3,316.2 425.3,316.2 425.2,316.9 425.2,317.0 425.1,317.7 425.1,317.7 425.0,318.5 425.0,318.5 425.0,319.2 425.0,319.3 424.9,320.0 424.9,320.0 424.9,320.8 424.9,320.8 424.8,321.6 424.8,321.6 424.8,322.4 424.8,322.4 424.8,323.1 424.8,323.2 424.8,323.9 424.8,324.0 424.8,324.7 424.8,324.8 424.8,325.5 424.8,325.6 424.8,326.3 424.8,326.3 424.9,327.1 424.9,327.1 424.9,327.9 424.9,328.0 425.0,328.7 425.0,328.8 425.0,329.5 425.0,329.6 425.1,330.3 425.1,330.4 425.2,331.1 425.2,331.2 425.3,332.0 425.3,332.0 425.4,332.8 425.4,332.8 425.5,333.6 425.5,333.6 425.6,334.4 425.6,334.4 425.7,335.2 425.8,335.2 425.9,336.0 425.9,336.1 426.0,336.8 426.0,336.9 426.2,337.7 426.2,337.7 426.4,338.5 426.4,338.5 426.5,339.3 426.5,339.3 426.7,340.1 426.7,340.1 426.9,340.9 426.9,341.0 427.1,341.7 427.1,341.8 427.3,342.6 427.4,342.6 427.6,343.4 427.6,343.4 427.8,344.2 427.8,344.2 428.1,345.0 428.1,345.0 428.3,345.8 428.3,345.9 428.6,346.6 428.6,346.7 428.8,347.5 428.8,347.5 429.1,348.3 429.1,348.3 429.4,349.1 429.4,349.1 429.7,349.9 429.7,349.9 430.0,350.7 430.0,350.7 430.3,351.5 430.3,351.5 430.7,352.3 430.7,352.3 431.0,353.1 431.0,353.2 431.3,353.9 431.3,354.0 431.7,354.7 431.7,354.8 432.0,355.5 432.1,355.6 432.4,356.3 432.4,356.3 432.8,357.1 432.8,357.1 433.2,357.9 433.2,357.9 433.6,358.7 433.6,358.7 434.0,359.5 434.0,359.5 434.4,360.3 434.4,360.3 434.8,361.0 434.8,361.1 435.2,361.8 435.2,361.8 435.7,362.6 435.7,362.6 436.1,363.4 436.1,363.4 436.6,364.1 436.6,364.2 437.0,364.9 437.0,364.9 437.5,365.7 437.5,365.7 438.0,366.4 438.0,366.4 438.4,367.2 438.5,367.2 438.9,367.9 439.0,367.9 439.4,368.7 439.5,368.7 439.9,369.4 440.0,369.4 440.5,370.1 440.5,370.2 441.0,370.9 441.0,370.9 441.5,371.6 441.5,371.6 442.0,372.3 442.1,372.3 442.6,373.0 442.6,373.1 443.1,373.7 443.1,373.8 443.7,374.5 443.7,374.5 444.2,375.2 444.3,375.2 444.8,375.9 444.8,375.9 445.4,376.5 445.4,376.6 446.0,377.2 446.0,377.3 446.6,377.9 446.6,377.9 447.2,378.6 447.2,378.6 447.8,379.3 447.8,379.3 448.4,379.9 448.4,380.0 449.0,380.6 449.0,380.6 449.6,381.2 449.6,381.3 450.2,381.9 450.3,381.9 450.9,382.5 450.9,382.5 451.5,383.2 451.5,383.2 452.1,383.8 452.2,383.8 452.8,384.4 452.8,384.4 453.5,385.0 453.5,385.0 454.1,385.6 454.1,385.7 454.8,386.2 454.8,386.3 455.5,386.8 455.5,386.8 456.1,387.4 456.2,387.4 456.8,388.0 456.8,388.0 457.5,388.6 457.5,388.6 458.2,389.1 458.2,389.1 458.9,389.7 458.9,389.7 459.6,390.2 459.6,390.3 460.3,390.8 460.3,390.8 461.0,391.3 461.0,391.3 461.7,391.8 461.7,391.9 462.4,392.4 462.5,392.4 463.1,392.9 463.2,392.9 463.9,393.4 463.9,393.4 464.6,393.9 464.6,393.9 465.3,394.4 465.4,394.4 466.1,394.9 466.1,394.9 466.8,395.3 466.8,395.3 467.6,395.8 467.6,395.8 468.3,396.2 468.3,396.3 469.1,396.7 469.1,396.7 469.8,397.1 469.8,397.1 470.6,397.6 470.6,397.6 471.3,398.0 471.4,398.0 472.1,398.4 472.1,398.4 472.8,398.8 472.9,398.8 473.6,399.2 473.6,399.2 474.4,399.6 474.4,399.6 475.2,400.0 475.2,400.0 475.9,400.3 476.0,400.4 476.7,400.7 476.7,400.7 477.5,401.1 477.5,401.1 478.3,401.4 478.3,401.4 479.0,401.7 479.1,401.7 479.8,402.1 479.9,402.1 480.6,402.4 480.6,402.4 481.4,402.7 481.4,402.7 482.2,403.0 482.2,403.0 483.0,403.3 483.0,403.3 483.8,403.5 483.8,403.5 484.5,403.8 484.6,403.8 485.3,404.1 485.4,404.1 486.1,404.3 486.2,404.3 486.9,404.6 486.9,404.6 487.7,404.8 745.8,477.4 746.7,477.6 746.7,477.6 747.5,477.8 747.5,477.9 748.3,478.1 748.3,478.1 749.1,478.3 749.2,478.3 750.0,478.4 750.0,478.4 750.8,478.6 750.8,478.6 751.6,478.8 751.6,478.8 752.4,478.9 752.4,479.0 753.2,479.1 753.3,479.1 754.1,479.2 754.1,479.2 754.9,479.4 754.9,479.4 755.7,479.5 755.7,479.5 756.5,479.6 756.5,479.6 757.3,479.7 757.3,479.7 758.1,479.8 758.2,479.8 758.9,479.8 759.0,479.8 759.7,479.9 759.8,479.9 760.6,480.0 760.6,480.0 761.4,480.0 761.4,480.0 762.2,480.0 762.2,480.0 763.0,480.1 763.0,480.1 763.8,480.1 763.8,480.1 764.6,480.1 764.6,480.1 765.4,480.1 765.4,480.1 766.1,480.1 766.2,480.1 766.9,480.0 767.0,480.0 767.7,480.0 767.7,480.0 768.5,479.9 768.5,479.9 769.3,479.9 769.3,479.9 770.1,479.8 770.1,479.8 770.8,479.7 770.9,479.7 771.6,479.6 771.6,479.6 772.4,479.5 772.4,479.5 773.1,479.4 773.2,479.4 773.9,479.3 773.9,479.3 774.6,479.2 774.7,479.2 775.4,479.0 775.4,479.0 776.1,478.9 776.2,478.9 776.9,478.7 776.9,478.7 777.6,478.5 777.6,478.5 778.3,478.3 778.4,478.3 779.1,478.2 779.1,478.1 779.8,478.0 779.8,477.9 780.5,477.7 780.5,477.7 781.2,477.5 781.3,477.5 781.9,477.3 782.0,477.3 782.6,477.0 782.7,477.0 783.3,476.8 783.4,476.8 784.0,476.5 784.0,476.5 784.7,476.2 784.7,476.2 785.4,476.0 785.4,475.9 786.1,475.7 786.1,475.7 786.7,475.4 786.8,475.3 787.4,475.0 787.4,475.0 788.1,474.7 788.1,474.7 788.7,474.4 788.7,474.4 789.4,474.1 789.4,474.0 790.0,473.7 790.0,473.7 790.6,473.3 790.6,473.3 791.3,473.0 791.3,473.0 791.9,472.6 791.9,472.6 792.5,472.2 792.5,472.2 793.1,471.8 793.1,471.8 793.7,471.4 793.7,471.4 794.3,471.0 794.3,471.0 794.9,470.6 794.9,470.5 795.4,470.1 795.5,470.1 796.0,469.7 796.0,469.7 796.6,469.2 796.6,469.2 797.1,468.8 797.2,468.7 797.7,468.3 797.7,468.3 798.2,467.8 798.2,467.8 798.8,467.3 798.8,467.3 799.3,466.8 799.3,466.8 799.8,466.3 799.8,466.3 800.3,465.8 800.3,465.8 800.8,465.3 800.8,465.3 801.3,464.8 801.3,464.7 801.8,464.2 801.8,464.2 802.3,463.7 802.3,463.7 802.7,463.1 802.8,463.1 803.2,462.6 803.2,462.5 803.7,462.0 803.7,462.0 804.1,461.4 804.1,461.4 804.5,460.8 804.5,460.8 805.0,460.2 805.0,460.2 805.4,459.6 805.4,459.6 805.8,459.0 805.8,459.0 806.2,458.4 806.2,458.4 806.6,457.8 806.6,457.8 807.0,457.2 807.0,457.2 807.3,456.5 807.4,456.5 807.7,455.9 807.7,455.9 808.1,455.3 808.1,455.2 808.4,454.6 808.4,454.6 808.7,453.9 808.8,453.9 809.1,453.3 809.1,453.2 809.4,452.6 809.4,452.6 809.7,451.9 809.7,451.9 810.0,451.2 810.0,451.2 810.3,450.5 810.3,450.5 810.6,449.8 810.6,449.8 810.9,449.1 810.9,449.1 811.1,448.4 811.1,448.4 811.4,447.7 811.4,447.7 811.6,447.0 811.6,447.0 811.8,446.3 811.9,446.2 812.1,445.5 812.1,445.5 812.3,444.8 812.3,444.8 812.5,444.0 812.5,444.0 812.7,443.3 812.7,443.3 812.9,442.5 812.9,442.5 813.0,441.8 813.1,441.8 813.2,441.0 813.2,441.0 813.4,440.3 813.4,440.2 813.5,439.5 813.5,439.5 813.6,438.7 813.7,438.7 813.8,437.9 813.8,437.9 813.9,437.1 813.9,437.1 814.0,436.4 814.0,436.3 814.1,435.6 814.1,435.5 814.2,434.8 814.2,434.7 814.3,434.0 814.3,433.9 814.3,433.2 814.3,433.1 814.4,432.4 814.4,432.3 814.4,431.6 814.4,431.5 814.5,430.7 814.5,430.7 814.5,429.9 814.5,429.9 814.5,429.1 814.5,429.1 814.5,428.3 814.5,428.3 814.5,427.5 814.5,427.4 814.5,426.6 814.5,426.6 814.5,425.8 814.5,425.8 814.4,425.0 814.4,424.9 814.4,424.1 814.4,424.1 814.3,423.3 814.3,423.3 814.3,422.5 814.3,422.4 814.2,421.6 814.2,421.6 814.1,420.8 814.1,420.8 814.0,420.0 814.0,419.9 813.9,419.1 813.9,419.1 813.8,418.3 813.8,418.2 813.7,417.4 813.6,417.4 813.5,416.6 813.5,416.5 813.4,415.7 813.4,415.7 813.2,414.9 813.2,414.8 813.1,414.0 813.0,414.0 812.9,413.2 812.9,413.2 812.7,412.3 812.7,412.3 812.5,411.5 812.5,411.5 812.3,410.6 812.3,410.6 812.1,409.8 812.1,409.8 811.9,408.9 811.8,408.9 811.6,408.1 811.6,408.1 811.4,407.2 811.4,407.2 811.1,406.4 811.1,406.4 810.9,405.5 810.9,405.5 810.6,404.7 810.6,404.7 810.3,403.9 810.3,403.8 810.0,403.0 810.0,403.0 809.7,402.2 809.7,402.1 809.4,401.3 809.4,401.3 809.1,400.5 809.1,400.4 808.8,399.6 808.7,399.6 808.4,398.8 808.4,398.8 808.1,398.0 808.1,397.9 807.7,397.1 807.7,397.1 807.4,396.3 807.3,396.3 807.0,395.5 807.0,395.4 806.6,394.6 806.6,394.6 806.2,393.8 806.2,393.8 805.8,393.0 805.8,393.0 805.4,392.2 805.4,392.1 805.0,391.4 805.0,391.3 804.5,390.5 804.5,390.5 804.1,389.7 804.1,389.7 803.7,388.9 803.7,388.9 803.2,388.1 803.2,388.1 802.8,387.3 802.7,387.3 802.3,386.5 802.3,386.5 801.8,385.7 801.8,385.7 801.3,384.9 801.3,384.9 800.8,384.2 800.8,384.1 800.3,383.4 800.3,383.3 799.8,382.6 799.8,382.6 799.3,381.8 799.3,381.8 798.8,381.1 798.8,381.0 798.2,380.3 798.2,380.3 797.7,379.5 797.7,379.5 797.2,378.8 797.1,378.7 796.6,378.0 796.6,378.0 796.0,377.3 796.0,377.3 795.5,376.5 795.4,376.5 794.9,375.8 794.9,375.8 794.3,375.1 794.3,375.0 793.7,374.4 793.7,374.3 793.1,373.6 793.1,373.6 792.5,372.9 792.5,372.9 791.9,372.2 791.9,372.2 791.3,371.5 791.3,371.5 790.6,370.8 790.6,370.8 790.0,370.1 790.0,370.1 789.4,369.4 789.4,369.4 788.7,368.8 788.7,368.7 788.1,368.1 788.1,368.1 787.4,367.4 787.4,367.4 786.8,366.8 786.7,366.7 786.1,366.1 786.1,366.1 785.4,365.5 785.4,365.4 784.7,364.8 784.7,364.8 784.0,364.2 784.0,364.2 783.4,363.6 783.3,363.6 782.7,363.0 782.6,362.9 782.0,362.3 781.9,362.3 781.3,361.7 781.2,361.7 780.5,361.2 780.5,361.1 779.8,360.6 779.8,360.5 779.1,360.0 779.1,360.0 778.4,359.4 778.3,359.4 777.6,358.8 777.6,358.8 776.9,358.3 776.9,358.3 776.2,357.7 776.1,357.7 775.4,357.2 775.4,357.2 774.7,356.7 774.6,356.6 773.9,356.1 773.9,356.1 773.2,355.6 773.1,355.6 772.4,355.1 772.4,355.1 771.6,354.6 771.6,354.6 770.9,354.1 770.8,354.1 770.1,353.6 770.1,353.6 769.3,353.2 769.3,353.2 768.5,352.7 768.5,352.7 767.7,352.2 767.7,352.2 767.0,351.8 766.9,351.8 766.2,351.4 766.1,351.3 765.4,350.9 765.4,350.9 764.6,350.5 764.6,350.5 763.8,350.1 763.8,350.1 763.0,349.7 763.0,349.7 762.2,349.3 762.2,349.3 761.4,348.9 761.4,348.9 760.6,348.5 760.6,348.5 759.8,348.2 759.7,348.2 759.0,347.8 758.9,347.8 758.2,347.5 758.1,347.5 757.3,347.1 757.3,347.1 756.5,346.8 756.5,346.8 755.7,346.5 755.7,346.5 754.9,346.2 754.9,346.2 754.1,345.9 754.1,345.9 754.0,345.9 753.6,345.7 753.1,345.4 752.6,345.1 752.2,344.8 751.7,344.5 751.3,344.1 751.0,343.6 750.6,343.2 750.3,342.7 750.1,342.2 749.9,341.7 749.7,341.2 749.6,340.7 749.5,340.2 749.5,339.7 749.5,320.5 749.5,320.3 749.5,319.8 749.5,319.4 749.5,319.0 749.5,318.6 749.5,318.2 749.4,317.8 749.4,317.4 749.4,317.1 749.4,316.6 749.4,316.3 749.3,315.9 749.3,315.5 749.3,315.1 749.3,314.7 749.2,314.3 749.2,313.9 749.1,313.5 749.1,313.1 749.0,312.7 749.0,312.3 748.9,311.9 748.9,311.5 748.8,311.1 748.8,310.7 748.7,310.3 748.7,309.9 748.6,309.5 748.5,309.1 748.5,308.7 748.4,308.3 748.3,307.9 748.2,307.5 748.2,307.1 748.1,306.7 748.0,306.3 747.9,305.9 747.8,305.5 747.7,305.1 747.6,304.7 747.6,304.3 747.5,303.8 747.4,303.5 747.3,303.0 747.2,302.7 747.0,302.2 746.9,301.9 746.8,301.4 746.7,301.1 746.6,300.6 746.5,300.2 746.4,299.8 746.2,299.4 746.1,299.0 746.0,298.6 745.9,298.2 745.7,297.8 745.6,297.4 745.5,297.0 745.3,296.6 745.2,296.2 745.0,295.8 744.9,295.4 744.7,295.0 744.6,294.6 744.4,294.2 744.3,293.8 744.1,293.4 744.0,293.0 743.8,292.6 743.7,292.3 743.5,291.8 743.3,291.5 743.2,291.0 743.0,290.7 742.8,290.3 742.6,289.9 742.5,289.5 742.3,289.1 742.1,288.7 741.9,288.3 741.7,287.9 741.5,287.5 741.3,287.1 741.2,286.8 741.0,286.3 740.8,286.0 740.6,285.6 740.4,285.2 740.2,284.8 740.0,284.4 739.8,284.0 739.6,283.7 739.3,283.3 739.1,282.9 738.9,282.5 738.7,282.1 738.5,281.7 738.3,281.4 738.0,281.0 737.8,280.6 737.6,280.2 737.4,279.9 737.1,279.5 736.9,279.1 736.7,278.7 736.4,278.4 736.2,278.0 736.0,277.6 735.7,277.3 735.5,276.9 735.2,276.5 735.0,276.2 734.7,275.8 734.5,275.5 734.2,275.1 734.0,274.7 733.7,274.3 733.5,274.0 733.2,273.6 732.9,273.3 732.7,272.9 732.4,272.6 732.1,272.2 731.9,271.9 731.6,271.5 731.3,271.2 731.0,270.8 730.8,270.5 730.5,270.1 730.2,269.8 729.9,269.4 729.7,269.1 729.4,268.7 729.1,268.4 728.8,268.1 728.5,267.8 728.2,267.4 727.9,267.1 727.6,266.7 727.3,266.4 727.0,266.1 726.8,265.8 726.4,265.4 726.2,265.1 725.8,264.8 725.5,264.5 725.2,264.1 724.9,263.8 724.6,263.5 724.3,263.2 724.0,262.9 723.7,262.6 723.4,262.2 723.1,261.9 722.7,261.6 722.4,261.3 722.1,261.0 721.8,260.7 721.4,260.4 721.1,260.1 720.8,259.8 720.5,259.5 720.1,259.2 719.8,258.9 719.5,258.6 719.2,258.3 718.8,258.0 718.5,257.8 718.1,257.5 717.8,257.2 717.5,256.9 717.2,256.6 716.8,256.3 716.5,256.1 716.1,255.8 715.8,255.5 715.4,255.2 715.1,255.0 714.7,254.7 714.4,254.4 714.0,254.2 713.7,253.9 713.3,253.6 713.0,253.4 712.6,253.1 712.3,252.9 711.9,252.6 711.6,252.4 711.2,252.1 710.9,251.9 710.5,251.6 710.1,251.4 709.8,251.2 709.4,250.9 709.0,250.7 708.7,250.5 708.3,250.2 708.0,250.0 707.6,249.8 707.2,249.5 706.8,249.3 706.5,249.1 706.1,248.9 705.8,248.6 705.4,248.4 705.0,248.2 704.6,248.0 704.3,247.8 703.9,247.6 703.5,247.4 703.1,247.2 702.8,247.0 702.4,246.8 702.0,246.6 701.6,246.4 701.3,246.2 700.9,246.0 700.5,245.8 700.1,245.6 699.7,245.4 699.3,245.2 699.0,245.1 698.6,244.9 698.2,244.7 697.8,244.5 697.5,244.4 697.1,244.2 696.7,244.0 696.3,243.9 695.9,243.7 695.5,243.6 695.1,243.4 694.7,243.2 694.4,243.1 694.0,242.9 693.6,242.8 693.2,242.6 692.8,242.5 692.4,242.4 692.1,242.2 691.6,242.1 691.3,242.0 690.9,241.8 690.5,241.7 690.1,241.6 689.7,241.4 689.3,241.3 688.9,241.2 688.5,241.1 688.2,241.0 687.8,240.8 687.4,240.7 687.0,240.6 686.6,240.5 686.2,240.4 685.8,240.3 685.4,240.2 685.1,240.1 684.6,240.0 684.3,239.9 683.9,239.8 683.5,239.8 683.1,239.7 682.7,239.6 682.3,239.5 681.9,239.4 681.5,239.4 681.2,239.3 680.7,239.2 680.4,239.1 680.0,239.1 679.6,239.0 679.2,239.0 678.8,238.9 678.4,238.8 678.1,238.8 677.7,238.7 677.3,238.7 676.9,238.6 676.5,238.6 676.1,238.6 675.7,238.5 675.3,238.5 675.0,238.5 674.6,238.4 674.2,238.4 673.8,238.4 673.4,238.4 673.0,238.3 672.7,238.3 672.3,238.3 671.9,238.3 671.5,238.3 671.2,238.3 670.8,238.3 670.4,238.3 670.0,238.2 669.7,238.3 669.3,238.3 668.9,238.3 668.5,238.3 668.2,238.3 667.8,238.3 667.4,238.3 667.0,238.3 666.7,238.3 666.3,238.4 665.9,238.4 665.5,238.4 665.2,238.5 664.8,238.5 664.4,238.5 664.1,238.6 663.7,238.6 663.3,238.7 663.0,238.7 662.6,238.7 662.3,238.8 661.9,238.8 661.5,238.9 661.2,239.0 660.8,239.0 660.4,239.1 660.1,239.1 659.7,239.2 659.4,239.3 659.0,239.4 658.7,239.4 658.3,239.5 658.2,239.5 657.8,239.6 657.3,239.6 656.8,239.6 656.3,239.5 655.8,239.4 655.3,239.2 654.8,239.0 654.3,238.7 653.9,238.4 653.4,238.1 653.0,237.7 652.6,237.2 652.3,236.8 652.0,236.3 651.6,235.7 651.4,235.4 650.9,234.5 650.7,234.2 650.1,233.4 649.9,233.0 649.4,232.2 649.2,231.8 648.6,231.0 648.4,230.6 647.8,229.8 647.6,229.5 647.0,228.7 646.8,228.3 646.2,227.5 646.0,227.2 645.4,226.4 645.2,226.0 644.6,225.2 644.3,224.9 643.8,224.1 643.5,223.7 642.9,222.9 642.6,222.6 642.0,221.8 641.8,221.5 641.2,220.7 640.9,220.4 640.3,219.6 640.0,219.3 639.4,218.5 639.1,218.2 638.5,217.4 638.2,217.1 637.6,216.3 637.3,216.0 636.7,215.3 636.4,215.0 635.7,214.2 635.4,213.9 634.8,213.2 634.5,212.8 633.8,212.1 633.5,211.8 632.9,211.1 632.6,210.8 631.9,210.1 631.6,209.8 630.9,209.0 630.6,208.7 629.9,208.0 629.6,207.7 628.9,207.0 628.6,206.7 627.9,206.0 627.6,205.8 626.9,205.1 626.6,204.8 625.8,204.1 625.5,203.8 624.8,203.1 624.5,202.9 623.8,202.2 623.5,201.9 622.7,201.3 622.4,201.0 621.6,200.3 621.3,200.1 620.6,199.4 620.3,199.2 619.5,198.5 619.2,198.3 618.4,197.6 618.1,197.4 617.3,196.8 617.0,196.5 616.2,195.9 615.9,195.6 615.1,195.0 614.8,194.8 614.0,194.2 613.7,193.9 612.9,193.4 612.6,193.1 611.8,192.5 611.4,192.3 610.6,191.7 610.3,191.5 609.5,190.9 609.2,190.7 608.3,190.2 608.0,189.9 607.2,189.4 606.9,189.2 606.0,188.6 605.7,188.4 604.9,187.9 604.5,187.7 603.7,187.2 603.4,186.9 602.5,186.4 602.2,186.2 601.4,185.7 601.0,185.5 600.2,185.0 599.8,184.8 599.0,184.4 598.6,184.2 597.8,183.7 597.5,183.5 596.6,183.0 596.3,182.9 595.4,182.4 595.1,182.2 594.2,181.8 593.8,181.6 593.0,181.2 592.6,181.0 591.8,180.6 591.4,180.4 590.6,180.0 590.2,179.8 589.4,179.4 589.0,179.3 588.1,178.9 587.8,178.7 586.9,178.3 586.6,178.2 585.7,177.8 585.3,177.6 584.5,177.3 584.1,177.1 583.2,176.8 582.9,176.6 582.0,176.3 581.6,176.2 580.8,175.8 580.4,175.7 579.5,175.4 579.2,175.3 578.3,174.9 577.9,174.8 577.1,174.5 576.7,174.4 575.8,174.1 575.4,174.0 574.6,173.7 574.2,173.6 573.3,173.3 573.0,173.2 572.1,173.0 571.7,172.9 570.8,172.6 570.5,172.5 569.6,172.3 569.2,172.2 568.4,172.0 568.0,171.9 567.1,171.7 566.7,171.6 565.9,171.4 565.5,171.3 564.6,171.1 564.3,171.0 563.4,170.9 563.0,170.8 562.1,170.6 561.8,170.6 560.9,170.4 560.5,170.3 559.7,170.2 559.3,170.1 558.4,170.0 558.1,169.9 557.2,169.8 556.8,169.8 556.0,169.6 555.6,169.6 554.7,169.5 554.4,169.5 553.5,169.4 553.1,169.3 552.3,169.3 551.9,169.2 551.1,169.2 550.7,169.1 549.8,169.1 549.5,169.0 548.6,169.0 548.3,169.0 547.4,168.9 547.0,168.9 546.2,168.9 545.8,168.9 545.0,168.9 544.6,168.9 543.8,168.9 543.4,168.9 542.6,168.9 542.2,168.9 541.4,168.9 541.0,168.9 540.2,169.0 539.8,169.0 539.0,169.0 538.6,169.0 537.8,169.1 537.5,169.1 536.6,169.2 536.3,169.2 535.5,169.3 535.1,169.3 534.3,169.4 533.9,169.4 533.1,169.5 532.8,169.6 532.0,169.7 531.6,169.7 530.8,169.8 530.5,169.9 529.7,170.0 529.3,170.1 528.5,170.2 528.2,170.3 527.4,170.4 527.1,170.5 526.3,170.7 525.9,170.7 525.1,170.9 524.8,171.0 524.0,171.2 523.7,171.3 522.9,171.5 522.6,171.5 521.8,171.7 521.5,171.8 520.7,172.0 520.4,172.1 519.6,172.4 519.3,172.5 518.6,172.7 518.2,172.8 517.5,173.1 517.2,173.2 516.4,173.4 516.1,173.5 515.4,173.8 515.1,173.9 514.3,174.2 514.0,174.3 513.3,174.6 513.0,174.7 512.3,175.0 512.0,175.2 511.2,175.5 510.9,175.6 510.2,175.9 509.9,176.1 509.2,176.4 508.9,176.6 508.2,176.9 507.9,177.0 507.2,177.4 506.9,177.6 506.3,177.9 506.0,178.1 505.3,178.4 505.0,178.6 504.3,179.0 504.1,179.2 503.4,179.5 503.1,179.7 502.4,180.1 502.2,180.3 501.5,180.7 501.2,180.9 500.6,181.3 500.3,181.5 499.7,181.9 499.4,182.1 498.8,182.5 498.5,182.7 497.9,183.2 497.7,183.4 497.0,183.8 496.8,184.0 496.2,184.5 495.9,184.7 495.3,185.2 495.1,185.4 494.5,185.9 494.2,186.1 493.6,186.6 493.4,186.8 492.8,187.3 492.6,187.5 492.0,188.1 491.8,188.3 491.2,188.8 491.0,189.0 490.4,189.6 490.2,189.8 489.7,190.3 489.4,190.6 488.9,191.1 488.7,191.4 488.2,191.9 487.9,192.2 487.4,192.7 487.2,193.0 486.7,193.5 486.5,193.8 486.0,194.4 485.8,194.6 485.3,195.2 485.1,195.5 484.6,196.1 484.4,196.3 483.9,197.0 483.7,197.2 483.3,197.8 483.1,198.1 482.6,198.7 482.4,199.0 482.0,199.6 481.8,199.9 481.4,200.6 481.2,200.8 480.8,201.5 480.6,201.8 480.2,202.4 480.0,202.7 479.6,203.4 479.4,203.6 479.0,204.3 478.8,204.6 478.5,205.3 478.3,205.6 477.9,206.3 477.8,206.6 477.4,207.3 477.2,207.6 476.9,208.3 476.7,208.6 476.4,209.3 476.2,209.6 475.9,210.3 475.7,210.6 475.4,211.3 475.3,211.6 475.0,212.3 474.8,212.7 474.5,213.4 474.4,213.7 474.1,214.4 474.1,214.4 473.7,215.6 473.6,215.7 473.2,217.0 473.2,217.1 472.9,218.3 472.9,218.4 472.6,219.7 472.6,219.9 472.5,221.2 472.4,221.3 472.3,222.6 472.3,222.8 472.3,224.2 472.3,224.2 472.3,270.4ZM489.6,231.9 489.8,231.3 489.9,230.7 490.1,230.1 490.1,230.0 490.2,229.9 490.4,229.1 490.5,229.0 490.6,228.8 490.7,228.3 490.8,228.1 490.9,227.7 491.0,227.4 491.1,227.2 491.4,226.5 491.4,226.3 491.6,225.9 491.7,225.6 491.8,225.5 491.9,225.0 492.0,224.8 492.1,224.6 492.4,223.9 492.5,223.8 492.8,223.1 492.8,222.9 493.1,222.2 493.2,222.1 493.5,221.4 493.6,221.3 493.9,220.6 494.0,220.4 494.4,219.8 494.4,219.6 494.5,219.5 494.8,218.9 494.9,218.8 495.2,218.1 495.3,218.0 495.6,217.6 495.7,217.4 495.7,217.2 496.1,216.6 496.2,216.4 496.6,215.8 496.7,215.7 497.1,215.0 497.2,214.9 497.6,214.3 497.7,214.2 498.1,213.5 498.2,213.4 498.6,212.8 498.7,212.7 499.1,212.1 499.2,211.9 499.7,211.3 499.7,211.2 500.2,210.6 500.3,210.5 500.8,209.9 500.9,209.8 501.3,209.2 501.4,209.1 501.9,208.6 502.0,208.4 502.5,207.9 502.6,207.8 502.7,207.7 503.1,207.2 503.2,207.1 503.4,206.8 503.7,206.6 503.8,206.5 504.3,205.9 504.4,205.8 504.6,205.6 504.9,205.3 505.0,205.2 505.3,204.9 505.6,204.7 505.7,204.6 505.9,204.3 506.2,204.1 506.3,204.0 506.6,203.7 506.9,203.5 507.0,203.4 507.5,202.9 507.5,202.9 507.7,202.8 508.2,202.3 508.3,202.2 508.5,202.1 508.9,201.7 509.0,201.6 509.4,201.3 509.6,201.2 509.7,201.1 510.3,200.6 510.4,200.5 510.6,200.4 511.0,200.1 511.1,200.0 511.2,200.0 511.7,199.6 511.8,199.5 512.5,199.0 512.6,199.0 513.2,198.5 513.3,198.5 513.9,198.1 514.1,198.0 514.7,197.6 514.8,197.5 515.4,197.1 515.6,197.0 516.2,196.6 516.3,196.6 516.8,196.3 517.0,196.2 517.1,196.1 517.8,195.8 517.9,195.7 518.3,195.5 518.6,195.3 518.7,195.3 519.4,194.9 519.5,194.9 520.2,194.5 520.3,194.5 521.0,194.1 521.1,194.1 521.8,193.8 522.0,193.7 522.7,193.4 522.8,193.4 523.0,193.3 523.5,193.1 523.6,193.0 524.3,192.7 524.5,192.7 525.2,192.4 525.3,192.3 526.0,192.1 526.2,192.0 526.2,192.0 526.9,191.8 527.1,191.7 527.8,191.5 527.9,191.4 528.7,191.2 528.8,191.2 529.3,191.0 529.5,190.9 529.7,190.9 530.3,190.7 530.4,190.7 530.6,190.7 531.3,190.5 531.5,190.4 532.2,190.2 532.2,190.2 532.4,190.2 532.7,190.1 533.1,190.0 533.3,190.0 534.0,189.8 534.2,189.8 534.3,189.8 535.0,189.6 535.1,189.6 535.9,189.4 536.0,189.4 536.8,189.3 537.0,189.3 537.7,189.1 537.9,189.1 538.7,189.0 538.8,189.0 539.6,188.9 539.8,188.8 540.6,188.7 540.7,188.7 541.5,188.6 541.7,188.6 542.5,188.6 542.5,188.6 542.6,188.5 543.4,188.5 543.4,188.5 543.6,188.5 544.4,188.4 544.6,188.4 545.1,188.4 545.4,188.4 545.5,188.4 546.3,188.3 546.5,188.3 547.3,188.3 547.5,188.3 548.3,188.3 548.5,188.3 549.3,188.3 549.4,188.3 550.0,188.3 550.3,188.3 550.4,188.3 551.2,188.3 551.4,188.4 552.0,188.4 552.2,188.4 552.4,188.4 553.2,188.4 553.4,188.5 554.2,188.5 554.2,188.5 554.4,188.5 554.5,188.5 555.2,188.6 555.4,188.6 555.5,188.6 556.2,188.7 556.4,188.7 557.2,188.8 557.4,188.8 558.2,188.9 558.4,188.9 558.4,188.9 559.2,189.0 559.4,189.1 560.2,189.2 560.4,189.2 560.7,189.3 561.2,189.3 561.4,189.4 562.2,189.5 562.4,189.5 563.2,189.7 563.4,189.7 563.4,189.7 564.3,189.9 564.4,189.9 565.3,190.1 565.4,190.1 566.3,190.3 566.4,190.3 566.7,190.4 567.3,190.5 567.5,190.6 568.3,190.8 568.5,190.8 569.3,191.0 569.5,191.1 570.3,191.3 570.5,191.3 571.3,191.6 571.5,191.6 572.1,191.8 572.4,191.9 572.5,191.9 573.4,192.2 573.5,192.2 574.4,192.5 574.5,192.5 575.4,192.8 575.4,192.8 575.6,192.9 576.4,193.2 576.6,193.2 577.4,193.5 577.6,193.6 578.1,193.8 578.4,193.9 578.6,193.9 579.4,194.3 579.6,194.3 580.4,194.6 580.4,194.6 580.6,194.7 581.4,195.1 581.6,195.1 582.4,195.5 582.6,195.5 583.3,195.8 583.4,195.9 583.6,196.0 584.3,196.3 584.4,196.3 584.6,196.4 584.6,196.4 585.4,196.8 585.6,196.9 586.4,197.2 586.6,197.3 587.4,197.7 587.6,197.8 588.4,198.2 588.5,198.3 589.4,198.7 589.5,198.8 590.2,199.1 590.3,199.2 590.5,199.3 591.3,199.7 591.5,199.8 592.3,200.2 592.5,200.3 592.6,200.4 592.7,200.5 592.9,200.5 593.5,200.9 593.7,200.9 594.6,201.4 594.7,201.4 595.6,201.9 595.7,202.0 595.9,202.0 596.6,202.4 596.7,202.5 597.6,202.9 597.8,203.0 598.6,203.5 598.8,203.6 599.6,204.0 599.8,204.1 600.6,204.6 600.8,204.7 601.6,205.2 601.7,205.3 602.6,205.8 602.7,205.9 603.6,206.4 603.7,206.5 604.5,207.0 604.5,207.0 604.7,207.1 605.5,207.6 605.7,207.7 606.5,208.2 606.6,208.3 607.4,208.9 607.6,209.0 608.0,209.3 608.4,209.5 608.6,209.6 609.4,210.2 609.5,210.3 610.3,210.9 610.5,211.0 610.9,211.3 611.3,211.6 611.4,211.7 612.2,212.2 612.4,212.4 613.1,212.9 613.1,213.0 613.3,213.1 613.7,213.4 614.1,213.7 614.2,213.8 615.0,214.4 615.1,214.5 615.5,214.8 615.9,215.1 616.1,215.3 616.6,215.7 616.8,215.9 617.0,216.0 617.7,216.6 617.9,216.8 618.6,217.4 618.8,217.5 619.5,218.2 619.7,218.3 620.4,218.9 620.5,219.1 621.3,219.7 621.4,219.9 622.2,220.5 622.3,220.7 623.0,221.3 623.2,221.5 623.9,222.2 624.0,222.3 624.7,223.0 624.9,223.1 625.6,223.8 625.7,224.0 626.0,224.3 626.4,224.7 626.5,224.8 627.2,225.5 627.4,225.7 627.7,226.0 628.0,226.4 628.2,226.5 628.9,227.2 629.0,227.4 629.7,228.1 629.8,228.3 630.5,229.0 630.6,229.1 631.2,229.9 631.4,230.0 631.7,230.5 632.0,230.8 632.1,230.9 632.8,231.7 632.9,231.8 633.5,232.6 633.7,232.8 634.3,233.5 634.4,233.7 635.0,234.4 635.2,234.6 635.8,235.4 635.9,235.5 636.5,236.3 636.6,236.5 637.2,237.3 637.3,237.4 637.9,238.2 638.0,238.4 638.6,239.2 638.7,239.3 639.1,239.9 639.3,240.1 639.4,240.3 640.0,241.1 640.1,241.3 640.7,242.1 640.8,242.2 641.3,243.1 641.4,243.2 641.9,243.9 642.0,244.0 642.1,244.2 642.6,245.0 642.7,245.2 643.2,246.0 643.3,246.2 643.8,247.0 643.9,247.2 644.4,248.0 644.5,248.2 645.0,249.1 645.1,249.2 645.5,249.8 645.6,250.1 645.7,250.2 646.2,251.1 646.3,251.3 646.8,252.1 646.9,252.3 647.3,253.1 647.4,253.3 647.7,253.8 647.9,254.2 648.0,254.3 648.4,255.2 648.5,255.4 648.9,256.2 649.0,256.4 649.4,257.3 649.5,257.5 649.9,258.3 650.0,258.5 650.3,259.2 650.4,259.4 650.5,259.6 650.9,260.4 651.0,260.6 651.3,261.5 651.4,261.7 651.8,262.5 651.9,262.7 651.9,262.7 652.2,263.6 652.3,263.8 652.4,264.1 652.5,264.2 652.5,264.4 652.7,264.3 652.7,264.3 652.8,264.2 653.1,264.0 653.2,263.9 653.5,263.7 653.6,263.6 653.9,263.4 654.0,263.3 654.1,263.3 654.3,263.1 654.4,263.0 654.7,262.8 654.8,262.7 655.1,262.6 655.3,262.5 655.6,262.3 655.7,262.2 655.9,262.1 656.0,262.0 656.1,262.0 656.4,261.8 656.6,261.7 656.6,261.7 656.9,261.5 657.0,261.5 657.3,261.3 657.5,261.2 657.8,261.1 657.9,261.0 658.2,260.8 658.4,260.8 658.7,260.6 658.8,260.6 659.2,260.4 659.3,260.4 659.6,260.2 659.8,260.1 660.1,260.0 660.2,260.0 660.6,259.8 660.7,259.8 661.1,259.6 661.2,259.6 661.5,259.5 661.7,259.4 661.9,259.3 662.0,259.3 662.2,259.2 662.5,259.1 662.7,259.1 663.0,259.0 663.2,258.9 663.5,258.8 663.7,258.8 664.0,258.7 664.2,258.6 664.5,258.5 664.7,258.5 665.0,258.4 665.2,258.4 665.5,258.3 665.7,258.3 666.0,258.2 666.2,258.1 666.6,258.1 666.7,258.0 667.1,258.0 667.2,257.9 667.6,257.9 667.8,257.8 668.1,257.8 668.3,257.8 668.3,257.8 668.7,257.7 668.8,257.7 669.2,257.6 669.3,257.6 669.6,257.6 669.7,257.6 669.9,257.6 670.3,257.5 670.4,257.5 670.8,257.5 671.0,257.4 671.0,257.4 671.3,257.4 671.5,257.4 671.9,257.4 672.0,257.4 672.4,257.4 672.6,257.3 673.0,257.3 673.1,257.3 673.3,257.3 673.5,257.3 673.7,257.3 674.1,257.3 674.2,257.3 674.6,257.3 674.8,257.3 674.9,257.3 675.2,257.3 675.3,257.3 675.7,257.3 675.9,257.3 676.0,257.4 676.3,257.4 676.5,257.4 676.8,257.4 677.0,257.4 677.4,257.4 677.6,257.4 678.0,257.5 678.1,257.5 678.5,257.5 678.7,257.5 679.1,257.6 679.3,257.6 679.7,257.6 679.8,257.7 680.2,257.7 680.4,257.7 680.8,257.8 681.0,257.8 681.4,257.9 681.5,257.9 681.8,258.0 681.9,258.0 682.1,258.0 682.5,258.1 682.7,258.1 683.1,258.2 683.2,258.2 683.4,258.3 683.6,258.3 683.8,258.3 684.2,258.4 684.4,258.5 684.8,258.6 684.9,258.6 685.3,258.7 685.5,258.7 685.7,258.8 685.9,258.8 686.1,258.9 686.3,258.9 686.5,259.0 686.7,259.0 687.1,259.1 687.2,259.2 687.6,259.3 687.8,259.4 688.2,259.5 688.4,259.5 688.6,259.6 688.8,259.7 688.9,259.7 689.3,259.8 689.5,259.9 689.9,260.0 690.1,260.1 690.3,260.2 690.5,260.2 690.6,260.3 691.0,260.4 691.2,260.5 691.3,260.5 691.6,260.7 691.8,260.7 692.2,260.9 692.3,260.9 692.7,261.1 692.9,261.2 693.3,261.3 693.5,261.4 693.9,261.6 694.0,261.6 694.4,261.8 694.6,261.9 694.9,262.0 695.0,262.1 695.2,262.2 695.5,262.3 695.7,262.4 696.1,262.6 696.3,262.7 696.7,262.9 696.8,263.0 697.2,263.1 697.4,263.2 697.8,263.4 697.9,263.5 698.3,263.7 698.5,263.8 698.6,263.9 698.9,264.0 699.0,264.1 699.4,264.3 699.6,264.4 700.0,264.6 700.1,264.7 700.5,265.0 700.7,265.0 701.0,265.3 701.0,265.3 701.2,265.4 701.6,265.6 701.7,265.7 702.1,265.9 702.3,266.0 702.4,266.1 702.7,266.3 702.8,266.4 703.2,266.6 703.3,266.7 703.7,267.0 703.7,267.0 703.9,267.1 704.2,267.3 704.4,267.4 704.8,267.7 704.9,267.8 705.3,268.1 705.4,268.2 705.6,268.3 705.8,268.4 706.0,268.6 706.1,268.7 706.3,268.8 706.5,268.9 706.8,269.2 707.0,269.3 707.3,269.6 707.5,269.7 707.8,270.0 708.0,270.1 708.3,270.4 708.5,270.5 708.8,270.8 709.0,270.9 709.3,271.2 709.5,271.3 709.8,271.6 710.0,271.8 710.1,271.8 710.3,272.1 710.5,272.2 710.8,272.5 710.9,272.6 711.3,272.9 711.4,273.0 711.8,273.3 711.9,273.5 712.2,273.8 712.4,273.9 712.7,274.2 712.8,274.4 713.2,274.7 713.3,274.8 713.4,274.9 713.6,275.1 713.8,275.3 714.0,275.5 714.1,275.6 714.2,275.7 714.5,276.1 714.7,276.2 714.9,276.4 715.0,276.5 715.1,276.7 715.4,277.0 715.6,277.2 715.9,277.5 716.0,277.6 716.3,278.0 716.3,278.0 716.4,278.1 716.7,278.4 716.7,278.5 716.9,278.6 717.1,278.8 717.2,279.0 717.3,279.1 717.6,279.4 717.7,279.6 717.9,279.9 718.0,279.9 718.1,280.1 718.4,280.4 718.5,280.6 718.8,281.0 718.9,281.1 719.1,281.2 719.2,281.5 719.3,281.6 719.6,282.0 719.7,282.1 719.9,282.3 720.0,282.5 720.1,282.6 720.4,283.0 720.5,283.2 720.8,283.5 720.9,283.7 721.2,284.1 721.3,284.2 721.5,284.5 721.5,284.6 721.6,284.8 721.7,284.8 721.9,285.1 722.0,285.3 722.3,285.7 722.4,285.8 722.6,286.2 722.7,286.4 723.0,286.7 723.1,286.9 723.3,287.3 723.4,287.5 723.6,287.8 723.7,288.0 723.8,288.1 724.0,288.4 724.1,288.6 724.3,288.9 724.4,289.1 724.6,289.5 724.7,289.7 724.9,290.1 725.0,290.2 725.2,290.5 725.2,290.6 725.3,290.8 725.5,291.2 725.6,291.3 725.8,291.7 725.8,291.7 725.9,291.9 726.1,292.3 726.2,292.5 726.4,292.9 726.5,293.0 726.7,293.4 726.8,293.6 727.0,294.0 727.0,294.2 727.1,294.2 727.2,294.6 727.3,294.8 727.5,295.2 727.6,295.3 727.7,295.7 727.8,295.7 727.8,295.9 728.0,296.3 728.1,296.5 728.2,296.9 728.3,297.1 728.5,297.5 728.5,297.7 728.7,298.1 728.8,298.2 728.9,298.5 728.9,298.6 729.0,298.8 729.1,299.2 729.2,299.4 729.4,299.8 729.4,300.0 729.6,300.4 729.6,300.6 729.8,301.0 729.8,301.2 729.8,301.3 729.9,301.6 730.0,301.8 730.1,302.2 730.2,302.3 730.2,302.4 730.3,302.8 730.4,302.9 730.5,303.3 730.5,303.5 730.6,303.9 730.7,304.1 730.8,304.5 730.8,304.7 730.9,305.1 731.0,305.3 731.0,305.5 731.1,305.6 731.2,306.3 731.3,307.0 731.4,307.8 731.5,308.5 731.5,309.2 731.5,319.7 731.5,324.2 731.5,326.8 731.5,338.2 727.5,337.1 717.5,334.6 503.4,278.9 490.0,275.4 489.4,275.2 489.4,272.9 489.4,261.2 489.4,256.7 489.4,234.4 489.4,233.8 489.5,233.1 489.5,232.5ZM489.3,290.2 747.5,357.4 748.1,357.5 748.8,357.7 749.4,357.9 750.0,358.1 750.7,358.3 751.3,358.5 751.9,358.7 752.5,358.9 753.2,359.1 753.8,359.4 754.4,359.6 755.1,359.9 755.7,360.1 756.3,360.4 756.9,360.7 757.5,361.0 758.2,361.2 758.8,361.5 759.4,361.8 760.0,362.1 760.6,362.5 761.2,362.8 761.8,363.1 762.4,363.5 763.1,363.8 763.7,364.1 764.3,364.5 764.8,364.9 765.4,365.2 766.0,365.6 766.6,366.0 767.2,366.4 767.8,366.8 768.4,367.2 768.9,367.6 769.5,368.0 770.1,368.4 770.7,368.9 771.2,369.3 771.8,369.7 772.3,370.2 772.9,370.6 773.4,371.1 774.0,371.6 774.5,372.0 775.1,372.5 775.6,373.0 776.1,373.5 776.6,374.0 777.2,374.5 777.7,375.0 778.2,375.5 778.7,376.0 779.2,376.5 779.7,377.0 780.2,377.5 780.7,378.1 781.1,378.6 781.6,379.1 782.1,379.7 782.6,380.2 783.0,380.8 783.5,381.3 783.9,381.9 784.4,382.5 784.8,383.0 785.2,383.6 785.7,384.2 786.1,384.8 786.5,385.4 786.9,385.9 787.3,386.5 787.7,387.1 788.1,387.7 788.5,388.3 788.9,388.9 789.2,389.5 789.6,390.1 790.0,390.8 790.3,391.4 790.7,392.0 791.0,392.6 791.3,393.2 791.7,393.9 792.0,394.5 792.3,395.1 792.6,395.7 792.9,396.4 793.2,397.0 793.5,397.7 793.8,398.3 794.1,398.9 794.3,399.6 794.6,400.2 794.8,400.9 795.1,401.5 795.3,402.2 795.5,402.8 795.8,403.5 796.0,404.1 796.2,404.8 796.4,405.4 796.6,406.1 796.8,406.7 797.0,407.4 797.1,408.0 797.3,408.7 797.5,409.3 797.6,410.0 797.7,410.6 797.9,411.3 798.0,411.9 798.1,412.6 798.2,413.2 798.3,413.9 798.4,414.5 798.5,415.2 798.6,415.8 798.7,416.5 798.8,417.1 798.8,417.8 798.9,418.4 798.9,419.1 798.9,419.7 799.0,420.3 799.0,421.0 799.0,421.6 799.0,422.2 799.0,422.9 799.0,423.5 799.0,424.1 798.9,424.8 798.9,425.4 798.9,426.0 798.8,426.6 798.8,427.2 798.7,427.8 798.6,428.4 798.5,429.0 798.4,429.7 798.3,430.3 798.2,430.8 798.1,431.4 798.0,432.0 797.9,432.6 797.7,433.2 797.6,433.8 797.5,434.4 797.3,434.9 797.1,435.5 797.0,436.1 796.8,436.6 796.6,437.2 796.4,437.7 796.2,438.3 796.0,438.8 795.8,439.3 795.5,439.9 795.3,440.4 795.1,440.9 794.8,441.4 794.6,442.0 794.3,442.5 794.1,443.0 793.8,443.5 793.5,444.0 793.2,444.5 792.9,444.9 792.6,445.4 792.3,445.9 792.0,446.4 791.7,446.8 791.3,447.3 791.0,447.7 790.7,448.2 790.3,448.6 790.0,449.0 789.6,449.5 789.2,449.9 788.9,450.3 788.5,450.7 788.1,451.1 787.7,451.5 787.3,451.9 786.9,452.3 786.5,452.6 786.1,453.0 785.7,453.4 785.2,453.7 784.8,454.1 784.4,454.4 783.9,454.7 783.5,455.1 783.0,455.4 782.6,455.7 782.1,456.0 781.6,456.3 781.1,456.6 780.7,456.9 780.2,457.2 779.7,457.4 779.2,457.7 778.7,457.9 778.2,458.2 777.7,458.4 777.2,458.7 776.6,458.9 776.1,459.1 775.6,459.3 775.1,459.5 774.5,459.7 774.0,459.9 773.4,460.1 772.9,460.3 772.3,460.4 771.8,460.6 771.2,460.7 770.7,460.9 770.1,461.0 769.5,461.1 768.9,461.2 768.4,461.4 767.8,461.5 767.2,461.6 766.6,461.6 766.0,461.7 765.4,461.8 764.8,461.9 764.3,461.9 763.7,462.0 763.1,462.0 762.4,462.0 761.8,462.0 761.2,462.1 760.6,462.1 760.0,462.1 759.4,462.1 758.8,462.0 758.2,462.0 757.5,462.0 756.9,461.9 756.3,461.9 755.7,461.8 755.1,461.8 754.4,461.7 753.8,461.6 753.2,461.5 752.5,461.4 751.9,461.3 751.3,461.2 750.7,461.1 750.0,460.9 749.4,460.8 748.8,460.7 748.1,460.5 747.5,460.4 746.9,460.2 488.7,389.1 488.1,388.9 487.5,388.7 486.9,388.5 486.3,388.3 485.7,388.1 485.1,387.9 484.4,387.7 483.8,387.5 483.2,387.3 482.6,387.0 482.0,386.8 481.4,386.5 480.8,386.3 480.2,386.0 479.6,385.8 479.0,385.5 478.5,385.2 477.9,384.9 477.3,384.6 476.7,384.3 476.1,384.0 475.5,383.7 474.9,383.4 474.4,383.0 473.8,382.7 473.2,382.3 472.6,382.0 472.1,381.6 471.5,381.3 470.9,380.9 470.4,380.5 469.8,380.1 469.2,379.8 468.7,379.4 468.1,379.0 467.6,378.6 467.0,378.1 466.5,377.7 466.0,377.3 465.4,376.9 464.9,376.4 464.4,376.0 463.9,375.6 463.3,375.1 462.8,374.7 462.3,374.2 461.8,373.7 461.3,373.3 460.8,372.8 460.3,372.3 459.8,371.8 459.3,371.3 458.8,370.8 458.4,370.3 457.9,369.8 457.4,369.3 457.0,368.8 456.5,368.3 456.1,367.8 455.6,367.2 455.2,366.7 454.7,366.2 454.3,365.6 453.9,365.1 453.4,364.5 453.0,364.0 452.6,363.4 452.2,362.9 451.8,362.3 451.4,361.7 451.0,361.2 450.7,360.6 450.3,360.0 449.9,359.4 449.5,358.9 449.2,358.3 448.8,357.7 448.5,357.1 448.1,356.5 447.8,355.9 447.5,355.3 447.2,354.7 446.8,354.1 446.5,353.5 446.2,352.9 445.9,352.3 445.6,351.7 445.4,351.1 445.1,350.5 444.8,349.9 444.6,349.2 444.3,348.6 444.0,348.0 443.8,347.4 443.6,346.8 443.3,346.1 443.1,345.5 442.9,344.9 442.7,344.3 442.5,343.7 442.3,343.0 442.1,342.4 441.9,341.8 441.8,341.1 441.6,340.5 441.4,339.9 441.3,339.3 441.1,338.6 441.0,338.0 440.9,337.4 440.8,336.8 440.6,336.1 440.5,335.5 440.4,334.9 440.3,334.3 440.3,333.6 440.2,333.0 440.1,332.4 440.0,331.8 440.0,331.1 439.9,330.5 439.9,329.9 439.9,329.3 439.8,328.7 439.8,328.1 439.8,327.5 439.8,326.8 439.8,326.2 439.8,325.6 439.8,325.0 439.9,324.4 439.9,323.8 439.9,323.2 440.0,322.6 440.0,322.1 440.1,321.5 440.2,320.9 440.3,320.3 440.3,319.7 440.4,319.1 440.5,318.6 440.6,318.0 440.8,317.4 440.9,316.9 441.0,316.3 441.1,315.8 441.3,315.2 441.4,314.7 441.6,314.1 441.8,313.6 441.9,313.0 442.1,312.5 442.3,312.0 442.5,311.4 442.7,310.9 442.9,310.4 443.1,309.9 443.3,309.4 443.6,308.9 443.8,308.4 444.0,307.9 444.3,307.4 444.6,306.9 444.8,306.4 445.1,306.0 445.4,305.5 445.6,305.0 445.9,304.6 446.2,304.1 446.5,303.7 446.8,303.2 447.2,302.8 447.5,302.4 447.8,301.9 448.1,301.5 448.5,301.1 448.8,300.7 449.2,300.3 449.5,299.9 449.9,299.5 450.3,299.1 450.7,298.7 451.0,298.4 451.4,298.0 451.8,297.6 452.2,297.3 452.6,296.9 453.0,296.6 453.4,296.3 453.9,295.9 454.3,295.6 454.7,295.3 455.2,295.0 455.6,294.7 456.1,294.4 456.5,294.1 457.0,293.8 457.4,293.6 457.9,293.3 458.4,293.0 458.8,292.8 459.3,292.5 459.8,292.3 460.3,292.1 460.8,291.8 461.3,291.6 461.8,291.4 462.3,291.2 462.8,291.0 463.3,290.8 463.9,290.6 464.4,290.5 464.9,290.3 465.4,290.1 466.0,290.0 466.5,289.9 467.0,289.7 467.6,289.6 468.1,289.5 468.7,289.4 469.2,289.2 469.8,289.2 470.4,289.1 470.9,289.0 471.5,288.9 472.1,288.8 472.6,288.8 473.2,288.7 473.8,288.7 474.4,288.6 474.9,288.6 475.5,288.6 476.1,288.6 476.7,288.6 477.3,288.6 477.9,288.6 478.5,288.6 479.0,288.6 479.6,288.7 480.2,288.7 480.8,288.7 481.4,288.8 482.0,288.9 482.6,288.9 483.2,289.0 483.8,289.1 484.4,289.2 485.1,289.3 485.7,289.4 486.3,289.5 486.9,289.6 487.5,289.8 488.1,289.9 488.7,290.1Z" fill="#673de6"/>
<line x1="367" y1="333" x2="497" y2="333" stroke="#d65a9c" stroke-width="1.6" stroke-opacity="0.85"/>
<path d="M604.0,629.3 600.5,629.4 597.0,629.8 593.6,630.3 590.1,630.9 586.7,631.8 583.2,632.9 579.8,634.1 512.0,660.5 510.1,661.3 508.4,662.1 507.2,662.9 506.3,663.5 505.8,664.2 505.7,664.8 505.7,685.8 506.0,686.3 506.6,686.9 507.6,687.3 509.0,687.7 510.8,688.1 512.9,688.5 589.2,698.7 592.8,699.1 596.4,699.4 600.1,699.6 603.7,699.7 607.3,699.6 610.9,699.4 614.4,699.1 618.0,698.7 621.6,698.1 625.1,697.5 628.7,696.7 632.2,695.8 695.5,678.3 697.6,677.7 699.2,677.1 700.6,676.5 701.5,675.9 702.1,675.3 702.2,674.7 702.2,653.7 702.0,653.1 701.5,652.5 700.5,651.9 699.2,651.3 697.5,650.7 695.4,650.2 621.6,631.5 618.1,630.7 614.5,630.1 611.0,629.6 607.5,629.4Z" fill="#37364f"/>
<path d="M512.9,667.5 510.8,667.1 509.0,666.7 507.6,666.3 506.6,665.9 506.0,665.3 505.7,664.8 505.8,664.2 506.3,663.5 507.2,662.9 508.4,662.1 510.1,661.3 512.0,660.5 579.8,634.1 583.2,632.9 586.7,631.8 590.1,630.9 593.6,630.3 597.0,629.8 600.5,629.4 604.0,629.3 607.5,629.4 611.0,629.6 614.5,630.1 618.1,630.7 621.6,631.5 695.4,650.2 697.5,650.7 699.2,651.3 700.5,651.9 701.5,652.5 702.0,653.1 702.2,653.7 702.1,654.3 701.5,654.9 700.6,655.5 699.2,656.1 697.6,656.7 695.5,657.3 632.2,674.8 628.7,675.7 625.1,676.5 621.6,677.1 618.0,677.7 614.4,678.1 610.9,678.4 607.3,678.6 603.7,678.7 600.1,678.6 596.4,678.4 592.8,678.1 589.2,677.7Z" fill="#6d6c80"/>
<path d="M589.9,671.1 593.4,671.5 596.8,671.8 600.3,672.0 603.7,672.1 607.1,672.0 610.4,671.8 613.8,671.5 617.2,671.1 620.6,670.6 623.9,670.0 627.3,669.2 630.7,668.4 685.5,653.2 620.2,636.7 616.9,636.0 613.7,635.4 610.4,635.0 607.2,634.8 604.1,634.7 600.9,634.8 597.7,635.1 594.6,635.6 591.4,636.2 588.3,637.0 585.1,637.9 581.9,639.1 522.8,662.1Z" fill="#1c1b20"/>
<circle cx="559.4" cy="681.8" r="3.2" fill="#e2477a"/>
<circle cx="568.7" cy="683.9" r="3.2" fill="#e2477a"/>
<circle cx="577.7" cy="686.3" r="3.2" fill="#e2477a"/>
<line x1="628.2" y1="686.7" x2="687.3" y2="671.7" stroke="#77768b" stroke-width="4.7" stroke-linecap="round"/>
<path d="M604.0,597.6 600.5,597.7 597.0,598.1 593.6,598.6 590.1,599.2 586.7,600.1 583.2,601.2 579.8,602.4 512.0,628.8 510.1,629.6 508.4,630.4 507.2,631.2 506.3,631.8 505.8,632.5 505.7,633.1 505.7,654.1 506.0,654.6 506.6,655.2 507.6,655.6 509.0,656.0 510.8,656.4 512.9,656.8 589.2,667.0 592.8,667.4 596.4,667.7 600.1,667.9 603.7,668.0 607.3,667.9 610.9,667.7 614.4,667.4 618.0,667.0 621.6,666.4 625.1,665.8 628.7,665.0 632.2,664.1 695.5,646.6 697.6,646.0 699.2,645.4 700.6,644.8 701.5,644.2 702.1,643.6 702.2,643.0 702.2,622.0 702.0,621.4 701.5,620.8 700.5,620.2 699.2,619.6 697.5,619.0 695.4,618.5 621.6,599.8 618.1,599.0 614.5,598.4 611.0,597.9 607.5,597.7Z" fill="#37364f"/>
<path d="M512.9,635.8 510.8,635.4 509.0,635.0 507.6,634.6 506.6,634.2 506.0,633.6 505.7,633.1 505.8,632.5 506.3,631.8 507.2,631.2 508.4,630.4 510.1,629.6 512.0,628.8 579.8,602.4 583.2,601.2 586.7,600.1 590.1,599.2 593.6,598.6 597.0,598.1 600.5,597.7 604.0,597.6 607.5,597.7 611.0,597.9 614.5,598.4 618.1,599.0 621.6,599.8 695.4,618.5 697.5,619.0 699.2,619.6 700.5,620.2 701.5,620.8 702.0,621.4 702.2,622.0 702.1,622.6 701.5,623.2 700.6,623.8 699.2,624.4 697.6,625.0 695.5,625.6 632.2,643.1 628.7,644.0 625.1,644.8 621.6,645.4 618.0,646.0 614.4,646.4 610.9,646.7 607.3,646.9 603.7,647.0 600.1,646.9 596.4,646.7 592.8,646.4 589.2,646.0Z" fill="#6d6c80"/>
<path d="M589.9,639.4 593.4,639.8 596.8,640.1 600.3,640.3 603.7,640.4 607.1,640.3 610.4,640.1 613.8,639.8 617.2,639.4 620.6,638.9 623.9,638.3 627.3,637.5 630.7,636.7 685.5,621.5 620.2,605.0 616.9,604.3 613.7,603.7 610.4,603.3 607.2,603.1 604.1,603.0 600.9,603.1 597.7,603.4 594.6,603.9 591.4,604.5 588.3,605.3 585.1,606.2 581.9,607.4 522.8,630.4Z" fill="#1c1b20"/>
<circle cx="559.4" cy="650.1" r="3.2" fill="#e2477a"/>
<circle cx="568.7" cy="652.2" r="3.2" fill="#e2477a"/>
<circle cx="577.7" cy="654.6" r="3.2" fill="#e2477a"/>
<line x1="628.2" y1="655.0" x2="687.3" y2="640.0" stroke="#77768b" stroke-width="4.7" stroke-linecap="round"/>
<path d="M604.0,565.9 600.5,566.0 597.0,566.4 593.6,566.9 590.1,567.5 586.7,568.4 583.2,569.5 579.8,570.7 512.0,597.1 510.1,597.9 508.4,598.7 507.2,599.5 506.3,600.1 505.8,600.8 505.7,601.4 505.7,622.4 506.0,622.9 506.6,623.5 507.6,623.9 509.0,624.3 510.8,624.7 512.9,625.1 589.2,635.3 592.8,635.7 596.4,636.0 600.1,636.2 603.7,636.3 607.3,636.2 610.9,636.0 614.4,635.7 618.0,635.3 621.6,634.7 625.1,634.1 628.7,633.3 632.2,632.4 695.5,614.9 697.6,614.3 699.2,613.7 700.6,613.1 701.5,612.5 702.1,611.9 702.2,611.3 702.2,590.3 702.0,589.7 701.5,589.1 700.5,588.5 699.2,587.9 697.5,587.3 695.4,586.8 621.6,568.1 618.1,567.3 614.5,566.7 611.0,566.2 607.5,566.0Z" fill="#37364f"/>
<path d="M512.9,604.1 510.8,603.7 509.0,603.3 507.6,602.9 506.6,602.5 506.0,601.9 505.7,601.4 505.8,600.8 506.3,600.1 507.2,599.5 508.4,598.7 510.1,597.9 512.0,597.1 579.8,570.7 583.2,569.5 586.7,568.4 590.1,567.5 593.6,566.9 597.0,566.4 600.5,566.0 604.0,565.9 607.5,566.0 611.0,566.2 614.5,566.7 618.1,567.3 621.6,568.1 695.4,586.8 697.5,587.3 699.2,587.9 700.5,588.5 701.5,589.1 702.0,589.7 702.2,590.3 702.1,590.9 701.5,591.5 700.6,592.1 699.2,592.7 697.6,593.3 695.5,593.9 632.2,611.4 628.7,612.3 625.1,613.1 621.6,613.7 618.0,614.3 614.4,614.7 610.9,615.0 607.3,615.2 603.7,615.3 600.1,615.2 596.4,615.0 592.8,614.7 589.2,614.3Z" fill="#6d6c80"/>
<path d="M589.9,607.7 593.4,608.1 596.8,608.4 600.3,608.6 603.7,608.7 607.1,608.6 610.4,608.4 613.8,608.1 617.2,607.7 620.6,607.2 623.9,606.6 627.3,605.8 630.7,605.0 685.5,589.8 620.2,573.3 616.9,572.6 613.7,572.0 610.4,571.6 607.2,571.4 604.1,571.3 600.9,571.4 597.7,571.7 594.6,572.2 591.4,572.8 588.3,573.6 585.1,574.5 581.9,575.7 522.8,598.7Z" fill="#1c1b20"/>
<circle cx="559.4" cy="618.4" r="3.2" fill="#e2477a"/>
<circle cx="568.7" cy="620.5" r="3.2" fill="#e2477a"/>
<circle cx="577.7" cy="622.9" r="3.2" fill="#e2477a"/>
<line x1="628.2" y1="623.3" x2="687.3" y2="608.3" stroke="#77768b" stroke-width="4.7" stroke-linecap="round"/>
<path d="M604.0,534.2 600.5,534.3 597.0,534.7 593.6,535.2 590.1,535.8 586.7,536.7 583.2,537.8 579.8,539.0 512.0,565.4 510.1,566.2 508.4,567.0 507.2,567.8 506.3,568.4 505.8,569.1 505.7,569.7 505.7,590.7 506.0,591.2 506.6,591.8 507.6,592.2 509.0,592.6 510.8,593.0 512.9,593.4 589.2,603.6 592.8,604.0 596.4,604.3 600.1,604.5 603.7,604.6 607.3,604.5 610.9,604.3 614.4,604.0 618.0,603.6 621.6,603.0 625.1,602.4 628.7,601.6 632.2,600.7 695.5,583.2 697.6,582.6 699.2,582.0 700.6,581.4 701.5,580.8 702.1,580.2 702.2,579.6 702.2,558.6 702.0,558.0 701.5,557.4 700.5,556.8 699.2,556.2 697.5,555.6 695.4,555.1 621.6,536.4 618.1,535.6 614.5,535.0 611.0,534.5 607.5,534.3Z" fill="#37364f"/>
<path d="M512.9,572.4 510.8,572.0 509.0,571.6 507.6,571.2 506.6,570.8 506.0,570.2 505.7,569.7 505.8,569.1 506.3,568.4 507.2,567.8 508.4,567.0 510.1,566.2 512.0,565.4 579.8,539.0 583.2,537.8 586.7,536.7 590.1,535.8 593.6,535.2 597.0,534.7 600.5,534.3 604.0,534.2 607.5,534.3 611.0,534.5 614.5,535.0 618.1,535.6 621.6,536.4 695.4,555.1 697.5,555.6 699.2,556.2 700.5,556.8 701.5,557.4 702.0,558.0 702.2,558.6 702.1,559.2 701.5,559.8 700.6,560.4 699.2,561.0 697.6,561.6 695.5,562.2 632.2,579.7 628.7,580.6 625.1,581.4 621.6,582.0 618.0,582.6 614.4,583.0 610.9,583.3 607.3,583.5 603.7,583.6 600.1,583.5 596.4,583.3 592.8,583.0 589.2,582.6Z" fill="#6d6c80"/>
<path d="M589.9,576.0 593.4,576.4 596.8,576.7 600.3,576.9 603.7,577.0 607.1,576.9 610.4,576.7 613.8,576.4 617.2,576.0 620.6,575.5 623.9,574.9 627.3,574.1 630.7,573.3 685.5,558.1 620.2,541.6 616.9,540.9 613.7,540.3 610.4,539.9 607.2,539.7 604.1,539.6 600.9,539.7 597.7,540.0 594.6,540.5 591.4,541.1 588.3,541.9 585.1,542.8 581.9,544.0 522.8,567.0Z" fill="#1c1b20"/>
<circle cx="559.4" cy="586.7" r="3.2" fill="#e2477a"/>
<circle cx="568.7" cy="588.8" r="3.2" fill="#e2477a"/>
<circle cx="577.7" cy="591.2" r="3.2" fill="#e2477a"/>
<line x1="628.2" y1="591.6" x2="687.3" y2="576.6" stroke="#77768b" stroke-width="4.7" stroke-linecap="round"/>
<ellipse cx="498.5" cy="546.0" rx="27.5" ry="25.0" transform="rotate(50 498.5 546.0)" fill="#fa4d7b"/><path d="M487.3,532.2 L509.5,560.1 M510.2,538.6 L487.0,553.7" stroke="#ffffff" stroke-width="4.4" stroke-linecap="butt"/>
<path d="M74.4,476.9 Q69.6,475.7 69.6,480.7 L69.6,477.2 Q69.6,482.2 74.4,483.4 L210.1,517.8 Q214.9,519.0 219.7,517.7 L292.6,498.8 Q297.4,497.5 297.4,492.5 L297.4,496.0 Q297.4,491.0 292.6,492.3 L219.7,511.2 Q214.9,512.5 210.1,511.3 Z" fill="#2b2748"/>
<path d="M72.4,474.7 Q69.6,475.7 72.5,476.4 L212.0,511.8 Q214.9,512.5 217.8,511.7 L294.5,491.8 Q297.4,491.0 297.0,488.0 L296.4,483.0 Q296.0,480.0 293.1,479.3 L162.9,446.2 Q160.0,445.5 157.2,446.5 Z" fill="#ffffff"/>
<polygon points="128.6,465.5 157.8,458.4 269.5,487.1 235.2,496.5" fill="#1e1e22"/>
<path d="M134.4,464.1L242.1,494.6M140.3,462.7L248.9,492.7M146.1,461.2L255.8,490.9M152.0,459.8L262.6,489.0M133.9,467.1L163.4,459.8M139.3,468.6L169.0,461.3M144.6,470.1L174.6,462.7M149.9,471.7L180.1,464.1M155.2,473.2L185.7,465.6M160.6,474.8L191.3,467.0M165.9,476.4L196.9,468.4M171.2,477.9L202.5,469.9M176.6,479.4L208.1,471.3M181.9,481.0L213.7,472.8M187.2,482.6L219.2,474.2M192.6,484.1L224.8,475.6M197.9,485.6L230.4,477.1M203.2,487.2L236.0,478.5M208.5,488.8L241.6,479.9M213.9,490.3L247.2,481.4M219.2,491.9L252.7,482.8M224.5,493.4L258.3,484.2M229.9,494.9L263.9,485.7" stroke="#d8d8dc" stroke-width="0.65" fill="none"/>
<path d="M182.5,335.3 Q184.5,327.0 192.7,329.4 L321.3,367.1 Q329.5,369.5 327.8,377.8 L308.0,478.2 Q306.3,486.5 298.1,484.3 L164.5,448.2 Q156.3,446.0 158.3,437.7 Z" fill="#221f33"/>
<path d="M194.3,335.6 Q188.5,333.9 187.1,339.7 L164.3,436.2 Q162.9,442.1 168.7,443.6 L296.3,478.1 Q302.1,479.7 303.2,473.8 L322.0,379.2 Q323.1,373.4 317.4,371.7 Z" fill="#ffffff"/>
<path d="M228.5,440 L207.2,382.3 A61,61 0 0 1 275.8,402.1 Z" fill="#008661"/>
<path d="M74.4,776.9 Q69.6,775.7 69.6,780.7 L69.6,777.2 Q69.6,782.2 74.4,783.4 L210.1,817.8 Q214.9,819.0 219.7,817.7 L292.6,798.8 Q297.4,797.5 297.4,792.5 L297.4,796.0 Q297.4,791.0 292.6,792.3 L219.7,811.2 Q214.9,812.5 210.1,811.3 Z" fill="#2b2748"/>
<path d="M72.4,774.7 Q69.6,775.7 72.5,776.4 L212.0,811.8 Q214.9,812.5 217.8,811.7 L294.5,791.8 Q297.4,791.0 297.0,788.0 L296.4,783.0 Q296.0,780.0 293.1,779.3 L162.9,746.2 Q160.0,745.5 157.2,746.5 Z" fill="#ffffff"/>
<polygon points="128.6,765.5 157.8,758.4 269.5,787.1 235.2,796.5" fill="#1e1e22"/>
<path d="M134.4,764.1L242.1,794.6M140.3,762.7L248.9,792.7M146.1,761.2L255.8,790.9M152.0,759.8L262.6,789.0M133.9,767.0L163.4,759.8M139.3,768.6L169.0,761.3M144.6,770.1L174.6,762.7M149.9,771.7L180.1,764.1M155.2,773.2L185.7,765.6M160.6,774.8L191.3,767.0M165.9,776.4L196.9,768.4M171.2,777.9L202.5,769.9M176.6,779.5L208.1,771.3M181.9,781.0L213.7,772.8M187.2,782.5L219.2,774.2M192.6,784.1L224.8,775.6M197.9,785.6L230.4,777.1M203.2,787.2L236.0,778.5M208.5,788.8L241.6,779.9M213.9,790.3L247.2,781.4M219.2,791.9L252.7,782.8M224.5,793.4L258.3,784.2M229.9,795.0L263.9,785.7" stroke="#d8d8dc" stroke-width="0.65" fill="none"/>
<path d="M182.5,635.3 Q184.5,627.0 192.7,629.4 L321.3,667.1 Q329.5,669.5 327.8,677.8 L308.0,778.2 Q306.3,786.5 298.1,784.3 L164.5,748.2 Q156.3,746.0 158.3,737.7 Z" fill="#221f33"/>
<path d="M194.3,635.6 Q188.5,633.9 187.1,639.7 L164.3,736.2 Q162.9,742.1 168.7,743.6 L296.3,778.1 Q302.1,779.7 303.2,773.8 L322.0,679.2 Q323.1,673.4 317.4,671.7 Z" fill="#ffffff"/>
<path d="M207.2,686.5 L221.5,682.0 L245.0,733.0 L228.5,744.2 Z" fill="#dc2f62"/><path d="M232.6,681.8 A61,61 0 0 1 275.2,706.8 L253.4,723.4 Z" fill="#dc2f62"/><path d="M218.3,672.5 L253.1,743.9" stroke="#dc2f62" stroke-width="4.7"/>
<g fill="#2f1c6a"><polygon points="74,74 80.5,77.2 80.5,83.7 89.7,83.7 96.2,87.4 74,87.4"/><polygon points="92,74 98.7,77.2 98.7,85.5 92,81.9"/><polygon points="74,91.1 80.5,94.3 80.5,103.1 74,99.9"/><polygon points="76.3,89.2 98.7,89.2 98.7,103.6 92,100.3 92,93 82.3,93"/></g>
<text x="109.3" y="94.8"  font-weight="bold" font-size="16.5" fill="#2f1c6a" textLength="114" lengthAdjust="spacingAndGlyphs">HOSTINGER</text>
<text x="789.7" y="94.6"  font-weight="bold" font-size="17" fill="#2a2250" textLength="162.3" lengthAdjust="spacingAndGlyphs">Three. Two. Online</text>
<text x="72.3" y="197.1"  font-weight="bold" font-size="38.5" fill="#2f1c6a" textLength="115" lengthAdjust="spacingAndGlyphs">Cloud</text>
<text x="71" y="249.8"  font-weight="bold" font-size="38.5" fill="#2f1c6a" textLength="153" lengthAdjust="spacingAndGlyphs">Hosting</text>
<text x="742.5" y="596.7"  font-weight="bold" font-size="38.5" fill="#ffffff" textLength="211" lengthAdjust="spacingAndGlyphs">Traditional</text>
<text x="801" y="649.4"  font-weight="bold" font-size="38.5" fill="#ffffff" textLength="153" lengthAdjust="spacingAndGlyphs">Hosting</text>
<text x="365.4" y="277.3"  font-size="16.5" fill="#c04a82" textLength="32.7" lengthAdjust="spacingAndGlyphs">Out</text>
<text x="365.4" y="302.3"  font-size="16.5" fill="#c04a82" textLength="16.6" lengthAdjust="spacingAndGlyphs">of</text>
<text x="365.4" y="326.2"  font-size="16.5" fill="#c04a82" textLength="51" lengthAdjust="spacingAndGlyphs">Order</text>
</svg>
</body></html>
